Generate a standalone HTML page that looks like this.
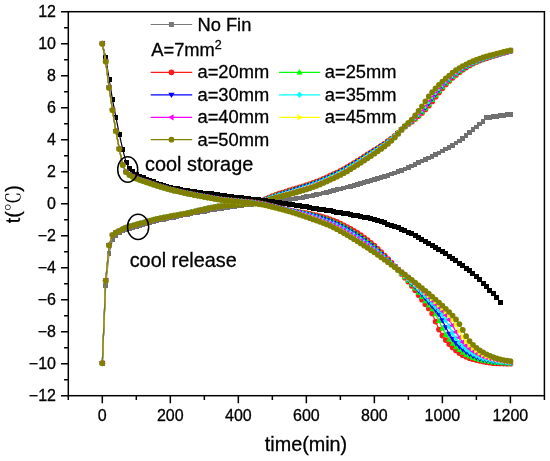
<!DOCTYPE html>
<html><head><meta charset="utf-8"><title>chart</title><style>html,body{margin:0;padding:0;background:#fff}svg{display:block}</style></head><body>
<svg width="550" height="461" viewBox="0 0 550 461">
<rect width="550" height="461" fill="#fff"/>
<polyline fill="none" stroke="#707070" stroke-width="1.2" points="102.31,363.22 105.71,285.30 109.11,253.30 112.51,239.70 115.91,235.38 119.31,232.87 122.71,231.03 126.11,229.58 129.51,228.42 132.91,227.41 136.31,226.39 139.72,225.42 143.12,224.49 146.52,223.55 149.92,222.62 153.32,221.72 156.72,220.90 160.12,220.13 163.52,219.40 166.92,218.70 170.32,217.99 173.72,217.28 177.12,216.57 180.52,215.87 183.92,215.17 187.32,214.48 190.73,213.79 194.13,213.12 197.53,212.47 200.93,211.83 204.33,211.20 207.73,210.57 211.13,209.96 214.53,209.37 217.93,208.82 221.33,208.30 224.73,207.80 228.13,207.33 231.53,206.88 234.94,206.44 238.34,206.01 241.74,205.59 245.14,205.17 248.54,204.76 251.94,204.35 255.34,203.93 258.74,203.51 262.14,203.08 265.54,202.63 268.94,202.19 272.34,201.75 275.74,201.30 279.14,200.86 282.55,200.40 285.95,199.94 289.35,199.48 292.75,199.00 296.15,198.53 299.55,198.00 302.95,197.40 306.35,196.76 309.75,196.08 313.15,195.36 316.55,194.61 319.95,193.84 323.35,193.04 326.75,192.23 330.16,191.40 333.56,190.57 336.96,189.73 340.36,188.90 343.76,188.05 347.16,187.19 350.56,186.31 353.96,185.41 357.36,184.49 360.76,183.55 364.16,182.58 367.56,181.59 370.96,180.59 374.36,179.58 377.76,178.56 381.17,177.51 384.57,176.43 387.97,175.33 391.37,174.19 394.77,173.01 398.17,171.78 401.57,170.50 404.97,169.13 408.37,167.64 411.77,166.05 415.17,164.41 418.57,162.76 421.97,161.14 425.37,159.53 428.78,157.91 432.18,156.27 435.58,154.58 438.98,152.82 442.38,151.02 445.78,149.19 449.18,147.29 452.58,145.29 455.98,143.16 459.38,140.83 462.78,138.22 466.18,135.41 469.58,132.52 472.99,129.65 476.39,126.89 479.79,124.18 483.19,121.30 486.59,117.78 489.99,117.28 493.39,116.77 496.79,116.27 500.19,115.77 503.59,115.27 506.99,114.76 510.39,114.26"/>
<g shape-rendering="crispEdges"><rect x="100.01" y="360.92" width="4.60" height="4.60" fill="#707070"/><rect x="103.41" y="283.00" width="4.60" height="4.60" fill="#707070"/><rect x="106.81" y="251.00" width="4.60" height="4.60" fill="#707070"/><rect x="110.21" y="237.40" width="4.60" height="4.60" fill="#707070"/><rect x="113.61" y="233.08" width="4.60" height="4.60" fill="#707070"/><rect x="117.01" y="230.57" width="4.60" height="4.60" fill="#707070"/><rect x="120.41" y="228.73" width="4.60" height="4.60" fill="#707070"/><rect x="123.81" y="227.28" width="4.60" height="4.60" fill="#707070"/><rect x="127.21" y="226.12" width="4.60" height="4.60" fill="#707070"/><rect x="130.61" y="225.11" width="4.60" height="4.60" fill="#707070"/><rect x="134.01" y="224.09" width="4.60" height="4.60" fill="#707070"/><rect x="137.41" y="223.12" width="4.60" height="4.60" fill="#707070"/><rect x="140.82" y="222.19" width="4.60" height="4.60" fill="#707070"/><rect x="144.22" y="221.25" width="4.60" height="4.60" fill="#707070"/><rect x="147.62" y="220.32" width="4.60" height="4.60" fill="#707070"/><rect x="151.02" y="219.42" width="4.60" height="4.60" fill="#707070"/><rect x="154.42" y="218.60" width="4.60" height="4.60" fill="#707070"/><rect x="157.82" y="217.83" width="4.60" height="4.60" fill="#707070"/><rect x="161.22" y="217.10" width="4.60" height="4.60" fill="#707070"/><rect x="164.62" y="216.40" width="4.60" height="4.60" fill="#707070"/><rect x="168.02" y="215.69" width="4.60" height="4.60" fill="#707070"/><rect x="171.42" y="214.98" width="4.60" height="4.60" fill="#707070"/><rect x="174.82" y="214.27" width="4.60" height="4.60" fill="#707070"/><rect x="178.22" y="213.57" width="4.60" height="4.60" fill="#707070"/><rect x="181.62" y="212.87" width="4.60" height="4.60" fill="#707070"/><rect x="185.02" y="212.18" width="4.60" height="4.60" fill="#707070"/><rect x="188.43" y="211.49" width="4.60" height="4.60" fill="#707070"/><rect x="191.83" y="210.82" width="4.60" height="4.60" fill="#707070"/><rect x="195.23" y="210.17" width="4.60" height="4.60" fill="#707070"/><rect x="198.63" y="209.53" width="4.60" height="4.60" fill="#707070"/><rect x="202.03" y="208.90" width="4.60" height="4.60" fill="#707070"/><rect x="205.43" y="208.27" width="4.60" height="4.60" fill="#707070"/><rect x="208.83" y="207.66" width="4.60" height="4.60" fill="#707070"/><rect x="212.23" y="207.07" width="4.60" height="4.60" fill="#707070"/><rect x="215.63" y="206.52" width="4.60" height="4.60" fill="#707070"/><rect x="219.03" y="206.00" width="4.60" height="4.60" fill="#707070"/><rect x="222.43" y="205.50" width="4.60" height="4.60" fill="#707070"/><rect x="225.83" y="205.03" width="4.60" height="4.60" fill="#707070"/><rect x="229.23" y="204.58" width="4.60" height="4.60" fill="#707070"/><rect x="232.63" y="204.14" width="4.60" height="4.60" fill="#707070"/><rect x="236.04" y="203.71" width="4.60" height="4.60" fill="#707070"/><rect x="239.44" y="203.29" width="4.60" height="4.60" fill="#707070"/><rect x="242.84" y="202.87" width="4.60" height="4.60" fill="#707070"/><rect x="246.24" y="202.46" width="4.60" height="4.60" fill="#707070"/><rect x="249.64" y="202.05" width="4.60" height="4.60" fill="#707070"/><rect x="253.04" y="201.63" width="4.60" height="4.60" fill="#707070"/><rect x="256.44" y="201.21" width="4.60" height="4.60" fill="#707070"/><rect x="259.84" y="200.78" width="4.60" height="4.60" fill="#707070"/><rect x="263.24" y="200.33" width="4.60" height="4.60" fill="#707070"/><rect x="266.64" y="199.89" width="4.60" height="4.60" fill="#707070"/><rect x="270.04" y="199.45" width="4.60" height="4.60" fill="#707070"/><rect x="273.44" y="199.00" width="4.60" height="4.60" fill="#707070"/><rect x="276.84" y="198.56" width="4.60" height="4.60" fill="#707070"/><rect x="280.25" y="198.10" width="4.60" height="4.60" fill="#707070"/><rect x="283.65" y="197.64" width="4.60" height="4.60" fill="#707070"/><rect x="287.05" y="197.18" width="4.60" height="4.60" fill="#707070"/><rect x="290.45" y="196.70" width="4.60" height="4.60" fill="#707070"/><rect x="293.85" y="196.23" width="4.60" height="4.60" fill="#707070"/><rect x="297.25" y="195.70" width="4.60" height="4.60" fill="#707070"/><rect x="300.65" y="195.10" width="4.60" height="4.60" fill="#707070"/><rect x="304.05" y="194.46" width="4.60" height="4.60" fill="#707070"/><rect x="307.45" y="193.78" width="4.60" height="4.60" fill="#707070"/><rect x="310.85" y="193.06" width="4.60" height="4.60" fill="#707070"/><rect x="314.25" y="192.31" width="4.60" height="4.60" fill="#707070"/><rect x="317.65" y="191.54" width="4.60" height="4.60" fill="#707070"/><rect x="321.05" y="190.74" width="4.60" height="4.60" fill="#707070"/><rect x="324.45" y="189.93" width="4.60" height="4.60" fill="#707070"/><rect x="327.86" y="189.10" width="4.60" height="4.60" fill="#707070"/><rect x="331.26" y="188.27" width="4.60" height="4.60" fill="#707070"/><rect x="334.66" y="187.43" width="4.60" height="4.60" fill="#707070"/><rect x="338.06" y="186.60" width="4.60" height="4.60" fill="#707070"/><rect x="341.46" y="185.75" width="4.60" height="4.60" fill="#707070"/><rect x="344.86" y="184.89" width="4.60" height="4.60" fill="#707070"/><rect x="348.26" y="184.01" width="4.60" height="4.60" fill="#707070"/><rect x="351.66" y="183.11" width="4.60" height="4.60" fill="#707070"/><rect x="355.06" y="182.19" width="4.60" height="4.60" fill="#707070"/><rect x="358.46" y="181.25" width="4.60" height="4.60" fill="#707070"/><rect x="361.86" y="180.28" width="4.60" height="4.60" fill="#707070"/><rect x="365.26" y="179.29" width="4.60" height="4.60" fill="#707070"/><rect x="368.66" y="178.29" width="4.60" height="4.60" fill="#707070"/><rect x="372.06" y="177.28" width="4.60" height="4.60" fill="#707070"/><rect x="375.46" y="176.26" width="4.60" height="4.60" fill="#707070"/><rect x="378.87" y="175.21" width="4.60" height="4.60" fill="#707070"/><rect x="382.27" y="174.13" width="4.60" height="4.60" fill="#707070"/><rect x="385.67" y="173.03" width="4.60" height="4.60" fill="#707070"/><rect x="389.07" y="171.89" width="4.60" height="4.60" fill="#707070"/><rect x="392.47" y="170.71" width="4.60" height="4.60" fill="#707070"/><rect x="395.87" y="169.48" width="4.60" height="4.60" fill="#707070"/><rect x="399.27" y="168.20" width="4.60" height="4.60" fill="#707070"/><rect x="402.67" y="166.83" width="4.60" height="4.60" fill="#707070"/><rect x="406.07" y="165.34" width="4.60" height="4.60" fill="#707070"/><rect x="409.47" y="163.75" width="4.60" height="4.60" fill="#707070"/><rect x="412.87" y="162.11" width="4.60" height="4.60" fill="#707070"/><rect x="416.27" y="160.46" width="4.60" height="4.60" fill="#707070"/><rect x="419.67" y="158.84" width="4.60" height="4.60" fill="#707070"/><rect x="423.07" y="157.23" width="4.60" height="4.60" fill="#707070"/><rect x="426.48" y="155.61" width="4.60" height="4.60" fill="#707070"/><rect x="429.88" y="153.97" width="4.60" height="4.60" fill="#707070"/><rect x="433.28" y="152.28" width="4.60" height="4.60" fill="#707070"/><rect x="436.68" y="150.52" width="4.60" height="4.60" fill="#707070"/><rect x="440.08" y="148.72" width="4.60" height="4.60" fill="#707070"/><rect x="443.48" y="146.89" width="4.60" height="4.60" fill="#707070"/><rect x="446.88" y="144.99" width="4.60" height="4.60" fill="#707070"/><rect x="450.28" y="142.99" width="4.60" height="4.60" fill="#707070"/><rect x="453.68" y="140.86" width="4.60" height="4.60" fill="#707070"/><rect x="457.08" y="138.53" width="4.60" height="4.60" fill="#707070"/><rect x="460.48" y="135.92" width="4.60" height="4.60" fill="#707070"/><rect x="463.88" y="133.11" width="4.60" height="4.60" fill="#707070"/><rect x="467.28" y="130.22" width="4.60" height="4.60" fill="#707070"/><rect x="470.69" y="127.35" width="4.60" height="4.60" fill="#707070"/><rect x="474.09" y="124.59" width="4.60" height="4.60" fill="#707070"/><rect x="477.49" y="121.88" width="4.60" height="4.60" fill="#707070"/><rect x="480.89" y="119.00" width="4.60" height="4.60" fill="#707070"/><rect x="484.29" y="115.48" width="4.60" height="4.60" fill="#707070"/><rect x="487.69" y="114.98" width="4.60" height="4.60" fill="#707070"/><rect x="491.09" y="114.47" width="4.60" height="4.60" fill="#707070"/><rect x="494.49" y="113.97" width="4.60" height="4.60" fill="#707070"/><rect x="497.89" y="113.47" width="4.60" height="4.60" fill="#707070"/><rect x="501.29" y="112.97" width="4.60" height="4.60" fill="#707070"/><rect x="504.69" y="112.46" width="4.60" height="4.60" fill="#707070"/><rect x="508.09" y="111.96" width="4.60" height="4.60" fill="#707070"/></g>
<polyline fill="none" stroke="#ff1a1a" stroke-width="1.2" points="102.31,363.22 105.71,280.50 109.11,245.30 112.51,234.99 115.91,232.70 119.31,230.93 122.71,229.10 126.11,227.70 129.51,226.61 132.91,225.63 136.31,224.64 139.72,223.68 143.12,222.74 146.52,221.77 149.92,220.76 153.32,219.80 156.72,218.99 160.12,218.29 163.52,217.64 166.92,217.01 170.32,216.38 173.72,215.72 177.12,215.07 180.52,214.43 183.92,213.77 187.32,213.08 190.73,212.35 194.13,211.52 197.53,210.67 200.93,209.87 204.33,209.10 207.73,208.33 211.13,207.59 214.53,206.90 217.93,206.28 221.33,205.73 224.73,205.27 228.13,204.87 231.53,204.52 234.94,204.20 238.34,203.90 241.74,203.58 245.14,203.25 248.54,202.87 251.94,202.44 255.34,201.94 258.74,201.34 262.14,200.52 265.54,199.23 268.94,197.68 272.34,196.11 275.74,194.74 279.14,193.60 282.55,192.53 285.95,191.50 289.35,190.47 292.75,189.42 296.15,188.38 299.55,187.33 302.95,186.26 306.35,185.19 309.75,184.09 313.15,182.92 316.55,181.64 319.95,180.25 323.35,178.78 326.75,177.26 330.16,175.71 333.56,174.14 336.96,172.52 340.36,170.83 343.76,169.05 347.16,167.14 350.56,165.12 353.96,163.03 357.36,160.92 360.76,158.81 364.16,156.65 367.56,154.48 370.96,152.30 374.36,150.15 377.76,148.01 381.17,145.80 384.57,143.54 387.97,141.19 391.37,138.66 394.77,135.90 398.17,132.81 401.57,129.42 404.97,126.58 408.37,124.11 411.77,121.67 415.17,118.97 418.57,116.03 421.97,112.90 425.37,109.51 428.78,105.74 432.18,101.38 435.58,96.85 438.98,92.56 442.38,88.33 445.78,84.46 449.18,81.00 452.58,77.83 455.98,74.91 459.38,72.21 462.78,69.78 466.18,67.54 469.58,65.45 472.99,63.57 476.39,61.97 479.79,60.57 483.19,59.31 486.59,58.15 489.99,57.05 493.39,55.97 496.79,54.90 500.19,53.87 503.59,52.89 506.99,51.95 510.39,51.06"/>
<g><circle cx="102.31" cy="363.22" r="2.86" fill="#ff1a1a"/><circle cx="105.71" cy="280.50" r="2.86" fill="#ff1a1a"/><circle cx="109.11" cy="245.30" r="2.86" fill="#ff1a1a"/><circle cx="112.51" cy="234.99" r="2.86" fill="#ff1a1a"/><circle cx="115.91" cy="232.70" r="2.86" fill="#ff1a1a"/><circle cx="119.31" cy="230.93" r="2.86" fill="#ff1a1a"/><circle cx="122.71" cy="229.10" r="2.86" fill="#ff1a1a"/><circle cx="126.11" cy="227.70" r="2.86" fill="#ff1a1a"/><circle cx="129.51" cy="226.61" r="2.86" fill="#ff1a1a"/><circle cx="132.91" cy="225.63" r="2.86" fill="#ff1a1a"/><circle cx="136.31" cy="224.64" r="2.86" fill="#ff1a1a"/><circle cx="139.72" cy="223.68" r="2.86" fill="#ff1a1a"/><circle cx="143.12" cy="222.74" r="2.86" fill="#ff1a1a"/><circle cx="146.52" cy="221.77" r="2.86" fill="#ff1a1a"/><circle cx="149.92" cy="220.76" r="2.86" fill="#ff1a1a"/><circle cx="153.32" cy="219.80" r="2.86" fill="#ff1a1a"/><circle cx="156.72" cy="218.99" r="2.86" fill="#ff1a1a"/><circle cx="160.12" cy="218.29" r="2.86" fill="#ff1a1a"/><circle cx="163.52" cy="217.64" r="2.86" fill="#ff1a1a"/><circle cx="166.92" cy="217.01" r="2.86" fill="#ff1a1a"/><circle cx="170.32" cy="216.38" r="2.86" fill="#ff1a1a"/><circle cx="173.72" cy="215.72" r="2.86" fill="#ff1a1a"/><circle cx="177.12" cy="215.07" r="2.86" fill="#ff1a1a"/><circle cx="180.52" cy="214.43" r="2.86" fill="#ff1a1a"/><circle cx="183.92" cy="213.77" r="2.86" fill="#ff1a1a"/><circle cx="187.32" cy="213.08" r="2.86" fill="#ff1a1a"/><circle cx="190.73" cy="212.35" r="2.86" fill="#ff1a1a"/><circle cx="194.13" cy="211.52" r="2.86" fill="#ff1a1a"/><circle cx="197.53" cy="210.67" r="2.86" fill="#ff1a1a"/><circle cx="200.93" cy="209.87" r="2.86" fill="#ff1a1a"/><circle cx="204.33" cy="209.10" r="2.86" fill="#ff1a1a"/><circle cx="207.73" cy="208.33" r="2.86" fill="#ff1a1a"/><circle cx="211.13" cy="207.59" r="2.86" fill="#ff1a1a"/><circle cx="214.53" cy="206.90" r="2.86" fill="#ff1a1a"/><circle cx="217.93" cy="206.28" r="2.86" fill="#ff1a1a"/><circle cx="221.33" cy="205.73" r="2.86" fill="#ff1a1a"/><circle cx="224.73" cy="205.27" r="2.86" fill="#ff1a1a"/><circle cx="228.13" cy="204.87" r="2.86" fill="#ff1a1a"/><circle cx="231.53" cy="204.52" r="2.86" fill="#ff1a1a"/><circle cx="234.94" cy="204.20" r="2.86" fill="#ff1a1a"/><circle cx="238.34" cy="203.90" r="2.86" fill="#ff1a1a"/><circle cx="241.74" cy="203.58" r="2.86" fill="#ff1a1a"/><circle cx="245.14" cy="203.25" r="2.86" fill="#ff1a1a"/><circle cx="248.54" cy="202.87" r="2.86" fill="#ff1a1a"/><circle cx="251.94" cy="202.44" r="2.86" fill="#ff1a1a"/><circle cx="255.34" cy="201.94" r="2.86" fill="#ff1a1a"/><circle cx="258.74" cy="201.34" r="2.86" fill="#ff1a1a"/><circle cx="262.14" cy="200.52" r="2.86" fill="#ff1a1a"/><circle cx="265.54" cy="199.23" r="2.86" fill="#ff1a1a"/><circle cx="268.94" cy="197.68" r="2.86" fill="#ff1a1a"/><circle cx="272.34" cy="196.11" r="2.86" fill="#ff1a1a"/><circle cx="275.74" cy="194.74" r="2.86" fill="#ff1a1a"/><circle cx="279.14" cy="193.60" r="2.86" fill="#ff1a1a"/><circle cx="282.55" cy="192.53" r="2.86" fill="#ff1a1a"/><circle cx="285.95" cy="191.50" r="2.86" fill="#ff1a1a"/><circle cx="289.35" cy="190.47" r="2.86" fill="#ff1a1a"/><circle cx="292.75" cy="189.42" r="2.86" fill="#ff1a1a"/><circle cx="296.15" cy="188.38" r="2.86" fill="#ff1a1a"/><circle cx="299.55" cy="187.33" r="2.86" fill="#ff1a1a"/><circle cx="302.95" cy="186.26" r="2.86" fill="#ff1a1a"/><circle cx="306.35" cy="185.19" r="2.86" fill="#ff1a1a"/><circle cx="309.75" cy="184.09" r="2.86" fill="#ff1a1a"/><circle cx="313.15" cy="182.92" r="2.86" fill="#ff1a1a"/><circle cx="316.55" cy="181.64" r="2.86" fill="#ff1a1a"/><circle cx="319.95" cy="180.25" r="2.86" fill="#ff1a1a"/><circle cx="323.35" cy="178.78" r="2.86" fill="#ff1a1a"/><circle cx="326.75" cy="177.26" r="2.86" fill="#ff1a1a"/><circle cx="330.16" cy="175.71" r="2.86" fill="#ff1a1a"/><circle cx="333.56" cy="174.14" r="2.86" fill="#ff1a1a"/><circle cx="336.96" cy="172.52" r="2.86" fill="#ff1a1a"/><circle cx="340.36" cy="170.83" r="2.86" fill="#ff1a1a"/><circle cx="343.76" cy="169.05" r="2.86" fill="#ff1a1a"/><circle cx="347.16" cy="167.14" r="2.86" fill="#ff1a1a"/><circle cx="350.56" cy="165.12" r="2.86" fill="#ff1a1a"/><circle cx="353.96" cy="163.03" r="2.86" fill="#ff1a1a"/><circle cx="357.36" cy="160.92" r="2.86" fill="#ff1a1a"/><circle cx="360.76" cy="158.81" r="2.86" fill="#ff1a1a"/><circle cx="364.16" cy="156.65" r="2.86" fill="#ff1a1a"/><circle cx="367.56" cy="154.48" r="2.86" fill="#ff1a1a"/><circle cx="370.96" cy="152.30" r="2.86" fill="#ff1a1a"/><circle cx="374.36" cy="150.15" r="2.86" fill="#ff1a1a"/><circle cx="377.76" cy="148.01" r="2.86" fill="#ff1a1a"/><circle cx="381.17" cy="145.80" r="2.86" fill="#ff1a1a"/><circle cx="384.57" cy="143.54" r="2.86" fill="#ff1a1a"/><circle cx="387.97" cy="141.19" r="2.86" fill="#ff1a1a"/><circle cx="391.37" cy="138.66" r="2.86" fill="#ff1a1a"/><circle cx="394.77" cy="135.90" r="2.86" fill="#ff1a1a"/><circle cx="398.17" cy="132.81" r="2.86" fill="#ff1a1a"/><circle cx="401.57" cy="129.42" r="2.86" fill="#ff1a1a"/><circle cx="404.97" cy="126.58" r="2.86" fill="#ff1a1a"/><circle cx="408.37" cy="124.11" r="2.86" fill="#ff1a1a"/><circle cx="411.77" cy="121.67" r="2.86" fill="#ff1a1a"/><circle cx="415.17" cy="118.97" r="2.86" fill="#ff1a1a"/><circle cx="418.57" cy="116.03" r="2.86" fill="#ff1a1a"/><circle cx="421.97" cy="112.90" r="2.86" fill="#ff1a1a"/><circle cx="425.37" cy="109.51" r="2.86" fill="#ff1a1a"/><circle cx="428.78" cy="105.74" r="2.86" fill="#ff1a1a"/><circle cx="432.18" cy="101.38" r="2.86" fill="#ff1a1a"/><circle cx="435.58" cy="96.85" r="2.86" fill="#ff1a1a"/><circle cx="438.98" cy="92.56" r="2.86" fill="#ff1a1a"/><circle cx="442.38" cy="88.33" r="2.86" fill="#ff1a1a"/><circle cx="445.78" cy="84.46" r="2.86" fill="#ff1a1a"/><circle cx="449.18" cy="81.00" r="2.86" fill="#ff1a1a"/><circle cx="452.58" cy="77.83" r="2.86" fill="#ff1a1a"/><circle cx="455.98" cy="74.91" r="2.86" fill="#ff1a1a"/><circle cx="459.38" cy="72.21" r="2.86" fill="#ff1a1a"/><circle cx="462.78" cy="69.78" r="2.86" fill="#ff1a1a"/><circle cx="466.18" cy="67.54" r="2.86" fill="#ff1a1a"/><circle cx="469.58" cy="65.45" r="2.86" fill="#ff1a1a"/><circle cx="472.99" cy="63.57" r="2.86" fill="#ff1a1a"/><circle cx="476.39" cy="61.97" r="2.86" fill="#ff1a1a"/><circle cx="479.79" cy="60.57" r="2.86" fill="#ff1a1a"/><circle cx="483.19" cy="59.31" r="2.86" fill="#ff1a1a"/><circle cx="486.59" cy="58.15" r="2.86" fill="#ff1a1a"/><circle cx="489.99" cy="57.05" r="2.86" fill="#ff1a1a"/><circle cx="493.39" cy="55.97" r="2.86" fill="#ff1a1a"/><circle cx="496.79" cy="54.90" r="2.86" fill="#ff1a1a"/><circle cx="500.19" cy="53.87" r="2.86" fill="#ff1a1a"/><circle cx="503.59" cy="52.89" r="2.86" fill="#ff1a1a"/><circle cx="506.99" cy="51.95" r="2.86" fill="#ff1a1a"/><circle cx="510.39" cy="51.06" r="2.86" fill="#ff1a1a"/></g>
<polyline fill="none" stroke="#00ff00" stroke-width="1.2" points="102.31,363.22 105.71,280.50 109.11,245.30 112.51,234.99 115.91,232.70 119.31,230.93 122.71,229.10 126.11,227.70 129.51,226.61 132.91,225.63 136.31,224.64 139.72,223.68 143.12,222.74 146.52,221.77 149.92,220.76 153.32,219.80 156.72,218.99 160.12,218.29 163.52,217.64 166.92,217.01 170.32,216.38 173.72,215.72 177.12,215.08 180.52,214.44 183.92,213.78 187.32,213.10 190.73,212.38 194.13,211.56 197.53,210.71 200.93,209.92 204.33,209.15 207.73,208.39 211.13,207.66 214.53,206.97 217.93,206.35 221.33,205.82 224.73,205.37 228.13,204.98 231.53,204.64 234.94,204.33 238.34,204.03 241.74,203.72 245.14,203.40 248.54,203.03 251.94,202.62 255.34,202.12 258.74,201.52 262.14,200.76 265.54,199.57 268.94,198.15 272.34,196.73 275.74,195.42 279.14,194.27 282.55,193.21 285.95,192.18 289.35,191.16 292.75,190.12 296.15,189.07 299.55,188.01 302.95,186.92 306.35,185.83 309.75,184.71 313.15,183.54 316.55,182.28 319.95,180.91 323.35,179.46 326.75,177.94 330.16,176.39 333.56,174.81 336.96,173.18 340.36,171.48 343.76,169.69 347.16,167.79 350.56,165.78 353.96,163.69 357.36,161.57 360.76,159.45 364.16,157.29 367.56,155.10 370.96,152.89 374.36,150.69 377.76,148.51 381.17,146.27 384.57,143.97 387.97,141.57 391.37,138.97 394.77,136.12 398.17,132.94 401.57,129.45 404.97,126.51 408.37,123.96 411.77,121.41 415.17,118.54 418.57,115.42 421.97,112.08 425.37,108.46 428.78,104.38 432.18,99.83 435.58,95.33 438.98,91.09 442.38,87.02 445.78,83.34 449.18,80.00 452.58,76.92 455.98,74.08 459.38,71.45 462.78,69.10 466.18,66.93 469.58,64.92 472.99,63.12 476.39,61.59 479.79,60.22 483.19,58.99 486.59,57.85 489.99,56.77 493.39,55.71 496.79,54.68 500.19,53.68 503.59,52.73 506.99,51.82 510.39,50.95"/>
<g><polygon points="102.31,359.92 99.23,365.36 105.39,365.36" fill="#00ff00"/><polygon points="105.71,277.20 102.63,282.64 108.79,282.64" fill="#00ff00"/><polygon points="109.11,242.00 106.03,247.45 112.19,247.45" fill="#00ff00"/><polygon points="112.51,231.69 109.43,237.13 115.59,237.13" fill="#00ff00"/><polygon points="115.91,229.40 112.83,234.84 118.99,234.84" fill="#00ff00"/><polygon points="119.31,227.63 116.23,233.07 122.39,233.07" fill="#00ff00"/><polygon points="122.71,225.80 119.63,231.24 125.79,231.24" fill="#00ff00"/><polygon points="126.11,224.40 123.03,229.85 129.19,229.85" fill="#00ff00"/><polygon points="129.51,223.31 126.43,228.76 132.59,228.76" fill="#00ff00"/><polygon points="132.91,222.33 129.83,227.78 135.99,227.78" fill="#00ff00"/><polygon points="136.31,221.34 133.23,226.79 139.39,226.79" fill="#00ff00"/><polygon points="139.72,220.38 136.63,225.83 142.80,225.83" fill="#00ff00"/><polygon points="143.12,219.44 140.04,224.88 146.20,224.88" fill="#00ff00"/><polygon points="146.52,218.47 143.44,223.91 149.60,223.91" fill="#00ff00"/><polygon points="149.92,217.46 146.84,222.90 153.00,222.90" fill="#00ff00"/><polygon points="153.32,216.50 150.24,221.95 156.40,221.95" fill="#00ff00"/><polygon points="156.72,215.69 153.64,221.14 159.80,221.14" fill="#00ff00"/><polygon points="160.12,214.99 157.04,220.43 163.20,220.43" fill="#00ff00"/><polygon points="163.52,214.34 160.44,219.78 166.60,219.78" fill="#00ff00"/><polygon points="166.92,213.71 163.84,219.16 170.00,219.16" fill="#00ff00"/><polygon points="170.32,213.08 167.24,218.52 173.40,218.52" fill="#00ff00"/><polygon points="173.72,212.42 170.64,217.87 176.80,217.87" fill="#00ff00"/><polygon points="177.12,211.78 174.04,217.22 180.20,217.22" fill="#00ff00"/><polygon points="180.52,211.14 177.44,216.58 183.60,216.58" fill="#00ff00"/><polygon points="183.92,210.48 180.84,215.93 187.00,215.93" fill="#00ff00"/><polygon points="187.32,209.80 184.24,215.25 190.41,215.25" fill="#00ff00"/><polygon points="190.73,209.08 187.65,214.52 193.81,214.52" fill="#00ff00"/><polygon points="194.13,208.26 191.05,213.70 197.21,213.70" fill="#00ff00"/><polygon points="197.53,207.41 194.45,212.86 200.61,212.86" fill="#00ff00"/><polygon points="200.93,206.62 197.85,212.07 204.01,212.07" fill="#00ff00"/><polygon points="204.33,205.85 201.25,211.30 207.41,211.30" fill="#00ff00"/><polygon points="207.73,205.09 204.65,210.54 210.81,210.54" fill="#00ff00"/><polygon points="211.13,204.36 208.05,209.80 214.21,209.80" fill="#00ff00"/><polygon points="214.53,203.67 211.45,209.12 217.61,209.12" fill="#00ff00"/><polygon points="217.93,203.05 214.85,208.50 221.01,208.50" fill="#00ff00"/><polygon points="221.33,202.52 218.25,207.96 224.41,207.96" fill="#00ff00"/><polygon points="224.73,202.07 221.65,207.51 227.81,207.51" fill="#00ff00"/><polygon points="228.13,201.68 225.05,207.13 231.21,207.13" fill="#00ff00"/><polygon points="231.53,201.34 228.45,206.79 234.61,206.79" fill="#00ff00"/><polygon points="234.94,201.03 231.85,206.47 238.02,206.47" fill="#00ff00"/><polygon points="238.34,200.73 235.26,206.17 241.42,206.17" fill="#00ff00"/><polygon points="241.74,200.42 238.66,205.87 244.82,205.87" fill="#00ff00"/><polygon points="245.14,200.10 242.06,205.54 248.22,205.54" fill="#00ff00"/><polygon points="248.54,199.73 245.46,205.18 251.62,205.18" fill="#00ff00"/><polygon points="251.94,199.32 248.86,204.76 255.02,204.76" fill="#00ff00"/><polygon points="255.34,198.82 252.26,204.27 258.42,204.27" fill="#00ff00"/><polygon points="258.74,198.22 255.66,203.67 261.82,203.67" fill="#00ff00"/><polygon points="262.14,197.46 259.06,202.90 265.22,202.90" fill="#00ff00"/><polygon points="265.54,196.27 262.46,201.72 268.62,201.72" fill="#00ff00"/><polygon points="268.94,194.85 265.86,200.29 272.02,200.29" fill="#00ff00"/><polygon points="272.34,193.43 269.26,198.88 275.42,198.88" fill="#00ff00"/><polygon points="275.74,192.12 272.66,197.57 278.82,197.57" fill="#00ff00"/><polygon points="279.14,190.97 276.06,196.42 282.22,196.42" fill="#00ff00"/><polygon points="282.55,189.91 279.47,195.35 285.62,195.35" fill="#00ff00"/><polygon points="285.95,188.88 282.87,194.32 289.03,194.32" fill="#00ff00"/><polygon points="289.35,187.86 286.27,193.30 292.43,193.30" fill="#00ff00"/><polygon points="292.75,186.82 289.67,192.26 295.83,192.26" fill="#00ff00"/><polygon points="296.15,185.77 293.07,191.21 299.23,191.21" fill="#00ff00"/><polygon points="299.55,184.71 296.47,190.16 302.63,190.16" fill="#00ff00"/><polygon points="302.95,183.62 299.87,189.07 306.03,189.07" fill="#00ff00"/><polygon points="306.35,182.53 303.27,187.97 309.43,187.97" fill="#00ff00"/><polygon points="309.75,181.41 306.67,186.85 312.83,186.85" fill="#00ff00"/><polygon points="313.15,180.24 310.07,185.68 316.23,185.68" fill="#00ff00"/><polygon points="316.55,178.98 313.47,184.42 319.63,184.42" fill="#00ff00"/><polygon points="319.95,177.61 316.87,183.06 323.03,183.06" fill="#00ff00"/><polygon points="323.35,176.16 320.27,181.60 326.43,181.60" fill="#00ff00"/><polygon points="326.75,174.64 323.67,180.09 329.83,180.09" fill="#00ff00"/><polygon points="330.16,173.09 327.08,178.54 333.24,178.54" fill="#00ff00"/><polygon points="333.56,171.51 330.48,176.95 336.64,176.95" fill="#00ff00"/><polygon points="336.96,169.88 333.88,175.33 340.04,175.33" fill="#00ff00"/><polygon points="340.36,168.18 337.28,173.63 343.44,173.63" fill="#00ff00"/><polygon points="343.76,166.39 340.68,171.84 346.84,171.84" fill="#00ff00"/><polygon points="347.16,164.49 344.08,169.94 350.24,169.94" fill="#00ff00"/><polygon points="350.56,162.48 347.48,167.92 353.64,167.92" fill="#00ff00"/><polygon points="353.96,160.39 350.88,165.84 357.04,165.84" fill="#00ff00"/><polygon points="357.36,158.27 354.28,163.72 360.44,163.72" fill="#00ff00"/><polygon points="360.76,156.15 357.68,161.59 363.84,161.59" fill="#00ff00"/><polygon points="364.16,153.99 361.08,159.43 367.24,159.43" fill="#00ff00"/><polygon points="367.56,151.80 364.48,157.24 370.64,157.24" fill="#00ff00"/><polygon points="370.96,149.59 367.88,155.04 374.04,155.04" fill="#00ff00"/><polygon points="374.36,147.39 371.28,152.84 377.44,152.84" fill="#00ff00"/><polygon points="377.76,145.21 374.69,150.65 380.84,150.65" fill="#00ff00"/><polygon points="381.17,142.97 378.09,148.42 384.25,148.42" fill="#00ff00"/><polygon points="384.57,140.67 381.49,146.12 387.65,146.12" fill="#00ff00"/><polygon points="387.97,138.27 384.89,143.71 391.05,143.71" fill="#00ff00"/><polygon points="391.37,135.67 388.29,141.11 394.45,141.11" fill="#00ff00"/><polygon points="394.77,132.82 391.69,138.26 397.85,138.26" fill="#00ff00"/><polygon points="398.17,129.64 395.09,135.09 401.25,135.09" fill="#00ff00"/><polygon points="401.57,126.15 398.49,131.60 404.65,131.60" fill="#00ff00"/><polygon points="404.97,123.21 401.89,128.66 408.05,128.66" fill="#00ff00"/><polygon points="408.37,120.66 405.29,126.10 411.45,126.10" fill="#00ff00"/><polygon points="411.77,118.11 408.69,123.55 414.85,123.55" fill="#00ff00"/><polygon points="415.17,115.24 412.09,120.69 418.25,120.69" fill="#00ff00"/><polygon points="418.57,112.12 415.49,117.57 421.65,117.57" fill="#00ff00"/><polygon points="421.97,108.78 418.89,114.22 425.05,114.22" fill="#00ff00"/><polygon points="425.37,105.16 422.29,110.60 428.45,110.60" fill="#00ff00"/><polygon points="428.78,101.08 425.70,106.53 431.86,106.53" fill="#00ff00"/><polygon points="432.18,96.53 429.10,101.97 435.26,101.97" fill="#00ff00"/><polygon points="435.58,92.03 432.50,97.47 438.66,97.47" fill="#00ff00"/><polygon points="438.98,87.79 435.90,93.24 442.06,93.24" fill="#00ff00"/><polygon points="442.38,83.72 439.30,89.16 445.46,89.16" fill="#00ff00"/><polygon points="445.78,80.04 442.70,85.49 448.86,85.49" fill="#00ff00"/><polygon points="449.18,76.70 446.10,82.14 452.26,82.14" fill="#00ff00"/><polygon points="452.58,73.62 449.50,79.07 455.66,79.07" fill="#00ff00"/><polygon points="455.98,70.78 452.90,76.22 459.06,76.22" fill="#00ff00"/><polygon points="459.38,68.15 456.30,73.59 462.46,73.59" fill="#00ff00"/><polygon points="462.78,65.80 459.70,71.24 465.86,71.24" fill="#00ff00"/><polygon points="466.18,63.63 463.10,69.07 469.26,69.07" fill="#00ff00"/><polygon points="469.58,61.62 466.50,67.06 472.66,67.06" fill="#00ff00"/><polygon points="472.99,59.82 469.91,65.27 476.06,65.27" fill="#00ff00"/><polygon points="476.39,58.29 473.31,63.73 479.47,63.73" fill="#00ff00"/><polygon points="479.79,56.92 476.71,62.37 482.87,62.37" fill="#00ff00"/><polygon points="483.19,55.69 480.11,61.13 486.27,61.13" fill="#00ff00"/><polygon points="486.59,54.55 483.51,59.99 489.67,59.99" fill="#00ff00"/><polygon points="489.99,53.47 486.91,58.91 493.07,58.91" fill="#00ff00"/><polygon points="493.39,52.41 490.31,57.86 496.47,57.86" fill="#00ff00"/><polygon points="496.79,51.38 493.71,56.82 499.87,56.82" fill="#00ff00"/><polygon points="500.19,50.38 497.11,55.83 503.27,55.83" fill="#00ff00"/><polygon points="503.59,49.43 500.51,54.87 506.67,54.87" fill="#00ff00"/><polygon points="506.99,48.52 503.91,53.96 510.07,53.96" fill="#00ff00"/><polygon points="510.39,47.65 507.31,53.10 513.47,53.10" fill="#00ff00"/></g>
<polyline fill="none" stroke="#0000ff" stroke-width="1.2" points="102.31,363.22 105.71,280.50 109.11,245.30 112.51,234.99 115.91,232.70 119.31,230.93 122.71,229.10 126.11,227.70 129.51,226.61 132.91,225.63 136.31,224.64 139.72,223.68 143.12,222.74 146.52,221.77 149.92,220.76 153.32,219.80 156.72,218.99 160.12,218.29 163.52,217.64 166.92,217.01 170.32,216.38 173.72,215.72 177.12,215.08 180.52,214.45 183.92,213.80 187.32,213.12 190.73,212.40 194.13,211.60 197.53,210.76 200.93,209.98 204.33,209.21 207.73,208.46 211.13,207.72 214.53,207.04 217.93,206.43 221.33,205.90 224.73,205.46 228.13,205.08 231.53,204.75 234.94,204.45 238.34,204.16 241.74,203.86 245.14,203.55 248.54,203.19 251.94,202.79 255.34,202.32 258.74,201.72 262.14,200.98 265.54,199.89 268.94,198.55 272.34,197.23 275.74,196.02 279.14,194.90 282.55,193.86 285.95,192.84 289.35,191.83 292.75,190.81 296.15,189.76 299.55,188.70 302.95,187.62 306.35,186.50 309.75,185.36 313.15,184.18 316.55,182.92 319.95,181.57 323.35,180.13 326.75,178.63 330.16,177.08 333.56,175.49 336.96,173.86 340.36,172.15 343.76,170.35 347.16,168.46 350.56,166.44 353.96,164.36 357.36,162.23 360.76,160.09 364.16,157.93 367.56,155.72 370.96,153.50 374.36,151.27 377.76,149.03 381.17,146.77 384.57,144.42 387.97,141.97 391.37,139.29 394.77,136.35 398.17,133.08 401.57,129.48 404.97,126.45 408.37,123.79 411.77,121.11 415.17,118.07 418.57,114.74 421.97,111.16 425.37,107.30 428.78,102.91 432.18,98.24 435.58,93.84 438.98,89.68 442.38,85.79 445.78,82.27 449.18,79.04 452.58,76.05 455.98,73.26 459.38,70.70 462.78,68.44 466.18,66.34 469.58,64.41 472.99,62.70 476.39,61.21 479.79,59.88 483.19,58.67 486.59,57.55 489.99,56.49 493.39,55.46 496.79,54.46 500.19,53.49 503.59,52.57 506.99,51.68 510.39,50.85"/>
<g><polygon points="102.31,366.52 99.23,361.07 105.39,361.07" fill="#0000ff"/><polygon points="105.71,283.80 102.63,278.36 108.79,278.36" fill="#0000ff"/><polygon points="109.11,248.60 106.03,243.16 112.19,243.16" fill="#0000ff"/><polygon points="112.51,238.29 109.43,232.84 115.59,232.84" fill="#0000ff"/><polygon points="115.91,236.00 112.83,230.55 118.99,230.55" fill="#0000ff"/><polygon points="119.31,234.23 116.23,228.78 122.39,228.78" fill="#0000ff"/><polygon points="122.71,232.40 119.63,226.95 125.79,226.95" fill="#0000ff"/><polygon points="126.11,231.00 123.03,225.56 129.19,225.56" fill="#0000ff"/><polygon points="129.51,229.91 126.43,224.47 132.59,224.47" fill="#0000ff"/><polygon points="132.91,228.93 129.83,223.49 135.99,223.49" fill="#0000ff"/><polygon points="136.31,227.94 133.23,222.50 139.39,222.50" fill="#0000ff"/><polygon points="139.72,226.98 136.63,221.54 142.80,221.54" fill="#0000ff"/><polygon points="143.12,226.04 140.04,220.59 146.20,220.59" fill="#0000ff"/><polygon points="146.52,225.07 143.44,219.62 149.60,219.62" fill="#0000ff"/><polygon points="149.92,224.06 146.84,218.61 153.00,218.61" fill="#0000ff"/><polygon points="153.32,223.10 150.24,217.66 156.40,217.66" fill="#0000ff"/><polygon points="156.72,222.29 153.64,216.85 159.80,216.85" fill="#0000ff"/><polygon points="160.12,221.59 157.04,216.14 163.20,216.14" fill="#0000ff"/><polygon points="163.52,220.94 160.44,215.49 166.60,215.49" fill="#0000ff"/><polygon points="166.92,220.31 163.84,214.87 170.00,214.87" fill="#0000ff"/><polygon points="170.32,219.68 167.24,214.23 173.40,214.23" fill="#0000ff"/><polygon points="173.72,219.02 170.64,213.58 176.80,213.58" fill="#0000ff"/><polygon points="177.12,218.38 174.04,212.94 180.20,212.94" fill="#0000ff"/><polygon points="180.52,217.75 177.44,212.30 183.60,212.30" fill="#0000ff"/><polygon points="183.92,217.10 180.84,211.65 187.00,211.65" fill="#0000ff"/><polygon points="187.32,216.42 184.24,210.98 190.41,210.98" fill="#0000ff"/><polygon points="190.73,215.70 187.65,210.26 193.81,210.26" fill="#0000ff"/><polygon points="194.13,214.90 191.05,209.45 197.21,209.45" fill="#0000ff"/><polygon points="197.53,214.06 194.45,208.62 200.61,208.62" fill="#0000ff"/><polygon points="200.93,213.28 197.85,207.83 204.01,207.83" fill="#0000ff"/><polygon points="204.33,212.51 201.25,207.07 207.41,207.07" fill="#0000ff"/><polygon points="207.73,211.76 204.65,206.31 210.81,206.31" fill="#0000ff"/><polygon points="211.13,211.02 208.05,205.58 214.21,205.58" fill="#0000ff"/><polygon points="214.53,210.34 211.45,204.89 217.61,204.89" fill="#0000ff"/><polygon points="217.93,209.73 214.85,204.28 221.01,204.28" fill="#0000ff"/><polygon points="221.33,209.20 218.25,203.76 224.41,203.76" fill="#0000ff"/><polygon points="224.73,208.76 221.65,203.32 227.81,203.32" fill="#0000ff"/><polygon points="228.13,208.38 225.05,202.94 231.21,202.94" fill="#0000ff"/><polygon points="231.53,208.05 228.45,202.61 234.61,202.61" fill="#0000ff"/><polygon points="234.94,207.75 231.85,202.31 238.02,202.31" fill="#0000ff"/><polygon points="238.34,207.46 235.26,202.02 241.42,202.02" fill="#0000ff"/><polygon points="241.74,207.16 238.66,201.72 244.82,201.72" fill="#0000ff"/><polygon points="245.14,206.85 242.06,201.40 248.22,201.40" fill="#0000ff"/><polygon points="248.54,206.49 245.46,201.05 251.62,201.05" fill="#0000ff"/><polygon points="251.94,206.09 248.86,200.64 255.02,200.64" fill="#0000ff"/><polygon points="255.34,205.62 252.26,200.17 258.42,200.17" fill="#0000ff"/><polygon points="258.74,205.02 255.66,199.58 261.82,199.58" fill="#0000ff"/><polygon points="262.14,204.28 259.06,198.84 265.22,198.84" fill="#0000ff"/><polygon points="265.54,203.19 262.46,197.74 268.62,197.74" fill="#0000ff"/><polygon points="268.94,201.85 265.86,196.40 272.02,196.40" fill="#0000ff"/><polygon points="272.34,200.53 269.26,195.09 275.42,195.09" fill="#0000ff"/><polygon points="275.74,199.32 272.66,193.88 278.82,193.88" fill="#0000ff"/><polygon points="279.14,198.20 276.06,192.76 282.22,192.76" fill="#0000ff"/><polygon points="282.55,197.16 279.47,191.71 285.62,191.71" fill="#0000ff"/><polygon points="285.95,196.14 282.87,190.70 289.03,190.70" fill="#0000ff"/><polygon points="289.35,195.13 286.27,189.69 292.43,189.69" fill="#0000ff"/><polygon points="292.75,194.11 289.67,188.67 295.83,188.67" fill="#0000ff"/><polygon points="296.15,193.06 293.07,187.62 299.23,187.62" fill="#0000ff"/><polygon points="299.55,192.00 296.47,186.56 302.63,186.56" fill="#0000ff"/><polygon points="302.95,190.92 299.87,185.48 306.03,185.48" fill="#0000ff"/><polygon points="306.35,189.80 303.27,184.36 309.43,184.36" fill="#0000ff"/><polygon points="309.75,188.66 306.67,183.22 312.83,183.22" fill="#0000ff"/><polygon points="313.15,187.48 310.07,182.03 316.23,182.03" fill="#0000ff"/><polygon points="316.55,186.22 313.47,180.78 319.63,180.78" fill="#0000ff"/><polygon points="319.95,184.87 316.87,179.43 323.03,179.43" fill="#0000ff"/><polygon points="323.35,183.43 320.27,177.99 326.43,177.99" fill="#0000ff"/><polygon points="326.75,181.93 323.67,176.48 329.83,176.48" fill="#0000ff"/><polygon points="330.16,180.38 327.08,174.93 333.24,174.93" fill="#0000ff"/><polygon points="333.56,178.79 330.48,173.35 336.64,173.35" fill="#0000ff"/><polygon points="336.96,177.16 333.88,171.71 340.04,171.71" fill="#0000ff"/><polygon points="340.36,175.45 337.28,170.01 343.44,170.01" fill="#0000ff"/><polygon points="343.76,173.65 340.68,168.21 346.84,168.21" fill="#0000ff"/><polygon points="347.16,171.76 344.08,166.31 350.24,166.31" fill="#0000ff"/><polygon points="350.56,169.74 347.48,164.30 353.64,164.30" fill="#0000ff"/><polygon points="353.96,167.66 350.88,162.21 357.04,162.21" fill="#0000ff"/><polygon points="357.36,165.53 354.28,160.09 360.44,160.09" fill="#0000ff"/><polygon points="360.76,163.39 357.68,157.95 363.84,157.95" fill="#0000ff"/><polygon points="364.16,161.23 361.08,155.78 367.24,155.78" fill="#0000ff"/><polygon points="367.56,159.02 364.48,153.58 370.64,153.58" fill="#0000ff"/><polygon points="370.96,156.80 367.88,151.36 374.04,151.36" fill="#0000ff"/><polygon points="374.36,154.57 371.28,149.12 377.44,149.12" fill="#0000ff"/><polygon points="377.76,152.33 374.69,146.89 380.84,146.89" fill="#0000ff"/><polygon points="381.17,150.07 378.09,144.62 384.25,144.62" fill="#0000ff"/><polygon points="384.57,147.72 381.49,142.28 387.65,142.28" fill="#0000ff"/><polygon points="387.97,145.27 384.89,139.82 391.05,139.82" fill="#0000ff"/><polygon points="391.37,142.59 388.29,137.15 394.45,137.15" fill="#0000ff"/><polygon points="394.77,139.65 391.69,134.21 397.85,134.21" fill="#0000ff"/><polygon points="398.17,136.38 395.09,130.94 401.25,130.94" fill="#0000ff"/><polygon points="401.57,132.78 398.49,127.34 404.65,127.34" fill="#0000ff"/><polygon points="404.97,129.75 401.89,124.30 408.05,124.30" fill="#0000ff"/><polygon points="408.37,127.09 405.29,121.65 411.45,121.65" fill="#0000ff"/><polygon points="411.77,124.41 408.69,118.97 414.85,118.97" fill="#0000ff"/><polygon points="415.17,121.37 412.09,115.92 418.25,115.92" fill="#0000ff"/><polygon points="418.57,118.04 415.49,112.60 421.65,112.60" fill="#0000ff"/><polygon points="421.97,114.46 418.89,109.01 425.05,109.01" fill="#0000ff"/><polygon points="425.37,110.60 422.29,105.15 428.45,105.15" fill="#0000ff"/><polygon points="428.78,106.21 425.70,100.77 431.86,100.77" fill="#0000ff"/><polygon points="432.18,101.54 429.10,96.10 435.26,96.10" fill="#0000ff"/><polygon points="435.58,97.14 432.50,91.70 438.66,91.70" fill="#0000ff"/><polygon points="438.98,92.98 435.90,87.54 442.06,87.54" fill="#0000ff"/><polygon points="442.38,89.09 439.30,83.65 445.46,83.65" fill="#0000ff"/><polygon points="445.78,85.57 442.70,80.13 448.86,80.13" fill="#0000ff"/><polygon points="449.18,82.34 446.10,76.89 452.26,76.89" fill="#0000ff"/><polygon points="452.58,79.35 449.50,73.91 455.66,73.91" fill="#0000ff"/><polygon points="455.98,76.56 452.90,71.11 459.06,71.11" fill="#0000ff"/><polygon points="459.38,74.00 456.30,68.55 462.46,68.55" fill="#0000ff"/><polygon points="462.78,71.74 459.70,66.29 465.86,66.29" fill="#0000ff"/><polygon points="466.18,69.64 463.10,64.20 469.26,64.20" fill="#0000ff"/><polygon points="469.58,67.71 466.50,62.27 472.66,62.27" fill="#0000ff"/><polygon points="472.99,66.00 469.91,60.56 476.06,60.56" fill="#0000ff"/><polygon points="476.39,64.51 473.31,59.07 479.47,59.07" fill="#0000ff"/><polygon points="479.79,63.18 476.71,57.74 482.87,57.74" fill="#0000ff"/><polygon points="483.19,61.97 480.11,56.53 486.27,56.53" fill="#0000ff"/><polygon points="486.59,60.85 483.51,55.41 489.67,55.41" fill="#0000ff"/><polygon points="489.99,59.79 486.91,54.34 493.07,54.34" fill="#0000ff"/><polygon points="493.39,58.76 490.31,53.31 496.47,53.31" fill="#0000ff"/><polygon points="496.79,57.76 493.71,52.31 499.87,52.31" fill="#0000ff"/><polygon points="500.19,56.79 497.11,51.35 503.27,51.35" fill="#0000ff"/><polygon points="503.59,55.87 500.51,50.42 506.67,50.42" fill="#0000ff"/><polygon points="506.99,54.98 503.91,49.54 510.07,49.54" fill="#0000ff"/><polygon points="510.39,54.15 507.31,48.70 513.47,48.70" fill="#0000ff"/></g>
<polyline fill="none" stroke="#00ffff" stroke-width="1.2" points="102.31,363.22 105.71,280.50 109.11,245.30 112.51,234.99 115.91,232.70 119.31,230.93 122.71,229.10 126.11,227.70 129.51,226.61 132.91,225.63 136.31,224.64 139.72,223.68 143.12,222.74 146.52,221.77 149.92,220.76 153.32,219.80 156.72,218.99 160.12,218.28 163.52,217.63 166.92,217.01 170.32,216.38 173.72,215.72 177.12,215.09 180.52,214.46 183.92,213.82 187.32,213.15 190.73,212.43 194.13,211.63 197.53,210.81 200.93,210.03 204.33,209.27 207.73,208.52 211.13,207.79 214.53,207.11 217.93,206.50 221.33,205.99 224.73,205.55 228.13,205.19 231.53,204.87 234.94,204.57 238.34,204.29 241.74,204.00 245.14,203.69 248.54,203.35 251.94,202.96 255.34,202.51 258.74,201.94 262.14,201.20 265.54,200.17 268.94,198.91 272.34,197.64 275.74,196.52 279.14,195.47 282.55,194.47 285.95,193.48 289.35,192.49 292.75,191.49 296.15,190.46 299.55,189.41 302.95,188.33 306.35,187.21 309.75,186.05 313.15,184.85 316.55,183.59 319.95,182.24 323.35,180.81 326.75,179.32 330.16,177.77 333.56,176.18 336.96,174.55 340.36,172.84 343.76,171.04 347.16,169.13 350.56,167.12 353.96,165.03 357.36,162.90 360.76,160.75 364.16,158.57 367.56,156.36 370.96,154.12 374.36,151.86 377.76,149.58 381.17,147.28 384.57,144.90 387.97,142.39 391.37,139.64 394.77,136.61 398.17,133.23 401.57,129.52 404.97,126.37 408.37,123.61 411.77,120.79 415.17,117.54 418.57,113.97 421.97,110.12 425.37,105.99 428.78,101.35 432.18,96.65 435.58,92.38 438.98,88.36 442.38,84.64 445.78,81.25 449.18,78.11 452.58,75.20 455.98,72.46 459.38,69.98 462.78,67.81 466.18,65.79 469.58,63.94 472.99,62.30 476.39,60.85 479.79,59.55 483.19,58.36 486.59,57.26 489.99,56.22 493.39,55.21 496.79,54.24 500.19,53.30 503.59,52.40 506.99,51.55 510.39,50.74"/>
<g><polygon points="102.31,359.92 105.06,363.22 102.31,366.52 99.56,363.22" fill="#00ffff"/><polygon points="105.71,277.20 108.46,280.50 105.71,283.80 102.96,280.50" fill="#00ffff"/><polygon points="109.11,242.00 111.86,245.30 109.11,248.60 106.36,245.30" fill="#00ffff"/><polygon points="112.51,231.69 115.26,234.99 112.51,238.29 109.76,234.99" fill="#00ffff"/><polygon points="115.91,229.40 118.66,232.70 115.91,236.00 113.16,232.70" fill="#00ffff"/><polygon points="119.31,227.63 122.06,230.93 119.31,234.23 116.56,230.93" fill="#00ffff"/><polygon points="122.71,225.80 125.46,229.10 122.71,232.40 119.96,229.10" fill="#00ffff"/><polygon points="126.11,224.40 128.86,227.70 126.11,231.00 123.36,227.70" fill="#00ffff"/><polygon points="129.51,223.31 132.26,226.61 129.51,229.91 126.76,226.61" fill="#00ffff"/><polygon points="132.91,222.33 135.66,225.63 132.91,228.93 130.16,225.63" fill="#00ffff"/><polygon points="136.31,221.34 139.06,224.64 136.31,227.94 133.56,224.64" fill="#00ffff"/><polygon points="139.72,220.38 142.47,223.68 139.72,226.98 136.97,223.68" fill="#00ffff"/><polygon points="143.12,219.44 145.87,222.74 143.12,226.04 140.37,222.74" fill="#00ffff"/><polygon points="146.52,218.47 149.27,221.77 146.52,225.07 143.77,221.77" fill="#00ffff"/><polygon points="149.92,217.46 152.67,220.76 149.92,224.06 147.17,220.76" fill="#00ffff"/><polygon points="153.32,216.50 156.07,219.80 153.32,223.10 150.57,219.80" fill="#00ffff"/><polygon points="156.72,215.69 159.47,218.99 156.72,222.29 153.97,218.99" fill="#00ffff"/><polygon points="160.12,214.98 162.87,218.28 160.12,221.58 157.37,218.28" fill="#00ffff"/><polygon points="163.52,214.33 166.27,217.63 163.52,220.93 160.77,217.63" fill="#00ffff"/><polygon points="166.92,213.71 169.67,217.01 166.92,220.31 164.17,217.01" fill="#00ffff"/><polygon points="170.32,213.08 173.07,216.38 170.32,219.68 167.57,216.38" fill="#00ffff"/><polygon points="173.72,212.42 176.47,215.72 173.72,219.02 170.97,215.72" fill="#00ffff"/><polygon points="177.12,211.79 179.87,215.09 177.12,218.39 174.37,215.09" fill="#00ffff"/><polygon points="180.52,211.16 183.27,214.46 180.52,217.76 177.77,214.46" fill="#00ffff"/><polygon points="183.92,210.52 186.67,213.82 183.92,217.12 181.17,213.82" fill="#00ffff"/><polygon points="187.32,209.85 190.07,213.15 187.32,216.45 184.57,213.15" fill="#00ffff"/><polygon points="190.73,209.13 193.48,212.43 190.73,215.73 187.98,212.43" fill="#00ffff"/><polygon points="194.13,208.33 196.88,211.63 194.13,214.93 191.38,211.63" fill="#00ffff"/><polygon points="197.53,207.51 200.28,210.81 197.53,214.11 194.78,210.81" fill="#00ffff"/><polygon points="200.93,206.73 203.68,210.03 200.93,213.33 198.18,210.03" fill="#00ffff"/><polygon points="204.33,205.97 207.08,209.27 204.33,212.57 201.58,209.27" fill="#00ffff"/><polygon points="207.73,205.22 210.48,208.52 207.73,211.82 204.98,208.52" fill="#00ffff"/><polygon points="211.13,204.49 213.88,207.79 211.13,211.09 208.38,207.79" fill="#00ffff"/><polygon points="214.53,203.81 217.28,207.11 214.53,210.41 211.78,207.11" fill="#00ffff"/><polygon points="217.93,203.20 220.68,206.50 217.93,209.80 215.18,206.50" fill="#00ffff"/><polygon points="221.33,202.69 224.08,205.99 221.33,209.29 218.58,205.99" fill="#00ffff"/><polygon points="224.73,202.25 227.48,205.55 224.73,208.85 221.98,205.55" fill="#00ffff"/><polygon points="228.13,201.89 230.88,205.19 228.13,208.49 225.38,205.19" fill="#00ffff"/><polygon points="231.53,201.57 234.28,204.87 231.53,208.17 228.78,204.87" fill="#00ffff"/><polygon points="234.94,201.27 237.69,204.57 234.94,207.87 232.19,204.57" fill="#00ffff"/><polygon points="238.34,200.99 241.09,204.29 238.34,207.59 235.59,204.29" fill="#00ffff"/><polygon points="241.74,200.70 244.49,204.00 241.74,207.30 238.99,204.00" fill="#00ffff"/><polygon points="245.14,200.39 247.89,203.69 245.14,206.99 242.39,203.69" fill="#00ffff"/><polygon points="248.54,200.05 251.29,203.35 248.54,206.65 245.79,203.35" fill="#00ffff"/><polygon points="251.94,199.66 254.69,202.96 251.94,206.26 249.19,202.96" fill="#00ffff"/><polygon points="255.34,199.21 258.09,202.51 255.34,205.81 252.59,202.51" fill="#00ffff"/><polygon points="258.74,198.64 261.49,201.94 258.74,205.24 255.99,201.94" fill="#00ffff"/><polygon points="262.14,197.90 264.89,201.20 262.14,204.50 259.39,201.20" fill="#00ffff"/><polygon points="265.54,196.87 268.29,200.17 265.54,203.47 262.79,200.17" fill="#00ffff"/><polygon points="268.94,195.61 271.69,198.91 268.94,202.21 266.19,198.91" fill="#00ffff"/><polygon points="272.34,194.34 275.09,197.64 272.34,200.94 269.59,197.64" fill="#00ffff"/><polygon points="275.74,193.22 278.49,196.52 275.74,199.82 272.99,196.52" fill="#00ffff"/><polygon points="279.14,192.17 281.89,195.47 279.14,198.77 276.39,195.47" fill="#00ffff"/><polygon points="282.55,191.17 285.30,194.47 282.55,197.77 279.80,194.47" fill="#00ffff"/><polygon points="285.95,190.18 288.70,193.48 285.95,196.78 283.20,193.48" fill="#00ffff"/><polygon points="289.35,189.19 292.10,192.49 289.35,195.79 286.60,192.49" fill="#00ffff"/><polygon points="292.75,188.19 295.50,191.49 292.75,194.79 290.00,191.49" fill="#00ffff"/><polygon points="296.15,187.16 298.90,190.46 296.15,193.76 293.40,190.46" fill="#00ffff"/><polygon points="299.55,186.11 302.30,189.41 299.55,192.71 296.80,189.41" fill="#00ffff"/><polygon points="302.95,185.03 305.70,188.33 302.95,191.63 300.20,188.33" fill="#00ffff"/><polygon points="306.35,183.91 309.10,187.21 306.35,190.51 303.60,187.21" fill="#00ffff"/><polygon points="309.75,182.75 312.50,186.05 309.75,189.35 307.00,186.05" fill="#00ffff"/><polygon points="313.15,181.55 315.90,184.85 313.15,188.15 310.40,184.85" fill="#00ffff"/><polygon points="316.55,180.29 319.30,183.59 316.55,186.89 313.80,183.59" fill="#00ffff"/><polygon points="319.95,178.94 322.70,182.24 319.95,185.54 317.20,182.24" fill="#00ffff"/><polygon points="323.35,177.51 326.10,180.81 323.35,184.11 320.60,180.81" fill="#00ffff"/><polygon points="326.75,176.02 329.50,179.32 326.75,182.62 324.00,179.32" fill="#00ffff"/><polygon points="330.16,174.47 332.91,177.77 330.16,181.07 327.41,177.77" fill="#00ffff"/><polygon points="333.56,172.88 336.31,176.18 333.56,179.48 330.81,176.18" fill="#00ffff"/><polygon points="336.96,171.25 339.71,174.55 336.96,177.85 334.21,174.55" fill="#00ffff"/><polygon points="340.36,169.54 343.11,172.84 340.36,176.14 337.61,172.84" fill="#00ffff"/><polygon points="343.76,167.74 346.51,171.04 343.76,174.34 341.01,171.04" fill="#00ffff"/><polygon points="347.16,165.83 349.91,169.13 347.16,172.43 344.41,169.13" fill="#00ffff"/><polygon points="350.56,163.82 353.31,167.12 350.56,170.42 347.81,167.12" fill="#00ffff"/><polygon points="353.96,161.73 356.71,165.03 353.96,168.33 351.21,165.03" fill="#00ffff"/><polygon points="357.36,159.60 360.11,162.90 357.36,166.20 354.61,162.90" fill="#00ffff"/><polygon points="360.76,157.45 363.51,160.75 360.76,164.05 358.01,160.75" fill="#00ffff"/><polygon points="364.16,155.27 366.91,158.57 364.16,161.87 361.41,158.57" fill="#00ffff"/><polygon points="367.56,153.06 370.31,156.36 367.56,159.66 364.81,156.36" fill="#00ffff"/><polygon points="370.96,150.82 373.71,154.12 370.96,157.42 368.21,154.12" fill="#00ffff"/><polygon points="374.36,148.56 377.11,151.86 374.36,155.16 371.61,151.86" fill="#00ffff"/><polygon points="377.76,146.28 380.51,149.58 377.76,152.88 375.01,149.58" fill="#00ffff"/><polygon points="381.17,143.98 383.92,147.28 381.17,150.58 378.42,147.28" fill="#00ffff"/><polygon points="384.57,141.60 387.32,144.90 384.57,148.20 381.82,144.90" fill="#00ffff"/><polygon points="387.97,139.09 390.72,142.39 387.97,145.69 385.22,142.39" fill="#00ffff"/><polygon points="391.37,136.34 394.12,139.64 391.37,142.94 388.62,139.64" fill="#00ffff"/><polygon points="394.77,133.31 397.52,136.61 394.77,139.91 392.02,136.61" fill="#00ffff"/><polygon points="398.17,129.93 400.92,133.23 398.17,136.53 395.42,133.23" fill="#00ffff"/><polygon points="401.57,126.22 404.32,129.52 401.57,132.82 398.82,129.52" fill="#00ffff"/><polygon points="404.97,123.07 407.72,126.37 404.97,129.67 402.22,126.37" fill="#00ffff"/><polygon points="408.37,120.31 411.12,123.61 408.37,126.91 405.62,123.61" fill="#00ffff"/><polygon points="411.77,117.49 414.52,120.79 411.77,124.09 409.02,120.79" fill="#00ffff"/><polygon points="415.17,114.24 417.92,117.54 415.17,120.84 412.42,117.54" fill="#00ffff"/><polygon points="418.57,110.67 421.32,113.97 418.57,117.27 415.82,113.97" fill="#00ffff"/><polygon points="421.97,106.82 424.72,110.12 421.97,113.42 419.22,110.12" fill="#00ffff"/><polygon points="425.37,102.69 428.12,105.99 425.37,109.29 422.62,105.99" fill="#00ffff"/><polygon points="428.78,98.05 431.53,101.35 428.78,104.65 426.03,101.35" fill="#00ffff"/><polygon points="432.18,93.35 434.93,96.65 432.18,99.95 429.43,96.65" fill="#00ffff"/><polygon points="435.58,89.08 438.33,92.38 435.58,95.68 432.83,92.38" fill="#00ffff"/><polygon points="438.98,85.06 441.73,88.36 438.98,91.66 436.23,88.36" fill="#00ffff"/><polygon points="442.38,81.34 445.13,84.64 442.38,87.94 439.63,84.64" fill="#00ffff"/><polygon points="445.78,77.95 448.53,81.25 445.78,84.55 443.03,81.25" fill="#00ffff"/><polygon points="449.18,74.81 451.93,78.11 449.18,81.41 446.43,78.11" fill="#00ffff"/><polygon points="452.58,71.90 455.33,75.20 452.58,78.50 449.83,75.20" fill="#00ffff"/><polygon points="455.98,69.16 458.73,72.46 455.98,75.76 453.23,72.46" fill="#00ffff"/><polygon points="459.38,66.68 462.13,69.98 459.38,73.28 456.63,69.98" fill="#00ffff"/><polygon points="462.78,64.51 465.53,67.81 462.78,71.11 460.03,67.81" fill="#00ffff"/><polygon points="466.18,62.49 468.93,65.79 466.18,69.09 463.43,65.79" fill="#00ffff"/><polygon points="469.58,60.64 472.33,63.94 469.58,67.24 466.83,63.94" fill="#00ffff"/><polygon points="472.99,59.00 475.74,62.30 472.99,65.60 470.24,62.30" fill="#00ffff"/><polygon points="476.39,57.55 479.14,60.85 476.39,64.15 473.64,60.85" fill="#00ffff"/><polygon points="479.79,56.25 482.54,59.55 479.79,62.85 477.04,59.55" fill="#00ffff"/><polygon points="483.19,55.06 485.94,58.36 483.19,61.66 480.44,58.36" fill="#00ffff"/><polygon points="486.59,53.96 489.34,57.26 486.59,60.56 483.84,57.26" fill="#00ffff"/><polygon points="489.99,52.92 492.74,56.22 489.99,59.52 487.24,56.22" fill="#00ffff"/><polygon points="493.39,51.91 496.14,55.21 493.39,58.51 490.64,55.21" fill="#00ffff"/><polygon points="496.79,50.94 499.54,54.24 496.79,57.54 494.04,54.24" fill="#00ffff"/><polygon points="500.19,50.00 502.94,53.30 500.19,56.60 497.44,53.30" fill="#00ffff"/><polygon points="503.59,49.10 506.34,52.40 503.59,55.70 500.84,52.40" fill="#00ffff"/><polygon points="506.99,48.25 509.74,51.55 506.99,54.85 504.24,51.55" fill="#00ffff"/><polygon points="510.39,47.44 513.14,50.74 510.39,54.04 507.64,50.74" fill="#00ffff"/></g>
<polyline fill="none" stroke="#ff00ff" stroke-width="1.2" points="102.31,363.22 105.71,280.50 109.11,245.30 112.51,234.99 115.91,232.70 119.31,230.93 122.71,229.10 126.11,227.70 129.51,226.61 132.91,225.63 136.31,224.64 139.72,223.68 143.12,222.74 146.52,221.77 149.92,220.76 153.32,219.80 156.72,218.99 160.12,218.28 163.52,217.63 166.92,217.01 170.32,216.38 173.72,215.73 177.12,215.09 180.52,214.47 183.92,213.83 187.32,213.17 190.73,212.46 194.13,211.67 197.53,210.86 200.93,210.09 204.33,209.33 207.73,208.58 211.13,207.85 214.53,207.18 217.93,206.58 221.33,206.07 224.73,205.65 228.13,205.29 231.53,204.97 234.94,204.69 238.34,204.42 241.74,204.14 245.14,203.84 248.54,203.51 251.94,203.13 255.34,202.69 258.74,202.16 262.14,201.42 265.54,200.45 268.94,199.23 272.34,198.01 275.74,196.94 279.14,195.96 282.55,195.02 285.95,194.08 289.35,193.13 292.75,192.15 296.15,191.15 299.55,190.11 302.95,189.04 306.35,187.93 309.75,186.78 313.15,185.57 316.55,184.29 319.95,182.93 323.35,181.50 326.75,180.01 330.16,178.47 333.56,176.89 336.96,175.25 340.36,173.55 343.76,171.74 347.16,169.82 350.56,167.80 353.96,165.70 357.36,163.57 360.76,161.41 364.16,159.23 367.56,157.01 370.96,154.75 374.36,152.47 377.76,150.15 381.17,147.80 384.57,145.39 387.97,142.84 391.37,140.02 394.77,136.88 398.17,133.39 401.57,129.56 404.97,126.29 408.37,123.42 411.77,120.42 415.17,116.94 418.57,113.09 421.97,108.97 425.37,104.54 428.78,99.72 432.18,95.11 435.58,90.97 438.98,87.11 442.38,83.55 445.78,80.26 449.18,77.21 452.58,74.36 455.98,71.67 459.38,69.31 462.78,67.21 466.18,65.26 469.58,63.49 472.99,61.90 476.39,60.49 479.79,59.22 483.19,58.05 486.59,56.97 489.99,55.95 493.39,54.98 496.79,54.02 500.19,53.11 503.59,52.24 506.99,51.41 510.39,50.63"/>
<g><polygon points="99.01,363.22 104.45,360.14 104.45,366.30" fill="#ff00ff"/><polygon points="102.41,280.50 107.85,277.42 107.85,283.58" fill="#ff00ff"/><polygon points="105.81,245.30 111.25,242.22 111.25,248.38" fill="#ff00ff"/><polygon points="109.21,234.99 114.65,231.91 114.65,238.07" fill="#ff00ff"/><polygon points="112.61,232.70 118.05,229.62 118.05,235.78" fill="#ff00ff"/><polygon points="116.01,230.93 121.46,227.85 121.46,234.01" fill="#ff00ff"/><polygon points="119.41,229.10 124.86,226.02 124.86,232.18" fill="#ff00ff"/><polygon points="122.81,227.70 128.26,224.62 128.26,230.78" fill="#ff00ff"/><polygon points="126.21,226.61 131.66,223.53 131.66,229.69" fill="#ff00ff"/><polygon points="129.61,225.63 135.06,222.55 135.06,228.71" fill="#ff00ff"/><polygon points="133.01,224.64 138.46,221.56 138.46,227.72" fill="#ff00ff"/><polygon points="136.41,223.68 141.86,220.60 141.86,226.76" fill="#ff00ff"/><polygon points="139.82,222.74 145.26,219.66 145.26,225.82" fill="#ff00ff"/><polygon points="143.22,221.77 148.66,218.69 148.66,224.85" fill="#ff00ff"/><polygon points="146.62,220.76 152.06,217.68 152.06,223.84" fill="#ff00ff"/><polygon points="150.02,219.80 155.46,216.72 155.46,222.88" fill="#ff00ff"/><polygon points="153.42,218.99 158.86,215.91 158.86,222.07" fill="#ff00ff"/><polygon points="156.82,218.28 162.26,215.20 162.26,221.36" fill="#ff00ff"/><polygon points="160.22,217.63 165.66,214.55 165.66,220.71" fill="#ff00ff"/><polygon points="163.62,217.01 169.07,213.93 169.07,220.09" fill="#ff00ff"/><polygon points="167.02,216.38 172.47,213.30 172.47,219.46" fill="#ff00ff"/><polygon points="170.42,215.73 175.87,212.65 175.87,218.81" fill="#ff00ff"/><polygon points="173.82,215.09 179.27,212.01 179.27,218.17" fill="#ff00ff"/><polygon points="177.22,214.47 182.67,211.39 182.67,217.55" fill="#ff00ff"/><polygon points="180.62,213.83 186.07,210.75 186.07,216.91" fill="#ff00ff"/><polygon points="184.02,213.17 189.47,210.09 189.47,216.25" fill="#ff00ff"/><polygon points="187.43,212.46 192.87,209.38 192.87,215.54" fill="#ff00ff"/><polygon points="190.83,211.67 196.27,208.59 196.27,214.75" fill="#ff00ff"/><polygon points="194.23,210.86 199.67,207.78 199.67,213.94" fill="#ff00ff"/><polygon points="197.63,210.09 203.07,207.01 203.07,213.17" fill="#ff00ff"/><polygon points="201.03,209.33 206.47,206.25 206.47,212.41" fill="#ff00ff"/><polygon points="204.43,208.58 209.87,205.50 209.87,211.66" fill="#ff00ff"/><polygon points="207.83,207.85 213.28,204.77 213.28,210.93" fill="#ff00ff"/><polygon points="211.23,207.18 216.68,204.10 216.68,210.26" fill="#ff00ff"/><polygon points="214.63,206.58 220.08,203.50 220.08,209.66" fill="#ff00ff"/><polygon points="218.03,206.07 223.48,202.99 223.48,209.15" fill="#ff00ff"/><polygon points="221.43,205.65 226.88,202.57 226.88,208.73" fill="#ff00ff"/><polygon points="224.83,205.29 230.28,202.21 230.28,208.37" fill="#ff00ff"/><polygon points="228.23,204.97 233.68,201.89 233.68,208.05" fill="#ff00ff"/><polygon points="231.63,204.69 237.08,201.61 237.08,207.77" fill="#ff00ff"/><polygon points="235.04,204.42 240.48,201.34 240.48,207.50" fill="#ff00ff"/><polygon points="238.44,204.14 243.88,201.06 243.88,207.22" fill="#ff00ff"/><polygon points="241.84,203.84 247.28,200.76 247.28,206.92" fill="#ff00ff"/><polygon points="245.24,203.51 250.68,200.43 250.68,206.59" fill="#ff00ff"/><polygon points="248.64,203.13 254.08,200.05 254.08,206.21" fill="#ff00ff"/><polygon points="252.04,202.69 257.48,199.61 257.48,205.77" fill="#ff00ff"/><polygon points="255.44,202.16 260.88,199.08 260.88,205.24" fill="#ff00ff"/><polygon points="258.84,201.42 264.29,198.34 264.29,204.50" fill="#ff00ff"/><polygon points="262.24,200.45 267.69,197.37 267.69,203.53" fill="#ff00ff"/><polygon points="265.64,199.23 271.09,196.15 271.09,202.31" fill="#ff00ff"/><polygon points="269.04,198.01 274.49,194.93 274.49,201.09" fill="#ff00ff"/><polygon points="272.44,196.94 277.89,193.86 277.89,200.02" fill="#ff00ff"/><polygon points="275.84,195.96 281.29,192.88 281.29,199.04" fill="#ff00ff"/><polygon points="279.25,195.02 284.69,191.94 284.69,198.10" fill="#ff00ff"/><polygon points="282.65,194.08 288.09,191.00 288.09,197.16" fill="#ff00ff"/><polygon points="286.05,193.13 291.49,190.05 291.49,196.21" fill="#ff00ff"/><polygon points="289.45,192.15 294.89,189.07 294.89,195.23" fill="#ff00ff"/><polygon points="292.85,191.15 298.29,188.07 298.29,194.23" fill="#ff00ff"/><polygon points="296.25,190.11 301.69,187.03 301.69,193.19" fill="#ff00ff"/><polygon points="299.65,189.04 305.09,185.96 305.09,192.12" fill="#ff00ff"/><polygon points="303.05,187.93 308.50,184.85 308.50,191.01" fill="#ff00ff"/><polygon points="306.45,186.78 311.90,183.70 311.90,189.86" fill="#ff00ff"/><polygon points="309.85,185.57 315.30,182.49 315.30,188.65" fill="#ff00ff"/><polygon points="313.25,184.29 318.70,181.21 318.70,187.37" fill="#ff00ff"/><polygon points="316.65,182.93 322.10,179.85 322.10,186.01" fill="#ff00ff"/><polygon points="320.05,181.50 325.50,178.42 325.50,184.58" fill="#ff00ff"/><polygon points="323.45,180.01 328.90,176.93 328.90,183.09" fill="#ff00ff"/><polygon points="326.86,178.47 332.30,175.39 332.30,181.55" fill="#ff00ff"/><polygon points="330.26,176.89 335.70,173.81 335.70,179.97" fill="#ff00ff"/><polygon points="333.66,175.25 339.10,172.17 339.10,178.33" fill="#ff00ff"/><polygon points="337.06,173.55 342.50,170.47 342.50,176.63" fill="#ff00ff"/><polygon points="340.46,171.74 345.90,168.66 345.90,174.82" fill="#ff00ff"/><polygon points="343.86,169.82 349.30,166.74 349.30,172.90" fill="#ff00ff"/><polygon points="347.26,167.80 352.70,164.72 352.70,170.88" fill="#ff00ff"/><polygon points="350.66,165.70 356.11,162.62 356.11,168.78" fill="#ff00ff"/><polygon points="354.06,163.57 359.51,160.49 359.51,166.65" fill="#ff00ff"/><polygon points="357.46,161.41 362.91,158.33 362.91,164.49" fill="#ff00ff"/><polygon points="360.86,159.23 366.31,156.15 366.31,162.31" fill="#ff00ff"/><polygon points="364.26,157.01 369.71,153.93 369.71,160.09" fill="#ff00ff"/><polygon points="367.66,154.75 373.11,151.67 373.11,157.83" fill="#ff00ff"/><polygon points="371.06,152.47 376.51,149.39 376.51,155.55" fill="#ff00ff"/><polygon points="374.46,150.15 379.91,147.07 379.91,153.23" fill="#ff00ff"/><polygon points="377.87,147.80 383.31,144.72 383.31,150.88" fill="#ff00ff"/><polygon points="381.27,145.39 386.71,142.31 386.71,148.47" fill="#ff00ff"/><polygon points="384.67,142.84 390.11,139.76 390.11,145.92" fill="#ff00ff"/><polygon points="388.07,140.02 393.51,136.94 393.51,143.10" fill="#ff00ff"/><polygon points="391.47,136.88 396.91,133.80 396.91,139.96" fill="#ff00ff"/><polygon points="394.87,133.39 400.31,130.31 400.31,136.47" fill="#ff00ff"/><polygon points="398.27,129.56 403.71,126.48 403.71,132.64" fill="#ff00ff"/><polygon points="401.67,126.29 407.12,123.21 407.12,129.37" fill="#ff00ff"/><polygon points="405.07,123.42 410.52,120.34 410.52,126.50" fill="#ff00ff"/><polygon points="408.47,120.42 413.92,117.34 413.92,123.50" fill="#ff00ff"/><polygon points="411.87,116.94 417.32,113.86 417.32,120.02" fill="#ff00ff"/><polygon points="415.27,113.09 420.72,110.01 420.72,116.17" fill="#ff00ff"/><polygon points="418.67,108.97 424.12,105.89 424.12,112.05" fill="#ff00ff"/><polygon points="422.07,104.54 427.52,101.46 427.52,107.62" fill="#ff00ff"/><polygon points="425.48,99.72 430.92,96.64 430.92,102.80" fill="#ff00ff"/><polygon points="428.88,95.11 434.32,92.03 434.32,98.19" fill="#ff00ff"/><polygon points="432.28,90.97 437.72,87.89 437.72,94.05" fill="#ff00ff"/><polygon points="435.68,87.11 441.12,84.03 441.12,90.19" fill="#ff00ff"/><polygon points="439.08,83.55 444.52,80.47 444.52,86.63" fill="#ff00ff"/><polygon points="442.48,80.26 447.92,77.18 447.92,83.34" fill="#ff00ff"/><polygon points="445.88,77.21 451.32,74.13 451.32,80.29" fill="#ff00ff"/><polygon points="449.28,74.36 454.73,71.28 454.73,77.44" fill="#ff00ff"/><polygon points="452.68,71.67 458.13,68.59 458.13,74.75" fill="#ff00ff"/><polygon points="456.08,69.31 461.53,66.23 461.53,72.39" fill="#ff00ff"/><polygon points="459.48,67.21 464.93,64.13 464.93,70.29" fill="#ff00ff"/><polygon points="462.88,65.26 468.33,62.18 468.33,68.34" fill="#ff00ff"/><polygon points="466.28,63.49 471.73,60.41 471.73,66.57" fill="#ff00ff"/><polygon points="469.69,61.90 475.13,58.82 475.13,64.98" fill="#ff00ff"/><polygon points="473.09,60.49 478.53,57.41 478.53,63.57" fill="#ff00ff"/><polygon points="476.49,59.22 481.93,56.14 481.93,62.30" fill="#ff00ff"/><polygon points="479.89,58.05 485.33,54.97 485.33,61.13" fill="#ff00ff"/><polygon points="483.29,56.97 488.73,53.89 488.73,60.05" fill="#ff00ff"/><polygon points="486.69,55.95 492.13,52.87 492.13,59.03" fill="#ff00ff"/><polygon points="490.09,54.98 495.53,51.90 495.53,58.06" fill="#ff00ff"/><polygon points="493.49,54.02 498.94,50.94 498.94,57.10" fill="#ff00ff"/><polygon points="496.89,53.11 502.34,50.03 502.34,56.19" fill="#ff00ff"/><polygon points="500.29,52.24 505.74,49.16 505.74,55.32" fill="#ff00ff"/><polygon points="503.69,51.41 509.14,48.33 509.14,54.49" fill="#ff00ff"/><polygon points="507.09,50.63 512.54,47.55 512.54,53.71" fill="#ff00ff"/></g>
<polyline fill="none" stroke="#ffff00" stroke-width="1.2" points="102.31,363.22 105.71,280.50 109.11,245.30 112.51,234.99 115.91,232.70 119.31,230.93 122.71,229.10 126.11,227.70 129.51,226.61 132.91,225.63 136.31,224.64 139.72,223.68 143.12,222.74 146.52,221.77 149.92,220.76 153.32,219.80 156.72,218.99 160.12,218.28 163.52,217.63 166.92,217.01 170.32,216.37 173.72,215.73 177.12,215.10 180.52,214.48 183.92,213.85 187.32,213.19 190.73,212.49 194.13,211.71 197.53,210.90 200.93,210.15 204.33,209.39 207.73,208.64 211.13,207.92 214.53,207.25 217.93,206.65 221.33,206.15 224.73,205.74 228.13,205.39 231.53,205.08 234.94,204.80 238.34,204.54 241.74,204.27 245.14,203.98 248.54,203.67 251.94,203.30 255.34,202.88 258.74,202.38 262.14,201.67 265.54,200.71 268.94,199.54 272.34,198.34 275.74,197.30 279.14,196.38 282.55,195.51 285.95,194.63 289.35,193.72 292.75,192.79 296.15,191.82 299.55,190.80 302.95,189.75 306.35,188.66 309.75,187.52 313.15,186.31 316.55,185.02 319.95,183.65 323.35,182.21 326.75,180.71 330.16,179.17 333.56,177.60 336.96,175.97 340.36,174.27 343.76,172.47 347.16,170.54 350.56,168.50 353.96,166.39 357.36,164.25 360.76,162.09 364.16,159.89 367.56,157.66 370.96,155.40 374.36,153.10 377.76,150.75 381.17,148.35 384.57,145.90 387.97,143.31 391.37,140.43 394.77,137.18 398.17,133.57 401.57,129.60 404.97,126.21 408.37,123.20 411.77,120.01 415.17,116.25 418.57,112.08 421.97,107.70 425.37,102.97 428.78,98.07 432.18,93.64 435.58,89.64 438.98,85.93 442.38,82.50 445.78,79.31 449.18,76.34 452.58,73.52 455.98,70.91 459.38,68.67 462.78,66.64 466.18,64.77 469.58,63.06 472.99,61.52 476.39,60.14 479.79,58.89 483.19,57.75 486.59,56.69 489.99,55.70 493.39,54.74 496.79,53.81 500.19,52.92 503.59,52.08 506.99,51.28 510.39,50.53"/>
<g><polygon points="105.61,363.22 100.16,360.14 100.16,366.30" fill="#ffff00"/><polygon points="109.01,280.50 103.56,277.42 103.56,283.58" fill="#ffff00"/><polygon points="112.41,245.30 106.96,242.22 106.96,248.38" fill="#ffff00"/><polygon points="115.81,234.99 110.36,231.91 110.36,238.07" fill="#ffff00"/><polygon points="119.21,232.70 113.77,229.62 113.77,235.78" fill="#ffff00"/><polygon points="122.61,230.93 117.17,227.85 117.17,234.01" fill="#ffff00"/><polygon points="126.01,229.10 120.57,226.02 120.57,232.18" fill="#ffff00"/><polygon points="129.41,227.70 123.97,224.62 123.97,230.78" fill="#ffff00"/><polygon points="132.81,226.61 127.37,223.53 127.37,229.69" fill="#ffff00"/><polygon points="136.21,225.63 130.77,222.55 130.77,228.71" fill="#ffff00"/><polygon points="139.61,224.64 134.17,221.56 134.17,227.72" fill="#ffff00"/><polygon points="143.02,223.68 137.57,220.60 137.57,226.76" fill="#ffff00"/><polygon points="146.42,222.74 140.97,219.66 140.97,225.82" fill="#ffff00"/><polygon points="149.82,221.77 144.37,218.69 144.37,224.85" fill="#ffff00"/><polygon points="153.22,220.76 147.77,217.68 147.77,223.84" fill="#ffff00"/><polygon points="156.62,219.80 151.17,216.72 151.17,222.88" fill="#ffff00"/><polygon points="160.02,218.99 154.57,215.91 154.57,222.07" fill="#ffff00"/><polygon points="163.42,218.28 157.97,215.20 157.97,221.36" fill="#ffff00"/><polygon points="166.82,217.63 161.37,214.55 161.37,220.71" fill="#ffff00"/><polygon points="170.22,217.01 164.78,213.93 164.78,220.09" fill="#ffff00"/><polygon points="173.62,216.37 168.18,213.29 168.18,219.45" fill="#ffff00"/><polygon points="177.02,215.73 171.58,212.65 171.58,218.81" fill="#ffff00"/><polygon points="180.42,215.10 174.98,212.02 174.98,218.18" fill="#ffff00"/><polygon points="183.82,214.48 178.38,211.40 178.38,217.56" fill="#ffff00"/><polygon points="187.22,213.85 181.78,210.77 181.78,216.93" fill="#ffff00"/><polygon points="190.62,213.19 185.18,210.11 185.18,216.27" fill="#ffff00"/><polygon points="194.03,212.49 188.58,209.41 188.58,215.57" fill="#ffff00"/><polygon points="197.43,211.71 191.98,208.63 191.98,214.79" fill="#ffff00"/><polygon points="200.83,210.90 195.38,207.82 195.38,213.98" fill="#ffff00"/><polygon points="204.23,210.15 198.78,207.07 198.78,213.23" fill="#ffff00"/><polygon points="207.63,209.39 202.18,206.31 202.18,212.47" fill="#ffff00"/><polygon points="211.03,208.64 205.58,205.56 205.58,211.72" fill="#ffff00"/><polygon points="214.43,207.92 208.98,204.84 208.98,211.00" fill="#ffff00"/><polygon points="217.83,207.25 212.39,204.17 212.39,210.33" fill="#ffff00"/><polygon points="221.23,206.65 215.79,203.57 215.79,209.73" fill="#ffff00"/><polygon points="224.63,206.15 219.19,203.07 219.19,209.23" fill="#ffff00"/><polygon points="228.03,205.74 222.59,202.66 222.59,208.82" fill="#ffff00"/><polygon points="231.43,205.39 225.99,202.31 225.99,208.47" fill="#ffff00"/><polygon points="234.83,205.08 229.39,202.00 229.39,208.16" fill="#ffff00"/><polygon points="238.24,204.80 232.79,201.72 232.79,207.88" fill="#ffff00"/><polygon points="241.64,204.54 236.19,201.46 236.19,207.62" fill="#ffff00"/><polygon points="245.04,204.27 239.59,201.19 239.59,207.35" fill="#ffff00"/><polygon points="248.44,203.98 242.99,200.90 242.99,207.06" fill="#ffff00"/><polygon points="251.84,203.67 246.39,200.59 246.39,206.75" fill="#ffff00"/><polygon points="255.24,203.30 249.79,200.22 249.79,206.38" fill="#ffff00"/><polygon points="258.64,202.88 253.19,199.80 253.19,205.96" fill="#ffff00"/><polygon points="262.04,202.38 256.60,199.30 256.60,205.46" fill="#ffff00"/><polygon points="265.44,201.67 260.00,198.59 260.00,204.75" fill="#ffff00"/><polygon points="268.84,200.71 263.40,197.63 263.40,203.79" fill="#ffff00"/><polygon points="272.24,199.54 266.80,196.46 266.80,202.62" fill="#ffff00"/><polygon points="275.64,198.34 270.20,195.26 270.20,201.42" fill="#ffff00"/><polygon points="279.04,197.30 273.60,194.22 273.60,200.38" fill="#ffff00"/><polygon points="282.44,196.38 277.00,193.30 277.00,199.46" fill="#ffff00"/><polygon points="285.85,195.51 280.40,192.43 280.40,198.59" fill="#ffff00"/><polygon points="289.25,194.63 283.80,191.55 283.80,197.71" fill="#ffff00"/><polygon points="292.65,193.72 287.20,190.64 287.20,196.80" fill="#ffff00"/><polygon points="296.05,192.79 290.60,189.71 290.60,195.87" fill="#ffff00"/><polygon points="299.45,191.82 294.00,188.74 294.00,194.90" fill="#ffff00"/><polygon points="302.85,190.80 297.40,187.72 297.40,193.88" fill="#ffff00"/><polygon points="306.25,189.75 300.80,186.67 300.80,192.83" fill="#ffff00"/><polygon points="309.65,188.66 304.21,185.58 304.21,191.74" fill="#ffff00"/><polygon points="313.05,187.52 307.61,184.44 307.61,190.60" fill="#ffff00"/><polygon points="316.45,186.31 311.01,183.23 311.01,189.39" fill="#ffff00"/><polygon points="319.85,185.02 314.41,181.94 314.41,188.10" fill="#ffff00"/><polygon points="323.25,183.65 317.81,180.57 317.81,186.73" fill="#ffff00"/><polygon points="326.65,182.21 321.21,179.13 321.21,185.29" fill="#ffff00"/><polygon points="330.05,180.71 324.61,177.63 324.61,183.79" fill="#ffff00"/><polygon points="333.46,179.17 328.01,176.09 328.01,182.25" fill="#ffff00"/><polygon points="336.86,177.60 331.41,174.52 331.41,180.68" fill="#ffff00"/><polygon points="340.26,175.97 334.81,172.89 334.81,179.05" fill="#ffff00"/><polygon points="343.66,174.27 338.21,171.19 338.21,177.35" fill="#ffff00"/><polygon points="347.06,172.47 341.61,169.39 341.61,175.55" fill="#ffff00"/><polygon points="350.46,170.54 345.01,167.46 345.01,173.62" fill="#ffff00"/><polygon points="353.86,168.50 348.41,165.42 348.41,171.58" fill="#ffff00"/><polygon points="357.26,166.39 351.82,163.31 351.82,169.47" fill="#ffff00"/><polygon points="360.66,164.25 355.22,161.17 355.22,167.33" fill="#ffff00"/><polygon points="364.06,162.09 358.62,159.01 358.62,165.17" fill="#ffff00"/><polygon points="367.46,159.89 362.02,156.81 362.02,162.97" fill="#ffff00"/><polygon points="370.86,157.66 365.42,154.58 365.42,160.74" fill="#ffff00"/><polygon points="374.26,155.40 368.82,152.32 368.82,158.48" fill="#ffff00"/><polygon points="377.66,153.10 372.22,150.02 372.22,156.18" fill="#ffff00"/><polygon points="381.06,150.75 375.62,147.67 375.62,153.83" fill="#ffff00"/><polygon points="384.47,148.35 379.02,145.27 379.02,151.43" fill="#ffff00"/><polygon points="387.87,145.90 382.42,142.82 382.42,148.98" fill="#ffff00"/><polygon points="391.27,143.31 385.82,140.23 385.82,146.39" fill="#ffff00"/><polygon points="394.67,140.43 389.22,137.35 389.22,143.51" fill="#ffff00"/><polygon points="398.07,137.18 392.62,134.10 392.62,140.26" fill="#ffff00"/><polygon points="401.47,133.57 396.02,130.49 396.02,136.65" fill="#ffff00"/><polygon points="404.87,129.60 399.43,126.52 399.43,132.68" fill="#ffff00"/><polygon points="408.27,126.21 402.83,123.13 402.83,129.29" fill="#ffff00"/><polygon points="411.67,123.20 406.23,120.12 406.23,126.28" fill="#ffff00"/><polygon points="415.07,120.01 409.63,116.93 409.63,123.09" fill="#ffff00"/><polygon points="418.47,116.25 413.03,113.17 413.03,119.33" fill="#ffff00"/><polygon points="421.87,112.08 416.43,109.00 416.43,115.16" fill="#ffff00"/><polygon points="425.27,107.70 419.83,104.62 419.83,110.78" fill="#ffff00"/><polygon points="428.67,102.97 423.23,99.89 423.23,106.05" fill="#ffff00"/><polygon points="432.08,98.07 426.63,94.99 426.63,101.15" fill="#ffff00"/><polygon points="435.48,93.64 430.03,90.56 430.03,96.72" fill="#ffff00"/><polygon points="438.88,89.64 433.43,86.56 433.43,92.72" fill="#ffff00"/><polygon points="442.28,85.93 436.83,82.85 436.83,89.01" fill="#ffff00"/><polygon points="445.68,82.50 440.23,79.42 440.23,85.58" fill="#ffff00"/><polygon points="449.08,79.31 443.63,76.23 443.63,82.39" fill="#ffff00"/><polygon points="452.48,76.34 447.04,73.26 447.04,79.42" fill="#ffff00"/><polygon points="455.88,73.52 450.44,70.44 450.44,76.60" fill="#ffff00"/><polygon points="459.28,70.91 453.84,67.83 453.84,73.99" fill="#ffff00"/><polygon points="462.68,68.67 457.24,65.59 457.24,71.75" fill="#ffff00"/><polygon points="466.08,66.64 460.64,63.56 460.64,69.72" fill="#ffff00"/><polygon points="469.48,64.77 464.04,61.69 464.04,67.85" fill="#ffff00"/><polygon points="472.88,63.06 467.44,59.98 467.44,66.14" fill="#ffff00"/><polygon points="476.29,61.52 470.84,58.44 470.84,64.60" fill="#ffff00"/><polygon points="479.69,60.14 474.24,57.06 474.24,63.22" fill="#ffff00"/><polygon points="483.09,58.89 477.64,55.81 477.64,61.97" fill="#ffff00"/><polygon points="486.49,57.75 481.04,54.67 481.04,60.83" fill="#ffff00"/><polygon points="489.89,56.69 484.44,53.61 484.44,59.77" fill="#ffff00"/><polygon points="493.29,55.70 487.84,52.62 487.84,58.78" fill="#ffff00"/><polygon points="496.69,54.74 491.24,51.66 491.24,57.82" fill="#ffff00"/><polygon points="500.09,53.81 494.65,50.73 494.65,56.89" fill="#ffff00"/><polygon points="503.49,52.92 498.05,49.84 498.05,56.00" fill="#ffff00"/><polygon points="506.89,52.08 501.45,49.00 501.45,55.16" fill="#ffff00"/><polygon points="510.29,51.28 504.85,48.20 504.85,54.36" fill="#ffff00"/><polygon points="513.69,50.53 508.25,47.45 508.25,53.61" fill="#ffff00"/></g>
<polyline fill="none" stroke="#808000" stroke-width="1.2" points="102.31,363.22 105.71,280.50 109.11,245.30 112.51,234.99 115.91,232.70 119.31,230.93 122.71,229.10 126.11,227.70 129.51,226.61 132.91,225.63 136.31,224.64 139.72,223.68 143.12,222.74 146.52,221.77 149.92,220.76 153.32,219.80 156.72,218.99 160.12,218.28 163.52,217.63 166.92,217.00 170.32,216.37 173.72,215.73 177.12,215.11 180.52,214.49 183.92,213.86 187.32,213.21 190.73,212.52 194.13,211.75 197.53,210.95 200.93,210.20 204.33,209.45 207.73,208.71 211.13,207.98 214.53,207.31 217.93,206.72 221.33,206.24 224.73,205.83 228.13,205.48 231.53,205.18 234.94,204.91 238.34,204.65 241.74,204.39 245.14,204.12 248.54,203.82 251.94,203.47 255.34,203.06 258.74,202.58 262.14,201.93 265.54,200.97 268.94,199.82 272.34,198.66 275.74,197.62 279.14,196.74 282.55,195.92 285.95,195.12 289.35,194.28 292.75,193.38 296.15,192.46 299.55,191.48 302.95,190.45 306.35,189.39 309.75,188.27 313.15,187.08 316.55,185.80 319.95,184.41 323.35,182.94 326.75,181.42 330.16,179.87 333.56,178.31 336.96,176.69 340.36,175.00 343.76,173.21 347.16,171.28 350.56,169.22 353.96,167.09 357.36,164.93 360.76,162.77 364.16,160.57 367.56,158.33 370.96,156.05 374.36,153.74 377.76,151.37 381.17,148.92 384.57,146.43 387.97,143.81 391.37,140.87 394.77,137.50 398.17,133.75 401.57,129.64 404.97,126.11 408.37,122.96 411.77,119.54 415.17,115.45 418.57,110.93 421.97,106.29 425.37,101.31 428.78,96.45 432.18,92.22 435.58,88.38 438.98,84.82 442.38,81.49 445.78,78.39 449.18,75.49 452.58,72.71 455.98,70.19 459.38,68.05 462.78,66.10 466.18,64.29 469.58,62.64 472.99,61.14 476.39,59.79 479.79,58.57 483.19,57.46 486.59,56.42 489.99,55.45 493.39,54.51 496.79,53.61 500.19,52.74 503.59,51.92 506.99,51.14 510.39,50.42"/>
<g><circle cx="102.31" cy="363.22" r="2.86" fill="#808000"/><circle cx="105.71" cy="280.50" r="2.86" fill="#808000"/><circle cx="109.11" cy="245.30" r="2.86" fill="#808000"/><circle cx="112.51" cy="234.99" r="2.86" fill="#808000"/><circle cx="115.91" cy="232.70" r="2.86" fill="#808000"/><circle cx="119.31" cy="230.93" r="2.86" fill="#808000"/><circle cx="122.71" cy="229.10" r="2.86" fill="#808000"/><circle cx="126.11" cy="227.70" r="2.86" fill="#808000"/><circle cx="129.51" cy="226.61" r="2.86" fill="#808000"/><circle cx="132.91" cy="225.63" r="2.86" fill="#808000"/><circle cx="136.31" cy="224.64" r="2.86" fill="#808000"/><circle cx="139.72" cy="223.68" r="2.86" fill="#808000"/><circle cx="143.12" cy="222.74" r="2.86" fill="#808000"/><circle cx="146.52" cy="221.77" r="2.86" fill="#808000"/><circle cx="149.92" cy="220.76" r="2.86" fill="#808000"/><circle cx="153.32" cy="219.80" r="2.86" fill="#808000"/><circle cx="156.72" cy="218.99" r="2.86" fill="#808000"/><circle cx="160.12" cy="218.28" r="2.86" fill="#808000"/><circle cx="163.52" cy="217.63" r="2.86" fill="#808000"/><circle cx="166.92" cy="217.00" r="2.86" fill="#808000"/><circle cx="170.32" cy="216.37" r="2.86" fill="#808000"/><circle cx="173.72" cy="215.73" r="2.86" fill="#808000"/><circle cx="177.12" cy="215.11" r="2.86" fill="#808000"/><circle cx="180.52" cy="214.49" r="2.86" fill="#808000"/><circle cx="183.92" cy="213.86" r="2.86" fill="#808000"/><circle cx="187.32" cy="213.21" r="2.86" fill="#808000"/><circle cx="190.73" cy="212.52" r="2.86" fill="#808000"/><circle cx="194.13" cy="211.75" r="2.86" fill="#808000"/><circle cx="197.53" cy="210.95" r="2.86" fill="#808000"/><circle cx="200.93" cy="210.20" r="2.86" fill="#808000"/><circle cx="204.33" cy="209.45" r="2.86" fill="#808000"/><circle cx="207.73" cy="208.71" r="2.86" fill="#808000"/><circle cx="211.13" cy="207.98" r="2.86" fill="#808000"/><circle cx="214.53" cy="207.31" r="2.86" fill="#808000"/><circle cx="217.93" cy="206.72" r="2.86" fill="#808000"/><circle cx="221.33" cy="206.24" r="2.86" fill="#808000"/><circle cx="224.73" cy="205.83" r="2.86" fill="#808000"/><circle cx="228.13" cy="205.48" r="2.86" fill="#808000"/><circle cx="231.53" cy="205.18" r="2.86" fill="#808000"/><circle cx="234.94" cy="204.91" r="2.86" fill="#808000"/><circle cx="238.34" cy="204.65" r="2.86" fill="#808000"/><circle cx="241.74" cy="204.39" r="2.86" fill="#808000"/><circle cx="245.14" cy="204.12" r="2.86" fill="#808000"/><circle cx="248.54" cy="203.82" r="2.86" fill="#808000"/><circle cx="251.94" cy="203.47" r="2.86" fill="#808000"/><circle cx="255.34" cy="203.06" r="2.86" fill="#808000"/><circle cx="258.74" cy="202.58" r="2.86" fill="#808000"/><circle cx="262.14" cy="201.93" r="2.86" fill="#808000"/><circle cx="265.54" cy="200.97" r="2.86" fill="#808000"/><circle cx="268.94" cy="199.82" r="2.86" fill="#808000"/><circle cx="272.34" cy="198.66" r="2.86" fill="#808000"/><circle cx="275.74" cy="197.62" r="2.86" fill="#808000"/><circle cx="279.14" cy="196.74" r="2.86" fill="#808000"/><circle cx="282.55" cy="195.92" r="2.86" fill="#808000"/><circle cx="285.95" cy="195.12" r="2.86" fill="#808000"/><circle cx="289.35" cy="194.28" r="2.86" fill="#808000"/><circle cx="292.75" cy="193.38" r="2.86" fill="#808000"/><circle cx="296.15" cy="192.46" r="2.86" fill="#808000"/><circle cx="299.55" cy="191.48" r="2.86" fill="#808000"/><circle cx="302.95" cy="190.45" r="2.86" fill="#808000"/><circle cx="306.35" cy="189.39" r="2.86" fill="#808000"/><circle cx="309.75" cy="188.27" r="2.86" fill="#808000"/><circle cx="313.15" cy="187.08" r="2.86" fill="#808000"/><circle cx="316.55" cy="185.80" r="2.86" fill="#808000"/><circle cx="319.95" cy="184.41" r="2.86" fill="#808000"/><circle cx="323.35" cy="182.94" r="2.86" fill="#808000"/><circle cx="326.75" cy="181.42" r="2.86" fill="#808000"/><circle cx="330.16" cy="179.87" r="2.86" fill="#808000"/><circle cx="333.56" cy="178.31" r="2.86" fill="#808000"/><circle cx="336.96" cy="176.69" r="2.86" fill="#808000"/><circle cx="340.36" cy="175.00" r="2.86" fill="#808000"/><circle cx="343.76" cy="173.21" r="2.86" fill="#808000"/><circle cx="347.16" cy="171.28" r="2.86" fill="#808000"/><circle cx="350.56" cy="169.22" r="2.86" fill="#808000"/><circle cx="353.96" cy="167.09" r="2.86" fill="#808000"/><circle cx="357.36" cy="164.93" r="2.86" fill="#808000"/><circle cx="360.76" cy="162.77" r="2.86" fill="#808000"/><circle cx="364.16" cy="160.57" r="2.86" fill="#808000"/><circle cx="367.56" cy="158.33" r="2.86" fill="#808000"/><circle cx="370.96" cy="156.05" r="2.86" fill="#808000"/><circle cx="374.36" cy="153.74" r="2.86" fill="#808000"/><circle cx="377.76" cy="151.37" r="2.86" fill="#808000"/><circle cx="381.17" cy="148.92" r="2.86" fill="#808000"/><circle cx="384.57" cy="146.43" r="2.86" fill="#808000"/><circle cx="387.97" cy="143.81" r="2.86" fill="#808000"/><circle cx="391.37" cy="140.87" r="2.86" fill="#808000"/><circle cx="394.77" cy="137.50" r="2.86" fill="#808000"/><circle cx="398.17" cy="133.75" r="2.86" fill="#808000"/><circle cx="401.57" cy="129.64" r="2.86" fill="#808000"/><circle cx="404.97" cy="126.11" r="2.86" fill="#808000"/><circle cx="408.37" cy="122.96" r="2.86" fill="#808000"/><circle cx="411.77" cy="119.54" r="2.86" fill="#808000"/><circle cx="415.17" cy="115.45" r="2.86" fill="#808000"/><circle cx="418.57" cy="110.93" r="2.86" fill="#808000"/><circle cx="421.97" cy="106.29" r="2.86" fill="#808000"/><circle cx="425.37" cy="101.31" r="2.86" fill="#808000"/><circle cx="428.78" cy="96.45" r="2.86" fill="#808000"/><circle cx="432.18" cy="92.22" r="2.86" fill="#808000"/><circle cx="435.58" cy="88.38" r="2.86" fill="#808000"/><circle cx="438.98" cy="84.82" r="2.86" fill="#808000"/><circle cx="442.38" cy="81.49" r="2.86" fill="#808000"/><circle cx="445.78" cy="78.39" r="2.86" fill="#808000"/><circle cx="449.18" cy="75.49" r="2.86" fill="#808000"/><circle cx="452.58" cy="72.71" r="2.86" fill="#808000"/><circle cx="455.98" cy="70.19" r="2.86" fill="#808000"/><circle cx="459.38" cy="68.05" r="2.86" fill="#808000"/><circle cx="462.78" cy="66.10" r="2.86" fill="#808000"/><circle cx="466.18" cy="64.29" r="2.86" fill="#808000"/><circle cx="469.58" cy="62.64" r="2.86" fill="#808000"/><circle cx="472.99" cy="61.14" r="2.86" fill="#808000"/><circle cx="476.39" cy="59.79" r="2.86" fill="#808000"/><circle cx="479.79" cy="58.57" r="2.86" fill="#808000"/><circle cx="483.19" cy="57.46" r="2.86" fill="#808000"/><circle cx="486.59" cy="56.42" r="2.86" fill="#808000"/><circle cx="489.99" cy="55.45" r="2.86" fill="#808000"/><circle cx="493.39" cy="54.51" r="2.86" fill="#808000"/><circle cx="496.79" cy="53.61" r="2.86" fill="#808000"/><circle cx="500.19" cy="52.74" r="2.86" fill="#808000"/><circle cx="503.59" cy="51.92" r="2.86" fill="#808000"/><circle cx="506.99" cy="51.14" r="2.86" fill="#808000"/><circle cx="510.39" cy="50.42" r="2.86" fill="#808000"/></g>
<polyline fill="none" stroke="#000" stroke-width="1.2" points="102.31,43.70 105.71,57.30 109.11,79.22 112.51,99.70 115.91,117.30 119.31,134.10 122.71,149.30 126.11,162.42 129.51,168.50 132.91,171.70 136.31,174.16 139.72,176.18 143.12,177.86 146.52,179.33 149.92,180.68 153.32,181.94 156.72,183.18 160.12,184.39 163.52,185.53 166.92,186.56 170.32,187.46 173.72,188.22 177.12,188.91 180.52,189.53 183.92,190.12 187.32,190.66 190.73,191.17 194.13,191.67 197.53,192.16 200.93,192.65 204.33,193.11 207.73,193.54 211.13,193.97 214.53,194.38 217.93,194.80 221.33,195.23 224.73,195.67 228.13,196.12 231.53,196.56 234.94,197.00 238.34,197.44 241.74,197.88 245.14,198.31 248.54,198.73 251.94,199.14 255.34,199.53 258.74,199.92 262.14,200.33 265.54,200.77 268.94,201.25 272.34,201.76 275.74,202.28 279.14,202.82 282.55,203.35 285.95,203.88 289.35,204.40 292.75,204.90 296.15,205.39 299.55,205.89 302.95,206.41 306.35,206.95 309.75,207.49 313.15,208.05 316.55,208.61 319.95,209.18 323.35,209.76 326.75,210.34 330.16,210.93 333.56,211.51 336.96,212.08 340.36,212.65 343.76,213.22 347.16,213.79 350.56,214.39 353.96,215.01 357.36,215.67 360.76,216.36 364.16,217.11 367.56,217.91 370.96,218.78 374.36,219.71 377.76,220.71 381.17,221.78 384.57,222.90 387.97,224.07 391.37,225.29 394.77,226.56 398.17,227.87 401.57,229.21 404.97,230.61 408.37,232.15 411.77,233.79 415.17,235.51 418.57,237.30 421.97,239.14 425.37,241.07 428.78,243.09 432.18,245.18 435.58,247.31 438.98,249.46 442.38,251.61 445.78,253.79 449.18,256.02 452.58,258.30 455.98,260.65 459.38,263.09 462.78,265.59 466.18,268.16 469.58,270.84 472.99,273.64 476.39,276.61 479.79,279.75 483.19,283.06 486.59,286.53 489.99,290.14 493.39,293.88 496.79,297.85 500.19,302.10"/>
<g shape-rendering="crispEdges"><rect x="99.81" y="41.20" width="5.00" height="5.00" fill="#000"/><rect x="103.21" y="54.80" width="5.00" height="5.00" fill="#000"/><rect x="106.61" y="76.72" width="5.00" height="5.00" fill="#000"/><rect x="110.01" y="97.20" width="5.00" height="5.00" fill="#000"/><rect x="113.41" y="114.80" width="5.00" height="5.00" fill="#000"/><rect x="116.81" y="131.60" width="5.00" height="5.00" fill="#000"/><rect x="120.21" y="146.80" width="5.00" height="5.00" fill="#000"/><rect x="123.61" y="159.92" width="5.00" height="5.00" fill="#000"/><rect x="127.01" y="166.00" width="5.00" height="5.00" fill="#000"/><rect x="130.41" y="169.20" width="5.00" height="5.00" fill="#000"/><rect x="133.81" y="171.66" width="5.00" height="5.00" fill="#000"/><rect x="137.22" y="173.68" width="5.00" height="5.00" fill="#000"/><rect x="140.62" y="175.36" width="5.00" height="5.00" fill="#000"/><rect x="144.02" y="176.83" width="5.00" height="5.00" fill="#000"/><rect x="147.42" y="178.18" width="5.00" height="5.00" fill="#000"/><rect x="150.82" y="179.44" width="5.00" height="5.00" fill="#000"/><rect x="154.22" y="180.68" width="5.00" height="5.00" fill="#000"/><rect x="157.62" y="181.89" width="5.00" height="5.00" fill="#000"/><rect x="161.02" y="183.03" width="5.00" height="5.00" fill="#000"/><rect x="164.42" y="184.06" width="5.00" height="5.00" fill="#000"/><rect x="167.82" y="184.96" width="5.00" height="5.00" fill="#000"/><rect x="171.22" y="185.72" width="5.00" height="5.00" fill="#000"/><rect x="174.62" y="186.41" width="5.00" height="5.00" fill="#000"/><rect x="178.02" y="187.03" width="5.00" height="5.00" fill="#000"/><rect x="181.42" y="187.62" width="5.00" height="5.00" fill="#000"/><rect x="184.82" y="188.16" width="5.00" height="5.00" fill="#000"/><rect x="188.23" y="188.67" width="5.00" height="5.00" fill="#000"/><rect x="191.63" y="189.17" width="5.00" height="5.00" fill="#000"/><rect x="195.03" y="189.66" width="5.00" height="5.00" fill="#000"/><rect x="198.43" y="190.15" width="5.00" height="5.00" fill="#000"/><rect x="201.83" y="190.61" width="5.00" height="5.00" fill="#000"/><rect x="205.23" y="191.04" width="5.00" height="5.00" fill="#000"/><rect x="208.63" y="191.47" width="5.00" height="5.00" fill="#000"/><rect x="212.03" y="191.88" width="5.00" height="5.00" fill="#000"/><rect x="215.43" y="192.30" width="5.00" height="5.00" fill="#000"/><rect x="218.83" y="192.73" width="5.00" height="5.00" fill="#000"/><rect x="222.23" y="193.17" width="5.00" height="5.00" fill="#000"/><rect x="225.63" y="193.62" width="5.00" height="5.00" fill="#000"/><rect x="229.03" y="194.06" width="5.00" height="5.00" fill="#000"/><rect x="232.44" y="194.50" width="5.00" height="5.00" fill="#000"/><rect x="235.84" y="194.94" width="5.00" height="5.00" fill="#000"/><rect x="239.24" y="195.38" width="5.00" height="5.00" fill="#000"/><rect x="242.64" y="195.81" width="5.00" height="5.00" fill="#000"/><rect x="246.04" y="196.23" width="5.00" height="5.00" fill="#000"/><rect x="249.44" y="196.64" width="5.00" height="5.00" fill="#000"/><rect x="252.84" y="197.03" width="5.00" height="5.00" fill="#000"/><rect x="256.24" y="197.42" width="5.00" height="5.00" fill="#000"/><rect x="259.64" y="197.83" width="5.00" height="5.00" fill="#000"/><rect x="263.04" y="198.27" width="5.00" height="5.00" fill="#000"/><rect x="266.44" y="198.75" width="5.00" height="5.00" fill="#000"/><rect x="269.84" y="199.26" width="5.00" height="5.00" fill="#000"/><rect x="273.24" y="199.78" width="5.00" height="5.00" fill="#000"/><rect x="276.64" y="200.32" width="5.00" height="5.00" fill="#000"/><rect x="280.05" y="200.85" width="5.00" height="5.00" fill="#000"/><rect x="283.45" y="201.38" width="5.00" height="5.00" fill="#000"/><rect x="286.85" y="201.90" width="5.00" height="5.00" fill="#000"/><rect x="290.25" y="202.40" width="5.00" height="5.00" fill="#000"/><rect x="293.65" y="202.89" width="5.00" height="5.00" fill="#000"/><rect x="297.05" y="203.39" width="5.00" height="5.00" fill="#000"/><rect x="300.45" y="203.91" width="5.00" height="5.00" fill="#000"/><rect x="303.85" y="204.45" width="5.00" height="5.00" fill="#000"/><rect x="307.25" y="204.99" width="5.00" height="5.00" fill="#000"/><rect x="310.65" y="205.55" width="5.00" height="5.00" fill="#000"/><rect x="314.05" y="206.11" width="5.00" height="5.00" fill="#000"/><rect x="317.45" y="206.68" width="5.00" height="5.00" fill="#000"/><rect x="320.85" y="207.26" width="5.00" height="5.00" fill="#000"/><rect x="324.25" y="207.84" width="5.00" height="5.00" fill="#000"/><rect x="327.66" y="208.43" width="5.00" height="5.00" fill="#000"/><rect x="331.06" y="209.01" width="5.00" height="5.00" fill="#000"/><rect x="334.46" y="209.58" width="5.00" height="5.00" fill="#000"/><rect x="337.86" y="210.15" width="5.00" height="5.00" fill="#000"/><rect x="341.26" y="210.72" width="5.00" height="5.00" fill="#000"/><rect x="344.66" y="211.29" width="5.00" height="5.00" fill="#000"/><rect x="348.06" y="211.89" width="5.00" height="5.00" fill="#000"/><rect x="351.46" y="212.51" width="5.00" height="5.00" fill="#000"/><rect x="354.86" y="213.17" width="5.00" height="5.00" fill="#000"/><rect x="358.26" y="213.86" width="5.00" height="5.00" fill="#000"/><rect x="361.66" y="214.61" width="5.00" height="5.00" fill="#000"/><rect x="365.06" y="215.41" width="5.00" height="5.00" fill="#000"/><rect x="368.46" y="216.28" width="5.00" height="5.00" fill="#000"/><rect x="371.86" y="217.21" width="5.00" height="5.00" fill="#000"/><rect x="375.26" y="218.21" width="5.00" height="5.00" fill="#000"/><rect x="378.67" y="219.28" width="5.00" height="5.00" fill="#000"/><rect x="382.07" y="220.40" width="5.00" height="5.00" fill="#000"/><rect x="385.47" y="221.57" width="5.00" height="5.00" fill="#000"/><rect x="388.87" y="222.79" width="5.00" height="5.00" fill="#000"/><rect x="392.27" y="224.06" width="5.00" height="5.00" fill="#000"/><rect x="395.67" y="225.37" width="5.00" height="5.00" fill="#000"/><rect x="399.07" y="226.71" width="5.00" height="5.00" fill="#000"/><rect x="402.47" y="228.11" width="5.00" height="5.00" fill="#000"/><rect x="405.87" y="229.65" width="5.00" height="5.00" fill="#000"/><rect x="409.27" y="231.29" width="5.00" height="5.00" fill="#000"/><rect x="412.67" y="233.01" width="5.00" height="5.00" fill="#000"/><rect x="416.07" y="234.80" width="5.00" height="5.00" fill="#000"/><rect x="419.47" y="236.64" width="5.00" height="5.00" fill="#000"/><rect x="422.87" y="238.57" width="5.00" height="5.00" fill="#000"/><rect x="426.28" y="240.59" width="5.00" height="5.00" fill="#000"/><rect x="429.68" y="242.68" width="5.00" height="5.00" fill="#000"/><rect x="433.08" y="244.81" width="5.00" height="5.00" fill="#000"/><rect x="436.48" y="246.96" width="5.00" height="5.00" fill="#000"/><rect x="439.88" y="249.11" width="5.00" height="5.00" fill="#000"/><rect x="443.28" y="251.29" width="5.00" height="5.00" fill="#000"/><rect x="446.68" y="253.52" width="5.00" height="5.00" fill="#000"/><rect x="450.08" y="255.80" width="5.00" height="5.00" fill="#000"/><rect x="453.48" y="258.15" width="5.00" height="5.00" fill="#000"/><rect x="456.88" y="260.59" width="5.00" height="5.00" fill="#000"/><rect x="460.28" y="263.09" width="5.00" height="5.00" fill="#000"/><rect x="463.68" y="265.66" width="5.00" height="5.00" fill="#000"/><rect x="467.08" y="268.34" width="5.00" height="5.00" fill="#000"/><rect x="470.49" y="271.14" width="5.00" height="5.00" fill="#000"/><rect x="473.89" y="274.11" width="5.00" height="5.00" fill="#000"/><rect x="477.29" y="277.25" width="5.00" height="5.00" fill="#000"/><rect x="480.69" y="280.56" width="5.00" height="5.00" fill="#000"/><rect x="484.09" y="284.03" width="5.00" height="5.00" fill="#000"/><rect x="487.49" y="287.64" width="5.00" height="5.00" fill="#000"/><rect x="490.89" y="291.38" width="5.00" height="5.00" fill="#000"/><rect x="494.29" y="295.35" width="5.00" height="5.00" fill="#000"/><rect x="497.69" y="299.60" width="5.00" height="5.00" fill="#000"/></g>
<polyline fill="none" stroke="#ff1a1a" stroke-width="1.2" points="102.31,43.70 105.71,61.62 109.11,87.70 112.51,110.10 115.91,131.06 119.31,148.98 122.71,164.98 126.11,172.02 129.51,174.90 132.91,176.85 136.31,178.42 139.72,179.79 143.12,181.01 146.52,182.17 149.92,183.32 153.32,184.44 156.72,185.54 160.12,186.60 163.52,187.62 166.92,188.60 170.32,189.52 173.72,190.38 177.12,191.19 180.52,191.96 183.92,192.70 187.32,193.40 190.73,194.07 194.13,194.69 197.53,195.28 200.93,195.88 204.33,196.51 207.73,197.16 211.13,197.79 214.53,198.39 217.93,198.93 221.33,199.39 224.73,199.79 228.13,200.13 231.53,200.44 234.94,200.73 238.34,201.00 241.74,201.27 245.14,201.56 248.54,201.87 251.94,202.22 255.34,202.61 258.74,203.07 262.14,203.66 265.54,204.46 268.94,205.30 272.34,206.12 275.74,206.98 279.14,207.85 282.55,208.71 285.95,209.52 289.35,210.28 292.75,210.95 296.15,211.54 299.55,212.09 302.95,212.64 306.35,213.21 309.75,213.84 313.15,214.56 316.55,215.35 319.95,216.20 323.35,217.14 326.75,218.16 330.16,219.28 333.56,220.54 336.96,221.98 340.36,223.55 343.76,225.24 347.16,227.02 350.56,228.88 353.96,230.84 357.36,232.95 360.76,235.19 364.16,237.57 367.56,240.09 370.96,242.76 374.36,245.69 377.76,248.86 381.17,252.21 384.57,255.67 387.97,259.19 391.37,262.72 394.77,266.41 398.17,270.16 401.57,273.90 404.97,277.69 408.37,281.64 411.77,285.84 415.17,290.34 418.57,295.02 421.97,299.73 425.37,304.28 428.78,308.46 432.18,313.59 435.58,321.52 438.98,329.53 442.38,335.58 445.78,340.04 449.18,344.04 452.58,347.46 455.98,350.40 459.38,353.10 462.78,355.23 466.18,356.81 469.58,358.15 472.99,359.24 476.39,360.10 479.79,360.86 483.19,361.57 486.59,362.21 489.99,362.73 493.39,363.13 496.79,363.36 500.19,363.49 503.59,363.60 506.99,363.67 510.39,363.70"/>
<g><circle cx="102.31" cy="43.70" r="2.86" fill="#ff1a1a"/><circle cx="105.71" cy="61.62" r="2.86" fill="#ff1a1a"/><circle cx="109.11" cy="87.70" r="2.86" fill="#ff1a1a"/><circle cx="112.51" cy="110.10" r="2.86" fill="#ff1a1a"/><circle cx="115.91" cy="131.06" r="2.86" fill="#ff1a1a"/><circle cx="119.31" cy="148.98" r="2.86" fill="#ff1a1a"/><circle cx="122.71" cy="164.98" r="2.86" fill="#ff1a1a"/><circle cx="126.11" cy="172.02" r="2.86" fill="#ff1a1a"/><circle cx="129.51" cy="174.90" r="2.86" fill="#ff1a1a"/><circle cx="132.91" cy="176.85" r="2.86" fill="#ff1a1a"/><circle cx="136.31" cy="178.42" r="2.86" fill="#ff1a1a"/><circle cx="139.72" cy="179.79" r="2.86" fill="#ff1a1a"/><circle cx="143.12" cy="181.01" r="2.86" fill="#ff1a1a"/><circle cx="146.52" cy="182.17" r="2.86" fill="#ff1a1a"/><circle cx="149.92" cy="183.32" r="2.86" fill="#ff1a1a"/><circle cx="153.32" cy="184.44" r="2.86" fill="#ff1a1a"/><circle cx="156.72" cy="185.54" r="2.86" fill="#ff1a1a"/><circle cx="160.12" cy="186.60" r="2.86" fill="#ff1a1a"/><circle cx="163.52" cy="187.62" r="2.86" fill="#ff1a1a"/><circle cx="166.92" cy="188.60" r="2.86" fill="#ff1a1a"/><circle cx="170.32" cy="189.52" r="2.86" fill="#ff1a1a"/><circle cx="173.72" cy="190.38" r="2.86" fill="#ff1a1a"/><circle cx="177.12" cy="191.19" r="2.86" fill="#ff1a1a"/><circle cx="180.52" cy="191.96" r="2.86" fill="#ff1a1a"/><circle cx="183.92" cy="192.70" r="2.86" fill="#ff1a1a"/><circle cx="187.32" cy="193.40" r="2.86" fill="#ff1a1a"/><circle cx="190.73" cy="194.07" r="2.86" fill="#ff1a1a"/><circle cx="194.13" cy="194.69" r="2.86" fill="#ff1a1a"/><circle cx="197.53" cy="195.28" r="2.86" fill="#ff1a1a"/><circle cx="200.93" cy="195.88" r="2.86" fill="#ff1a1a"/><circle cx="204.33" cy="196.51" r="2.86" fill="#ff1a1a"/><circle cx="207.73" cy="197.16" r="2.86" fill="#ff1a1a"/><circle cx="211.13" cy="197.79" r="2.86" fill="#ff1a1a"/><circle cx="214.53" cy="198.39" r="2.86" fill="#ff1a1a"/><circle cx="217.93" cy="198.93" r="2.86" fill="#ff1a1a"/><circle cx="221.33" cy="199.39" r="2.86" fill="#ff1a1a"/><circle cx="224.73" cy="199.79" r="2.86" fill="#ff1a1a"/><circle cx="228.13" cy="200.13" r="2.86" fill="#ff1a1a"/><circle cx="231.53" cy="200.44" r="2.86" fill="#ff1a1a"/><circle cx="234.94" cy="200.73" r="2.86" fill="#ff1a1a"/><circle cx="238.34" cy="201.00" r="2.86" fill="#ff1a1a"/><circle cx="241.74" cy="201.27" r="2.86" fill="#ff1a1a"/><circle cx="245.14" cy="201.56" r="2.86" fill="#ff1a1a"/><circle cx="248.54" cy="201.87" r="2.86" fill="#ff1a1a"/><circle cx="251.94" cy="202.22" r="2.86" fill="#ff1a1a"/><circle cx="255.34" cy="202.61" r="2.86" fill="#ff1a1a"/><circle cx="258.74" cy="203.07" r="2.86" fill="#ff1a1a"/><circle cx="262.14" cy="203.66" r="2.86" fill="#ff1a1a"/><circle cx="265.54" cy="204.46" r="2.86" fill="#ff1a1a"/><circle cx="268.94" cy="205.30" r="2.86" fill="#ff1a1a"/><circle cx="272.34" cy="206.12" r="2.86" fill="#ff1a1a"/><circle cx="275.74" cy="206.98" r="2.86" fill="#ff1a1a"/><circle cx="279.14" cy="207.85" r="2.86" fill="#ff1a1a"/><circle cx="282.55" cy="208.71" r="2.86" fill="#ff1a1a"/><circle cx="285.95" cy="209.52" r="2.86" fill="#ff1a1a"/><circle cx="289.35" cy="210.28" r="2.86" fill="#ff1a1a"/><circle cx="292.75" cy="210.95" r="2.86" fill="#ff1a1a"/><circle cx="296.15" cy="211.54" r="2.86" fill="#ff1a1a"/><circle cx="299.55" cy="212.09" r="2.86" fill="#ff1a1a"/><circle cx="302.95" cy="212.64" r="2.86" fill="#ff1a1a"/><circle cx="306.35" cy="213.21" r="2.86" fill="#ff1a1a"/><circle cx="309.75" cy="213.84" r="2.86" fill="#ff1a1a"/><circle cx="313.15" cy="214.56" r="2.86" fill="#ff1a1a"/><circle cx="316.55" cy="215.35" r="2.86" fill="#ff1a1a"/><circle cx="319.95" cy="216.20" r="2.86" fill="#ff1a1a"/><circle cx="323.35" cy="217.14" r="2.86" fill="#ff1a1a"/><circle cx="326.75" cy="218.16" r="2.86" fill="#ff1a1a"/><circle cx="330.16" cy="219.28" r="2.86" fill="#ff1a1a"/><circle cx="333.56" cy="220.54" r="2.86" fill="#ff1a1a"/><circle cx="336.96" cy="221.98" r="2.86" fill="#ff1a1a"/><circle cx="340.36" cy="223.55" r="2.86" fill="#ff1a1a"/><circle cx="343.76" cy="225.24" r="2.86" fill="#ff1a1a"/><circle cx="347.16" cy="227.02" r="2.86" fill="#ff1a1a"/><circle cx="350.56" cy="228.88" r="2.86" fill="#ff1a1a"/><circle cx="353.96" cy="230.84" r="2.86" fill="#ff1a1a"/><circle cx="357.36" cy="232.95" r="2.86" fill="#ff1a1a"/><circle cx="360.76" cy="235.19" r="2.86" fill="#ff1a1a"/><circle cx="364.16" cy="237.57" r="2.86" fill="#ff1a1a"/><circle cx="367.56" cy="240.09" r="2.86" fill="#ff1a1a"/><circle cx="370.96" cy="242.76" r="2.86" fill="#ff1a1a"/><circle cx="374.36" cy="245.69" r="2.86" fill="#ff1a1a"/><circle cx="377.76" cy="248.86" r="2.86" fill="#ff1a1a"/><circle cx="381.17" cy="252.21" r="2.86" fill="#ff1a1a"/><circle cx="384.57" cy="255.67" r="2.86" fill="#ff1a1a"/><circle cx="387.97" cy="259.19" r="2.86" fill="#ff1a1a"/><circle cx="391.37" cy="262.72" r="2.86" fill="#ff1a1a"/><circle cx="394.77" cy="266.41" r="2.86" fill="#ff1a1a"/><circle cx="398.17" cy="270.16" r="2.86" fill="#ff1a1a"/><circle cx="401.57" cy="273.90" r="2.86" fill="#ff1a1a"/><circle cx="404.97" cy="277.69" r="2.86" fill="#ff1a1a"/><circle cx="408.37" cy="281.64" r="2.86" fill="#ff1a1a"/><circle cx="411.77" cy="285.84" r="2.86" fill="#ff1a1a"/><circle cx="415.17" cy="290.34" r="2.86" fill="#ff1a1a"/><circle cx="418.57" cy="295.02" r="2.86" fill="#ff1a1a"/><circle cx="421.97" cy="299.73" r="2.86" fill="#ff1a1a"/><circle cx="425.37" cy="304.28" r="2.86" fill="#ff1a1a"/><circle cx="428.78" cy="308.46" r="2.86" fill="#ff1a1a"/><circle cx="432.18" cy="313.59" r="2.86" fill="#ff1a1a"/><circle cx="435.58" cy="321.52" r="2.86" fill="#ff1a1a"/><circle cx="438.98" cy="329.53" r="2.86" fill="#ff1a1a"/><circle cx="442.38" cy="335.58" r="2.86" fill="#ff1a1a"/><circle cx="445.78" cy="340.04" r="2.86" fill="#ff1a1a"/><circle cx="449.18" cy="344.04" r="2.86" fill="#ff1a1a"/><circle cx="452.58" cy="347.46" r="2.86" fill="#ff1a1a"/><circle cx="455.98" cy="350.40" r="2.86" fill="#ff1a1a"/><circle cx="459.38" cy="353.10" r="2.86" fill="#ff1a1a"/><circle cx="462.78" cy="355.23" r="2.86" fill="#ff1a1a"/><circle cx="466.18" cy="356.81" r="2.86" fill="#ff1a1a"/><circle cx="469.58" cy="358.15" r="2.86" fill="#ff1a1a"/><circle cx="472.99" cy="359.24" r="2.86" fill="#ff1a1a"/><circle cx="476.39" cy="360.10" r="2.86" fill="#ff1a1a"/><circle cx="479.79" cy="360.86" r="2.86" fill="#ff1a1a"/><circle cx="483.19" cy="361.57" r="2.86" fill="#ff1a1a"/><circle cx="486.59" cy="362.21" r="2.86" fill="#ff1a1a"/><circle cx="489.99" cy="362.73" r="2.86" fill="#ff1a1a"/><circle cx="493.39" cy="363.13" r="2.86" fill="#ff1a1a"/><circle cx="496.79" cy="363.36" r="2.86" fill="#ff1a1a"/><circle cx="500.19" cy="363.49" r="2.86" fill="#ff1a1a"/><circle cx="503.59" cy="363.60" r="2.86" fill="#ff1a1a"/><circle cx="506.99" cy="363.67" r="2.86" fill="#ff1a1a"/><circle cx="510.39" cy="363.70" r="2.86" fill="#ff1a1a"/></g>
<polyline fill="none" stroke="#00ff00" stroke-width="1.2" points="102.31,43.70 105.71,61.62 109.11,87.70 112.51,110.10 115.91,131.06 119.31,148.98 122.71,164.98 126.11,172.02 129.51,174.90 132.91,176.85 136.31,178.42 139.72,179.79 143.12,181.01 146.52,182.17 149.92,183.32 153.32,184.44 156.72,185.54 160.12,186.60 163.52,187.62 166.92,188.59 170.32,189.52 173.72,190.38 177.12,191.20 180.52,191.97 183.92,192.71 187.32,193.42 190.73,194.10 194.13,194.73 197.53,195.33 200.93,195.94 204.33,196.57 207.73,197.22 211.13,197.86 214.53,198.46 217.93,199.00 221.33,199.47 224.73,199.86 228.13,200.22 231.53,200.53 234.94,200.82 238.34,201.10 241.74,201.39 245.14,201.69 248.54,202.01 251.94,202.37 255.34,202.78 258.74,203.24 262.14,203.86 265.54,204.63 268.94,205.44 272.34,206.26 275.74,207.11 279.14,207.98 282.55,208.84 285.95,209.66 289.35,210.43 292.75,211.12 296.15,211.74 299.55,212.33 302.95,212.93 306.35,213.58 309.75,214.31 313.15,215.12 316.55,216.00 319.95,216.95 323.35,217.98 326.75,219.10 330.16,220.33 333.56,221.70 336.96,223.19 340.36,224.80 343.76,226.51 347.16,228.32 350.56,230.23 353.96,232.27 357.36,234.43 360.76,236.70 364.16,239.09 367.56,241.59 370.96,244.26 374.36,247.14 377.76,250.17 381.17,253.34 384.57,256.58 387.97,259.87 391.37,263.17 394.77,266.58 398.17,270.04 401.57,273.50 404.97,277.00 408.37,280.62 411.77,284.40 415.17,288.40 418.57,292.55 421.97,296.82 425.37,301.11 428.78,305.23 432.18,309.23 435.58,314.11 438.98,320.93 442.38,328.37 445.78,334.84 449.18,339.48 452.58,343.57 455.98,347.01 459.38,349.95 462.78,352.55 466.18,354.76 469.58,356.40 472.99,357.78 476.39,358.91 479.79,359.83 483.19,360.59 486.59,361.23 489.99,361.92 493.39,362.44 496.79,362.75 500.19,362.89 503.59,363.01 506.99,363.18 510.39,363.27"/>
<g><polygon points="102.31,40.40 99.23,45.85 105.39,45.85" fill="#00ff00"/><polygon points="105.71,58.32 102.63,63.76 108.79,63.76" fill="#00ff00"/><polygon points="109.11,84.40 106.03,89.84 112.19,89.84" fill="#00ff00"/><polygon points="112.51,106.80 109.43,112.25 115.59,112.25" fill="#00ff00"/><polygon points="115.91,127.76 112.83,133.21 118.99,133.21" fill="#00ff00"/><polygon points="119.31,145.68 116.23,151.12 122.39,151.12" fill="#00ff00"/><polygon points="122.71,161.68 119.63,167.12 125.79,167.12" fill="#00ff00"/><polygon points="126.11,168.72 123.03,174.16 129.19,174.16" fill="#00ff00"/><polygon points="129.51,171.60 126.43,177.04 132.59,177.04" fill="#00ff00"/><polygon points="132.91,173.55 129.83,179.00 135.99,179.00" fill="#00ff00"/><polygon points="136.31,175.12 133.23,180.56 139.39,180.56" fill="#00ff00"/><polygon points="139.72,176.49 136.63,181.94 142.80,181.94" fill="#00ff00"/><polygon points="143.12,177.71 140.04,183.16 146.20,183.16" fill="#00ff00"/><polygon points="146.52,178.87 143.44,184.32 149.60,184.32" fill="#00ff00"/><polygon points="149.92,180.02 146.84,185.46 153.00,185.46" fill="#00ff00"/><polygon points="153.32,181.14 150.24,186.59 156.40,186.59" fill="#00ff00"/><polygon points="156.72,182.24 153.64,187.68 159.80,187.68" fill="#00ff00"/><polygon points="160.12,183.30 157.04,188.74 163.20,188.74" fill="#00ff00"/><polygon points="163.52,184.32 160.44,189.77 166.60,189.77" fill="#00ff00"/><polygon points="166.92,185.29 163.84,190.74 170.00,190.74" fill="#00ff00"/><polygon points="170.32,186.22 167.24,191.66 173.40,191.66" fill="#00ff00"/><polygon points="173.72,187.08 170.64,192.52 176.80,192.52" fill="#00ff00"/><polygon points="177.12,187.90 174.04,193.34 180.20,193.34" fill="#00ff00"/><polygon points="180.52,188.67 177.44,194.12 183.60,194.12" fill="#00ff00"/><polygon points="183.92,189.41 180.84,194.86 187.00,194.86" fill="#00ff00"/><polygon points="187.32,190.12 184.24,195.56 190.41,195.56" fill="#00ff00"/><polygon points="190.73,190.80 187.65,196.24 193.81,196.24" fill="#00ff00"/><polygon points="194.13,191.43 191.05,196.87 197.21,196.87" fill="#00ff00"/><polygon points="197.53,192.03 194.45,197.47 200.61,197.47" fill="#00ff00"/><polygon points="200.93,192.64 197.85,198.08 204.01,198.08" fill="#00ff00"/><polygon points="204.33,193.27 201.25,198.72 207.41,198.72" fill="#00ff00"/><polygon points="207.73,193.92 204.65,199.37 210.81,199.37" fill="#00ff00"/><polygon points="211.13,194.56 208.05,200.00 214.21,200.00" fill="#00ff00"/><polygon points="214.53,195.16 211.45,200.61 217.61,200.61" fill="#00ff00"/><polygon points="217.93,195.70 214.85,201.15 221.01,201.15" fill="#00ff00"/><polygon points="221.33,196.17 218.25,201.61 224.41,201.61" fill="#00ff00"/><polygon points="224.73,196.56 221.65,202.01 227.81,202.01" fill="#00ff00"/><polygon points="228.13,196.92 225.05,202.36 231.21,202.36" fill="#00ff00"/><polygon points="231.53,197.23 228.45,202.67 234.61,202.67" fill="#00ff00"/><polygon points="234.94,197.52 231.85,202.97 238.02,202.97" fill="#00ff00"/><polygon points="238.34,197.80 235.26,203.25 241.42,203.25" fill="#00ff00"/><polygon points="241.74,198.09 238.66,203.53 244.82,203.53" fill="#00ff00"/><polygon points="245.14,198.39 242.06,203.83 248.22,203.83" fill="#00ff00"/><polygon points="248.54,198.71 245.46,204.16 251.62,204.16" fill="#00ff00"/><polygon points="251.94,199.07 248.86,204.52 255.02,204.52" fill="#00ff00"/><polygon points="255.34,199.48 252.26,204.92 258.42,204.92" fill="#00ff00"/><polygon points="258.74,199.94 255.66,205.39 261.82,205.39" fill="#00ff00"/><polygon points="262.14,200.56 259.06,206.00 265.22,206.00" fill="#00ff00"/><polygon points="265.54,201.33 262.46,206.77 268.62,206.77" fill="#00ff00"/><polygon points="268.94,202.14 265.86,207.58 272.02,207.58" fill="#00ff00"/><polygon points="272.34,202.96 269.26,208.40 275.42,208.40" fill="#00ff00"/><polygon points="275.74,203.81 272.66,209.26 278.82,209.26" fill="#00ff00"/><polygon points="279.14,204.68 276.06,210.12 282.22,210.12" fill="#00ff00"/><polygon points="282.55,205.54 279.47,210.98 285.62,210.98" fill="#00ff00"/><polygon points="285.95,206.36 282.87,211.81 289.03,211.81" fill="#00ff00"/><polygon points="289.35,207.13 286.27,212.58 292.43,212.58" fill="#00ff00"/><polygon points="292.75,207.82 289.67,213.26 295.83,213.26" fill="#00ff00"/><polygon points="296.15,208.44 293.07,213.88 299.23,213.88" fill="#00ff00"/><polygon points="299.55,209.03 296.47,214.47 302.63,214.47" fill="#00ff00"/><polygon points="302.95,209.63 299.87,215.08 306.03,215.08" fill="#00ff00"/><polygon points="306.35,210.28 303.27,215.72 309.43,215.72" fill="#00ff00"/><polygon points="309.75,211.01 306.67,216.45 312.83,216.45" fill="#00ff00"/><polygon points="313.15,211.82 310.07,217.27 316.23,217.27" fill="#00ff00"/><polygon points="316.55,212.70 313.47,218.14 319.63,218.14" fill="#00ff00"/><polygon points="319.95,213.65 316.87,219.10 323.03,219.10" fill="#00ff00"/><polygon points="323.35,214.68 320.27,220.13 326.43,220.13" fill="#00ff00"/><polygon points="326.75,215.80 323.67,221.25 329.83,221.25" fill="#00ff00"/><polygon points="330.16,217.03 327.08,222.48 333.24,222.48" fill="#00ff00"/><polygon points="333.56,218.40 330.48,223.84 336.64,223.84" fill="#00ff00"/><polygon points="336.96,219.89 333.88,225.33 340.04,225.33" fill="#00ff00"/><polygon points="340.36,221.50 337.28,226.94 343.44,226.94" fill="#00ff00"/><polygon points="343.76,223.21 340.68,228.65 346.84,228.65" fill="#00ff00"/><polygon points="347.16,225.02 344.08,230.46 350.24,230.46" fill="#00ff00"/><polygon points="350.56,226.93 347.48,232.38 353.64,232.38" fill="#00ff00"/><polygon points="353.96,228.97 350.88,234.41 357.04,234.41" fill="#00ff00"/><polygon points="357.36,231.13 354.28,236.57 360.44,236.57" fill="#00ff00"/><polygon points="360.76,233.40 357.68,238.84 363.84,238.84" fill="#00ff00"/><polygon points="364.16,235.79 361.08,241.23 367.24,241.23" fill="#00ff00"/><polygon points="367.56,238.29 364.48,243.74 370.64,243.74" fill="#00ff00"/><polygon points="370.96,240.96 367.88,246.41 374.04,246.41" fill="#00ff00"/><polygon points="374.36,243.84 371.28,249.28 377.44,249.28" fill="#00ff00"/><polygon points="377.76,246.87 374.69,252.32 380.84,252.32" fill="#00ff00"/><polygon points="381.17,250.04 378.09,255.48 384.25,255.48" fill="#00ff00"/><polygon points="384.57,253.28 381.49,258.73 387.65,258.73" fill="#00ff00"/><polygon points="387.97,256.57 384.89,262.01 391.05,262.01" fill="#00ff00"/><polygon points="391.37,259.87 388.29,265.31 394.45,265.31" fill="#00ff00"/><polygon points="394.77,263.28 391.69,268.72 397.85,268.72" fill="#00ff00"/><polygon points="398.17,266.74 395.09,272.19 401.25,272.19" fill="#00ff00"/><polygon points="401.57,270.20 398.49,275.64 404.65,275.64" fill="#00ff00"/><polygon points="404.97,273.70 401.89,279.15 408.05,279.15" fill="#00ff00"/><polygon points="408.37,277.32 405.29,282.76 411.45,282.76" fill="#00ff00"/><polygon points="411.77,281.10 408.69,286.55 414.85,286.55" fill="#00ff00"/><polygon points="415.17,285.10 412.09,290.54 418.25,290.54" fill="#00ff00"/><polygon points="418.57,289.25 415.49,294.70 421.65,294.70" fill="#00ff00"/><polygon points="421.97,293.52 418.89,298.96 425.05,298.96" fill="#00ff00"/><polygon points="425.37,297.81 422.29,303.25 428.45,303.25" fill="#00ff00"/><polygon points="428.78,301.93 425.70,307.38 431.86,307.38" fill="#00ff00"/><polygon points="432.18,305.93 429.10,311.37 435.26,311.37" fill="#00ff00"/><polygon points="435.58,310.81 432.50,316.26 438.66,316.26" fill="#00ff00"/><polygon points="438.98,317.63 435.90,323.07 442.06,323.07" fill="#00ff00"/><polygon points="442.38,325.07 439.30,330.51 445.46,330.51" fill="#00ff00"/><polygon points="445.78,331.54 442.70,336.98 448.86,336.98" fill="#00ff00"/><polygon points="449.18,336.18 446.10,341.62 452.26,341.62" fill="#00ff00"/><polygon points="452.58,340.27 449.50,345.72 455.66,345.72" fill="#00ff00"/><polygon points="455.98,343.71 452.90,349.16 459.06,349.16" fill="#00ff00"/><polygon points="459.38,346.65 456.30,352.09 462.46,352.09" fill="#00ff00"/><polygon points="462.78,349.25 459.70,354.70 465.86,354.70" fill="#00ff00"/><polygon points="466.18,351.46 463.10,356.91 469.26,356.91" fill="#00ff00"/><polygon points="469.58,353.10 466.50,358.55 472.66,358.55" fill="#00ff00"/><polygon points="472.99,354.48 469.91,359.93 476.06,359.93" fill="#00ff00"/><polygon points="476.39,355.61 473.31,361.06 479.47,361.06" fill="#00ff00"/><polygon points="479.79,356.53 476.71,361.97 482.87,361.97" fill="#00ff00"/><polygon points="483.19,357.29 480.11,362.73 486.27,362.73" fill="#00ff00"/><polygon points="486.59,357.93 483.51,363.37 489.67,363.37" fill="#00ff00"/><polygon points="489.99,358.62 486.91,364.06 493.07,364.06" fill="#00ff00"/><polygon points="493.39,359.14 490.31,364.58 496.47,364.58" fill="#00ff00"/><polygon points="496.79,359.45 493.71,364.89 499.87,364.89" fill="#00ff00"/><polygon points="500.19,359.59 497.11,365.04 503.27,365.04" fill="#00ff00"/><polygon points="503.59,359.71 500.51,365.15 506.67,365.15" fill="#00ff00"/><polygon points="506.99,359.88 503.91,365.32 510.07,365.32" fill="#00ff00"/><polygon points="510.39,359.97 507.31,365.42 513.47,365.42" fill="#00ff00"/></g>
<polyline fill="none" stroke="#0000ff" stroke-width="1.2" points="102.31,43.70 105.71,61.62 109.11,87.70 112.51,110.10 115.91,131.06 119.31,148.98 122.71,164.98 126.11,172.02 129.51,174.90 132.91,176.85 136.31,178.42 139.72,179.79 143.12,181.01 146.52,182.17 149.92,183.32 153.32,184.44 156.72,185.53 160.12,186.60 163.52,187.62 166.92,188.59 170.32,189.51 173.72,190.38 177.12,191.20 180.52,191.98 183.92,192.73 187.32,193.44 190.73,194.12 194.13,194.76 197.53,195.37 200.93,195.99 204.33,196.63 207.73,197.28 211.13,197.93 214.53,198.53 217.93,199.07 221.33,199.54 224.73,199.95 228.13,200.30 231.53,200.62 234.94,200.92 238.34,201.22 241.74,201.51 245.14,201.82 248.54,202.16 251.94,202.53 255.34,202.94 258.74,203.42 262.14,204.03 265.54,204.78 268.94,205.57 272.34,206.39 275.74,207.24 279.14,208.11 282.55,208.97 285.95,209.81 289.35,210.60 292.75,211.31 296.15,211.97 299.55,212.61 302.95,213.29 306.35,214.04 309.75,214.88 313.15,215.78 316.55,216.75 319.95,217.80 323.35,218.92 326.75,220.13 330.16,221.44 333.56,222.86 336.96,224.39 340.36,226.02 343.76,227.78 347.16,229.64 350.56,231.62 353.96,233.71 357.36,235.89 360.76,238.17 364.16,240.54 367.56,243.02 370.96,245.67 374.36,248.45 377.76,251.34 381.17,254.33 384.57,257.38 387.97,260.46 391.37,263.55 394.77,266.73 398.17,269.94 401.57,273.16 404.97,276.41 408.37,279.75 411.77,283.21 415.17,286.82 418.57,290.55 421.97,294.39 425.37,298.32 428.78,302.28 432.18,306.08 435.58,309.92 438.98,314.53 442.38,320.48 445.78,327.30 449.18,334.02 452.58,338.89 455.98,343.10 459.38,346.57 462.78,349.51 466.18,352.05 469.58,354.26 472.99,355.98 476.39,357.41 479.79,358.58 483.19,359.54 486.59,360.20 489.99,360.81 493.39,361.53 496.79,362.03 500.19,362.27 503.59,362.42 506.99,362.68 510.39,362.85"/>
<g><polygon points="102.31,47.00 99.23,41.55 105.39,41.55" fill="#0000ff"/><polygon points="105.71,64.92 102.63,59.47 108.79,59.47" fill="#0000ff"/><polygon points="109.11,91.00 106.03,85.56 112.19,85.56" fill="#0000ff"/><polygon points="112.51,113.40 109.43,107.96 115.59,107.96" fill="#0000ff"/><polygon points="115.91,134.36 112.83,128.91 118.99,128.91" fill="#0000ff"/><polygon points="119.31,152.28 116.23,146.83 122.39,146.83" fill="#0000ff"/><polygon points="122.71,168.28 119.63,162.83 125.79,162.83" fill="#0000ff"/><polygon points="126.11,175.32 123.03,169.87 129.19,169.87" fill="#0000ff"/><polygon points="129.51,178.20 126.43,172.75 132.59,172.75" fill="#0000ff"/><polygon points="132.91,180.15 129.83,174.71 135.99,174.71" fill="#0000ff"/><polygon points="136.31,181.72 133.23,176.27 139.39,176.27" fill="#0000ff"/><polygon points="139.72,183.09 136.63,177.65 142.80,177.65" fill="#0000ff"/><polygon points="143.12,184.31 140.04,178.87 146.20,178.87" fill="#0000ff"/><polygon points="146.52,185.47 143.44,180.03 149.60,180.03" fill="#0000ff"/><polygon points="149.92,186.62 146.84,181.17 153.00,181.17" fill="#0000ff"/><polygon points="153.32,187.74 150.24,182.29 156.40,182.29" fill="#0000ff"/><polygon points="156.72,188.83 153.64,183.39 159.80,183.39" fill="#0000ff"/><polygon points="160.12,189.90 157.04,184.45 163.20,184.45" fill="#0000ff"/><polygon points="163.52,190.92 160.44,185.47 166.60,185.47" fill="#0000ff"/><polygon points="166.92,191.89 163.84,186.45 170.00,186.45" fill="#0000ff"/><polygon points="170.32,192.81 167.24,187.37 173.40,187.37" fill="#0000ff"/><polygon points="173.72,193.68 170.64,188.24 176.80,188.24" fill="#0000ff"/><polygon points="177.12,194.50 174.04,189.06 180.20,189.06" fill="#0000ff"/><polygon points="180.52,195.28 177.44,189.84 183.60,189.84" fill="#0000ff"/><polygon points="183.92,196.03 180.84,190.58 187.00,190.58" fill="#0000ff"/><polygon points="187.32,196.74 184.24,191.29 190.41,191.29" fill="#0000ff"/><polygon points="190.73,197.42 187.65,191.98 193.81,191.98" fill="#0000ff"/><polygon points="194.13,198.06 191.05,192.62 197.21,192.62" fill="#0000ff"/><polygon points="197.53,198.67 194.45,193.23 200.61,193.23" fill="#0000ff"/><polygon points="200.93,199.29 197.85,193.84 204.01,193.84" fill="#0000ff"/><polygon points="204.33,199.93 201.25,194.49 207.41,194.49" fill="#0000ff"/><polygon points="207.73,200.58 204.65,195.14 210.81,195.14" fill="#0000ff"/><polygon points="211.13,201.23 208.05,195.78 214.21,195.78" fill="#0000ff"/><polygon points="214.53,201.83 211.45,196.39 217.61,196.39" fill="#0000ff"/><polygon points="217.93,202.37 214.85,196.93 221.01,196.93" fill="#0000ff"/><polygon points="221.33,202.84 218.25,197.40 224.41,197.40" fill="#0000ff"/><polygon points="224.73,203.25 221.65,197.80 227.81,197.80" fill="#0000ff"/><polygon points="228.13,203.60 225.05,198.16 231.21,198.16" fill="#0000ff"/><polygon points="231.53,203.92 228.45,198.48 234.61,198.48" fill="#0000ff"/><polygon points="234.94,204.22 231.85,198.78 238.02,198.78" fill="#0000ff"/><polygon points="238.34,204.52 235.26,199.07 241.42,199.07" fill="#0000ff"/><polygon points="241.74,204.81 238.66,199.37 244.82,199.37" fill="#0000ff"/><polygon points="245.14,205.12 242.06,199.68 248.22,199.68" fill="#0000ff"/><polygon points="248.54,205.46 245.46,200.01 251.62,200.01" fill="#0000ff"/><polygon points="251.94,205.83 248.86,200.38 255.02,200.38" fill="#0000ff"/><polygon points="255.34,206.24 252.26,200.79 258.42,200.79" fill="#0000ff"/><polygon points="258.74,206.72 255.66,201.27 261.82,201.27" fill="#0000ff"/><polygon points="262.14,207.33 259.06,201.89 265.22,201.89" fill="#0000ff"/><polygon points="265.54,208.08 262.46,202.63 268.62,202.63" fill="#0000ff"/><polygon points="268.94,208.87 265.86,203.43 272.02,203.43" fill="#0000ff"/><polygon points="272.34,209.69 269.26,204.24 275.42,204.24" fill="#0000ff"/><polygon points="275.74,210.54 272.66,205.09 278.82,205.09" fill="#0000ff"/><polygon points="279.14,211.41 276.06,205.96 282.22,205.96" fill="#0000ff"/><polygon points="282.55,212.27 279.47,206.83 285.62,206.83" fill="#0000ff"/><polygon points="285.95,213.11 282.87,207.67 289.03,207.67" fill="#0000ff"/><polygon points="289.35,213.90 286.27,208.45 292.43,208.45" fill="#0000ff"/><polygon points="292.75,214.61 289.67,209.16 295.83,209.16" fill="#0000ff"/><polygon points="296.15,215.27 293.07,209.82 299.23,209.82" fill="#0000ff"/><polygon points="299.55,215.91 296.47,210.47 302.63,210.47" fill="#0000ff"/><polygon points="302.95,216.59 299.87,211.14 306.03,211.14" fill="#0000ff"/><polygon points="306.35,217.34 303.27,211.89 309.43,211.89" fill="#0000ff"/><polygon points="309.75,218.18 306.67,212.73 312.83,212.73" fill="#0000ff"/><polygon points="313.15,219.08 310.07,213.64 316.23,213.64" fill="#0000ff"/><polygon points="316.55,220.05 313.47,214.61 319.63,214.61" fill="#0000ff"/><polygon points="319.95,221.10 316.87,215.66 323.03,215.66" fill="#0000ff"/><polygon points="323.35,222.22 320.27,216.78 326.43,216.78" fill="#0000ff"/><polygon points="326.75,223.43 323.67,217.98 329.83,217.98" fill="#0000ff"/><polygon points="330.16,224.74 327.08,219.30 333.24,219.30" fill="#0000ff"/><polygon points="333.56,226.16 330.48,220.72 336.64,220.72" fill="#0000ff"/><polygon points="336.96,227.69 333.88,222.24 340.04,222.24" fill="#0000ff"/><polygon points="340.36,229.32 337.28,223.88 343.44,223.88" fill="#0000ff"/><polygon points="343.76,231.08 340.68,225.63 346.84,225.63" fill="#0000ff"/><polygon points="347.16,232.94 344.08,227.49 350.24,227.49" fill="#0000ff"/><polygon points="350.56,234.92 347.48,229.48 353.64,229.48" fill="#0000ff"/><polygon points="353.96,237.01 350.88,231.57 357.04,231.57" fill="#0000ff"/><polygon points="357.36,239.19 354.28,233.75 360.44,233.75" fill="#0000ff"/><polygon points="360.76,241.47 357.68,236.02 363.84,236.02" fill="#0000ff"/><polygon points="364.16,243.84 361.08,238.40 367.24,238.40" fill="#0000ff"/><polygon points="367.56,246.32 364.48,240.88 370.64,240.88" fill="#0000ff"/><polygon points="370.96,248.97 367.88,243.52 374.04,243.52" fill="#0000ff"/><polygon points="374.36,251.75 371.28,246.30 377.44,246.30" fill="#0000ff"/><polygon points="377.76,254.64 374.69,249.19 380.84,249.19" fill="#0000ff"/><polygon points="381.17,257.63 378.09,252.18 384.25,252.18" fill="#0000ff"/><polygon points="384.57,260.68 381.49,255.23 387.65,255.23" fill="#0000ff"/><polygon points="387.97,263.76 384.89,258.31 391.05,258.31" fill="#0000ff"/><polygon points="391.37,266.85 388.29,261.41 394.45,261.41" fill="#0000ff"/><polygon points="394.77,270.03 391.69,264.58 397.85,264.58" fill="#0000ff"/><polygon points="398.17,273.24 395.09,267.79 401.25,267.79" fill="#0000ff"/><polygon points="401.57,276.46 398.49,271.01 404.65,271.01" fill="#0000ff"/><polygon points="404.97,279.71 401.89,274.27 408.05,274.27" fill="#0000ff"/><polygon points="408.37,283.05 405.29,277.61 411.45,277.61" fill="#0000ff"/><polygon points="411.77,286.51 408.69,281.07 414.85,281.07" fill="#0000ff"/><polygon points="415.17,290.12 412.09,284.68 418.25,284.68" fill="#0000ff"/><polygon points="418.57,293.85 415.49,288.40 421.65,288.40" fill="#0000ff"/><polygon points="421.97,297.69 418.89,292.25 425.05,292.25" fill="#0000ff"/><polygon points="425.37,301.62 422.29,296.17 428.45,296.17" fill="#0000ff"/><polygon points="428.78,305.58 425.70,300.13 431.86,300.13" fill="#0000ff"/><polygon points="432.18,309.38 429.10,303.93 435.26,303.93" fill="#0000ff"/><polygon points="435.58,313.22 432.50,307.78 438.66,307.78" fill="#0000ff"/><polygon points="438.98,317.83 435.90,312.38 442.06,312.38" fill="#0000ff"/><polygon points="442.38,323.78 439.30,318.33 445.46,318.33" fill="#0000ff"/><polygon points="445.78,330.60 442.70,325.15 448.86,325.15" fill="#0000ff"/><polygon points="449.18,337.32 446.10,331.87 452.26,331.87" fill="#0000ff"/><polygon points="452.58,342.19 449.50,336.74 455.66,336.74" fill="#0000ff"/><polygon points="455.98,346.40 452.90,340.95 459.06,340.95" fill="#0000ff"/><polygon points="459.38,349.87 456.30,344.43 462.46,344.43" fill="#0000ff"/><polygon points="462.78,352.81 459.70,347.37 465.86,347.37" fill="#0000ff"/><polygon points="466.18,355.35 463.10,349.91 469.26,349.91" fill="#0000ff"/><polygon points="469.58,357.56 466.50,352.12 472.66,352.12" fill="#0000ff"/><polygon points="472.99,359.28 469.91,353.83 476.06,353.83" fill="#0000ff"/><polygon points="476.39,360.71 473.31,355.26 479.47,355.26" fill="#0000ff"/><polygon points="479.79,361.88 476.71,356.43 482.87,356.43" fill="#0000ff"/><polygon points="483.19,362.84 480.11,357.40 486.27,357.40" fill="#0000ff"/><polygon points="486.59,363.50 483.51,358.05 489.67,358.05" fill="#0000ff"/><polygon points="489.99,364.11 486.91,358.67 493.07,358.67" fill="#0000ff"/><polygon points="493.39,364.83 490.31,359.38 496.47,359.38" fill="#0000ff"/><polygon points="496.79,365.33 493.71,359.89 499.87,359.89" fill="#0000ff"/><polygon points="500.19,365.57 497.11,360.13 503.27,360.13" fill="#0000ff"/><polygon points="503.59,365.72 500.51,360.27 506.67,360.27" fill="#0000ff"/><polygon points="506.99,365.98 503.91,360.54 510.07,360.54" fill="#0000ff"/><polygon points="510.39,366.15 507.31,360.70 513.47,360.70" fill="#0000ff"/></g>
<polyline fill="none" stroke="#00ffff" stroke-width="1.2" points="102.31,43.70 105.71,61.62 109.11,87.70 112.51,110.10 115.91,131.06 119.31,148.98 122.71,164.98 126.11,172.02 129.51,174.90 132.91,176.85 136.31,178.42 139.72,179.79 143.12,181.01 146.52,182.17 149.92,183.32 153.32,184.44 156.72,185.53 160.12,186.59 163.52,187.61 166.92,188.59 170.32,189.51 173.72,190.38 177.12,191.21 180.52,191.99 183.92,192.74 187.32,193.46 190.73,194.15 194.13,194.80 197.53,195.42 200.93,196.04 204.33,196.69 207.73,197.35 211.13,197.99 214.53,198.60 217.93,199.15 221.33,199.62 224.73,200.03 228.13,200.39 231.53,200.72 234.94,201.03 238.34,201.34 241.74,201.64 245.14,201.96 248.54,202.30 251.94,202.68 255.34,203.10 258.74,203.59 262.14,204.19 265.54,204.92 268.94,205.71 272.34,206.52 275.74,207.37 279.14,208.24 282.55,209.11 285.95,209.97 289.35,210.78 292.75,211.53 296.15,212.24 299.55,212.96 302.95,213.74 306.35,214.61 309.75,215.55 313.15,216.55 316.55,217.61 319.95,218.74 323.35,219.93 326.75,221.21 330.16,222.56 333.56,224.01 336.96,225.57 340.36,227.26 343.76,229.07 347.16,231.00 350.56,233.03 353.96,235.14 357.36,237.32 360.76,239.58 364.16,241.93 367.56,244.38 370.96,246.96 374.36,249.62 377.76,252.37 381.17,255.20 384.57,258.08 387.97,260.98 391.37,263.89 394.77,266.85 398.17,269.85 401.57,272.86 404.97,275.90 408.37,279.01 411.77,282.21 415.17,285.51 418.57,288.90 421.97,292.37 425.37,295.95 428.78,299.60 432.18,303.29 435.58,306.84 438.98,310.55 442.38,314.86 445.78,320.13 449.18,326.33 452.58,333.09 455.98,338.27 459.38,342.61 462.78,346.14 466.18,349.09 469.58,351.60 472.99,353.77 476.39,355.55 479.79,357.03 483.19,358.25 486.59,359.07 489.99,359.81 493.39,360.47 496.79,361.09 500.19,361.59 503.59,361.82 506.99,362.18 510.39,362.42"/>
<g><polygon points="102.31,40.40 105.06,43.70 102.31,47.00 99.56,43.70" fill="#00ffff"/><polygon points="105.71,58.32 108.46,61.62 105.71,64.92 102.96,61.62" fill="#00ffff"/><polygon points="109.11,84.40 111.86,87.70 109.11,91.00 106.36,87.70" fill="#00ffff"/><polygon points="112.51,106.80 115.26,110.10 112.51,113.40 109.76,110.10" fill="#00ffff"/><polygon points="115.91,127.76 118.66,131.06 115.91,134.36 113.16,131.06" fill="#00ffff"/><polygon points="119.31,145.68 122.06,148.98 119.31,152.28 116.56,148.98" fill="#00ffff"/><polygon points="122.71,161.68 125.46,164.98 122.71,168.28 119.96,164.98" fill="#00ffff"/><polygon points="126.11,168.72 128.86,172.02 126.11,175.32 123.36,172.02" fill="#00ffff"/><polygon points="129.51,171.60 132.26,174.90 129.51,178.20 126.76,174.90" fill="#00ffff"/><polygon points="132.91,173.55 135.66,176.85 132.91,180.15 130.16,176.85" fill="#00ffff"/><polygon points="136.31,175.12 139.06,178.42 136.31,181.72 133.56,178.42" fill="#00ffff"/><polygon points="139.72,176.49 142.47,179.79 139.72,183.09 136.97,179.79" fill="#00ffff"/><polygon points="143.12,177.71 145.87,181.01 143.12,184.31 140.37,181.01" fill="#00ffff"/><polygon points="146.52,178.87 149.27,182.17 146.52,185.47 143.77,182.17" fill="#00ffff"/><polygon points="149.92,180.02 152.67,183.32 149.92,186.62 147.17,183.32" fill="#00ffff"/><polygon points="153.32,181.14 156.07,184.44 153.32,187.74 150.57,184.44" fill="#00ffff"/><polygon points="156.72,182.23 159.47,185.53 156.72,188.83 153.97,185.53" fill="#00ffff"/><polygon points="160.12,183.29 162.87,186.59 160.12,189.89 157.37,186.59" fill="#00ffff"/><polygon points="163.52,184.31 166.27,187.61 163.52,190.91 160.77,187.61" fill="#00ffff"/><polygon points="166.92,185.29 169.67,188.59 166.92,191.89 164.17,188.59" fill="#00ffff"/><polygon points="170.32,186.21 173.07,189.51 170.32,192.81 167.57,189.51" fill="#00ffff"/><polygon points="173.72,187.08 176.47,190.38 173.72,193.68 170.97,190.38" fill="#00ffff"/><polygon points="177.12,187.91 179.87,191.21 177.12,194.51 174.37,191.21" fill="#00ffff"/><polygon points="180.52,188.69 183.27,191.99 180.52,195.29 177.77,191.99" fill="#00ffff"/><polygon points="183.92,189.44 186.67,192.74 183.92,196.04 181.17,192.74" fill="#00ffff"/><polygon points="187.32,190.16 190.07,193.46 187.32,196.76 184.57,193.46" fill="#00ffff"/><polygon points="190.73,190.85 193.48,194.15 190.73,197.45 187.98,194.15" fill="#00ffff"/><polygon points="194.13,191.50 196.88,194.80 194.13,198.10 191.38,194.80" fill="#00ffff"/><polygon points="197.53,192.12 200.28,195.42 197.53,198.72 194.78,195.42" fill="#00ffff"/><polygon points="200.93,192.74 203.68,196.04 200.93,199.34 198.18,196.04" fill="#00ffff"/><polygon points="204.33,193.39 207.08,196.69 204.33,199.99 201.58,196.69" fill="#00ffff"/><polygon points="207.73,194.05 210.48,197.35 207.73,200.65 204.98,197.35" fill="#00ffff"/><polygon points="211.13,194.69 213.88,197.99 211.13,201.29 208.38,197.99" fill="#00ffff"/><polygon points="214.53,195.30 217.28,198.60 214.53,201.90 211.78,198.60" fill="#00ffff"/><polygon points="217.93,195.85 220.68,199.15 217.93,202.45 215.18,199.15" fill="#00ffff"/><polygon points="221.33,196.32 224.08,199.62 221.33,202.92 218.58,199.62" fill="#00ffff"/><polygon points="224.73,196.73 227.48,200.03 224.73,203.33 221.98,200.03" fill="#00ffff"/><polygon points="228.13,197.09 230.88,200.39 228.13,203.69 225.38,200.39" fill="#00ffff"/><polygon points="231.53,197.42 234.28,200.72 231.53,204.02 228.78,200.72" fill="#00ffff"/><polygon points="234.94,197.73 237.69,201.03 234.94,204.33 232.19,201.03" fill="#00ffff"/><polygon points="238.34,198.04 241.09,201.34 238.34,204.64 235.59,201.34" fill="#00ffff"/><polygon points="241.74,198.34 244.49,201.64 241.74,204.94 238.99,201.64" fill="#00ffff"/><polygon points="245.14,198.66 247.89,201.96 245.14,205.26 242.39,201.96" fill="#00ffff"/><polygon points="248.54,199.00 251.29,202.30 248.54,205.60 245.79,202.30" fill="#00ffff"/><polygon points="251.94,199.38 254.69,202.68 251.94,205.98 249.19,202.68" fill="#00ffff"/><polygon points="255.34,199.80 258.09,203.10 255.34,206.40 252.59,203.10" fill="#00ffff"/><polygon points="258.74,200.29 261.49,203.59 258.74,206.89 255.99,203.59" fill="#00ffff"/><polygon points="262.14,200.89 264.89,204.19 262.14,207.49 259.39,204.19" fill="#00ffff"/><polygon points="265.54,201.62 268.29,204.92 265.54,208.22 262.79,204.92" fill="#00ffff"/><polygon points="268.94,202.41 271.69,205.71 268.94,209.01 266.19,205.71" fill="#00ffff"/><polygon points="272.34,203.22 275.09,206.52 272.34,209.82 269.59,206.52" fill="#00ffff"/><polygon points="275.74,204.07 278.49,207.37 275.74,210.67 272.99,207.37" fill="#00ffff"/><polygon points="279.14,204.94 281.89,208.24 279.14,211.54 276.39,208.24" fill="#00ffff"/><polygon points="282.55,205.81 285.30,209.11 282.55,212.41 279.80,209.11" fill="#00ffff"/><polygon points="285.95,206.67 288.70,209.97 285.95,213.27 283.20,209.97" fill="#00ffff"/><polygon points="289.35,207.48 292.10,210.78 289.35,214.08 286.60,210.78" fill="#00ffff"/><polygon points="292.75,208.23 295.50,211.53 292.75,214.83 290.00,211.53" fill="#00ffff"/><polygon points="296.15,208.94 298.90,212.24 296.15,215.54 293.40,212.24" fill="#00ffff"/><polygon points="299.55,209.66 302.30,212.96 299.55,216.26 296.80,212.96" fill="#00ffff"/><polygon points="302.95,210.44 305.70,213.74 302.95,217.04 300.20,213.74" fill="#00ffff"/><polygon points="306.35,211.31 309.10,214.61 306.35,217.91 303.60,214.61" fill="#00ffff"/><polygon points="309.75,212.25 312.50,215.55 309.75,218.85 307.00,215.55" fill="#00ffff"/><polygon points="313.15,213.25 315.90,216.55 313.15,219.85 310.40,216.55" fill="#00ffff"/><polygon points="316.55,214.31 319.30,217.61 316.55,220.91 313.80,217.61" fill="#00ffff"/><polygon points="319.95,215.44 322.70,218.74 319.95,222.04 317.20,218.74" fill="#00ffff"/><polygon points="323.35,216.63 326.10,219.93 323.35,223.23 320.60,219.93" fill="#00ffff"/><polygon points="326.75,217.91 329.50,221.21 326.75,224.51 324.00,221.21" fill="#00ffff"/><polygon points="330.16,219.26 332.91,222.56 330.16,225.86 327.41,222.56" fill="#00ffff"/><polygon points="333.56,220.71 336.31,224.01 333.56,227.31 330.81,224.01" fill="#00ffff"/><polygon points="336.96,222.27 339.71,225.57 336.96,228.87 334.21,225.57" fill="#00ffff"/><polygon points="340.36,223.96 343.11,227.26 340.36,230.56 337.61,227.26" fill="#00ffff"/><polygon points="343.76,225.77 346.51,229.07 343.76,232.37 341.01,229.07" fill="#00ffff"/><polygon points="347.16,227.70 349.91,231.00 347.16,234.30 344.41,231.00" fill="#00ffff"/><polygon points="350.56,229.73 353.31,233.03 350.56,236.33 347.81,233.03" fill="#00ffff"/><polygon points="353.96,231.84 356.71,235.14 353.96,238.44 351.21,235.14" fill="#00ffff"/><polygon points="357.36,234.02 360.11,237.32 357.36,240.62 354.61,237.32" fill="#00ffff"/><polygon points="360.76,236.28 363.51,239.58 360.76,242.88 358.01,239.58" fill="#00ffff"/><polygon points="364.16,238.63 366.91,241.93 364.16,245.23 361.41,241.93" fill="#00ffff"/><polygon points="367.56,241.08 370.31,244.38 367.56,247.68 364.81,244.38" fill="#00ffff"/><polygon points="370.96,243.66 373.71,246.96 370.96,250.26 368.21,246.96" fill="#00ffff"/><polygon points="374.36,246.32 377.11,249.62 374.36,252.92 371.61,249.62" fill="#00ffff"/><polygon points="377.76,249.07 380.51,252.37 377.76,255.67 375.01,252.37" fill="#00ffff"/><polygon points="381.17,251.90 383.92,255.20 381.17,258.50 378.42,255.20" fill="#00ffff"/><polygon points="384.57,254.78 387.32,258.08 384.57,261.38 381.82,258.08" fill="#00ffff"/><polygon points="387.97,257.68 390.72,260.98 387.97,264.28 385.22,260.98" fill="#00ffff"/><polygon points="391.37,260.59 394.12,263.89 391.37,267.19 388.62,263.89" fill="#00ffff"/><polygon points="394.77,263.55 397.52,266.85 394.77,270.15 392.02,266.85" fill="#00ffff"/><polygon points="398.17,266.55 400.92,269.85 398.17,273.15 395.42,269.85" fill="#00ffff"/><polygon points="401.57,269.56 404.32,272.86 401.57,276.16 398.82,272.86" fill="#00ffff"/><polygon points="404.97,272.60 407.72,275.90 404.97,279.20 402.22,275.90" fill="#00ffff"/><polygon points="408.37,275.71 411.12,279.01 408.37,282.31 405.62,279.01" fill="#00ffff"/><polygon points="411.77,278.91 414.52,282.21 411.77,285.51 409.02,282.21" fill="#00ffff"/><polygon points="415.17,282.21 417.92,285.51 415.17,288.81 412.42,285.51" fill="#00ffff"/><polygon points="418.57,285.60 421.32,288.90 418.57,292.20 415.82,288.90" fill="#00ffff"/><polygon points="421.97,289.07 424.72,292.37 421.97,295.67 419.22,292.37" fill="#00ffff"/><polygon points="425.37,292.65 428.12,295.95 425.37,299.25 422.62,295.95" fill="#00ffff"/><polygon points="428.78,296.30 431.53,299.60 428.78,302.90 426.03,299.60" fill="#00ffff"/><polygon points="432.18,299.99 434.93,303.29 432.18,306.59 429.43,303.29" fill="#00ffff"/><polygon points="435.58,303.54 438.33,306.84 435.58,310.14 432.83,306.84" fill="#00ffff"/><polygon points="438.98,307.25 441.73,310.55 438.98,313.85 436.23,310.55" fill="#00ffff"/><polygon points="442.38,311.56 445.13,314.86 442.38,318.16 439.63,314.86" fill="#00ffff"/><polygon points="445.78,316.83 448.53,320.13 445.78,323.43 443.03,320.13" fill="#00ffff"/><polygon points="449.18,323.03 451.93,326.33 449.18,329.63 446.43,326.33" fill="#00ffff"/><polygon points="452.58,329.79 455.33,333.09 452.58,336.39 449.83,333.09" fill="#00ffff"/><polygon points="455.98,334.97 458.73,338.27 455.98,341.57 453.23,338.27" fill="#00ffff"/><polygon points="459.38,339.31 462.13,342.61 459.38,345.91 456.63,342.61" fill="#00ffff"/><polygon points="462.78,342.84 465.53,346.14 462.78,349.44 460.03,346.14" fill="#00ffff"/><polygon points="466.18,345.79 468.93,349.09 466.18,352.39 463.43,349.09" fill="#00ffff"/><polygon points="469.58,348.30 472.33,351.60 469.58,354.90 466.83,351.60" fill="#00ffff"/><polygon points="472.99,350.47 475.74,353.77 472.99,357.07 470.24,353.77" fill="#00ffff"/><polygon points="476.39,352.25 479.14,355.55 476.39,358.85 473.64,355.55" fill="#00ffff"/><polygon points="479.79,353.73 482.54,357.03 479.79,360.33 477.04,357.03" fill="#00ffff"/><polygon points="483.19,354.95 485.94,358.25 483.19,361.55 480.44,358.25" fill="#00ffff"/><polygon points="486.59,355.77 489.34,359.07 486.59,362.37 483.84,359.07" fill="#00ffff"/><polygon points="489.99,356.51 492.74,359.81 489.99,363.11 487.24,359.81" fill="#00ffff"/><polygon points="493.39,357.17 496.14,360.47 493.39,363.77 490.64,360.47" fill="#00ffff"/><polygon points="496.79,357.79 499.54,361.09 496.79,364.39 494.04,361.09" fill="#00ffff"/><polygon points="500.19,358.29 502.94,361.59 500.19,364.89 497.44,361.59" fill="#00ffff"/><polygon points="503.59,358.52 506.34,361.82 503.59,365.12 500.84,361.82" fill="#00ffff"/><polygon points="506.99,358.88 509.74,362.18 506.99,365.48 504.24,362.18" fill="#00ffff"/><polygon points="510.39,359.12 513.14,362.42 510.39,365.72 507.64,362.42" fill="#00ffff"/></g>
<polyline fill="none" stroke="#ff00ff" stroke-width="1.2" points="102.31,43.70 105.71,61.62 109.11,87.70 112.51,110.10 115.91,131.06 119.31,148.98 122.71,164.98 126.11,172.02 129.51,174.90 132.91,176.85 136.31,178.42 139.72,179.79 143.12,181.01 146.52,182.17 149.92,183.32 153.32,184.44 156.72,185.53 160.12,186.59 163.52,187.61 166.92,188.59 170.32,189.51 173.72,190.39 177.12,191.21 180.52,192.00 183.92,192.76 187.32,193.48 190.73,194.18 194.13,194.84 197.53,195.47 200.93,196.10 204.33,196.75 207.73,197.41 211.13,198.06 214.53,198.67 217.93,199.23 221.33,199.71 224.73,200.12 228.13,200.49 231.53,200.83 234.94,201.15 238.34,201.46 241.74,201.78 245.14,202.10 248.54,202.45 251.94,202.83 255.34,203.25 258.74,203.75 262.14,204.33 265.54,205.06 268.94,205.84 272.34,206.65 275.74,207.50 279.14,208.37 282.55,209.25 285.95,210.13 289.35,210.98 292.75,211.78 296.15,212.58 299.55,213.41 302.95,214.31 306.35,215.29 309.75,216.33 313.15,217.42 316.55,218.56 319.95,219.75 323.35,220.98 326.75,222.28 330.16,223.66 333.56,225.15 336.96,226.76 340.36,228.52 343.76,230.40 347.16,232.38 350.56,234.43 353.96,236.53 357.36,238.69 360.76,240.93 364.16,243.25 367.56,245.65 370.96,248.13 374.36,250.67 377.76,253.29 381.17,255.98 384.57,258.70 387.97,261.44 391.37,264.19 394.77,266.97 398.17,269.77 401.57,272.60 404.97,275.45 408.37,278.36 411.77,281.34 415.17,284.40 418.57,287.52 421.97,290.69 425.37,293.95 428.78,297.30 432.18,300.71 435.58,304.17 438.98,307.54 442.38,311.10 445.78,315.13 449.18,319.85 452.58,325.47 455.98,332.07 459.38,337.62 462.78,342.11 466.18,345.70 469.58,348.68 472.99,351.17 476.39,353.29 479.79,355.12 483.19,356.64 486.59,357.74 489.99,358.67 493.39,359.49 496.79,360.18 500.19,360.73 503.59,361.23 506.99,361.69 510.39,361.99"/>
<g><polygon points="99.01,43.70 104.45,40.62 104.45,46.78" fill="#ff00ff"/><polygon points="102.41,61.62 107.85,58.54 107.85,64.70" fill="#ff00ff"/><polygon points="105.81,87.70 111.25,84.62 111.25,90.78" fill="#ff00ff"/><polygon points="109.21,110.10 114.65,107.02 114.65,113.18" fill="#ff00ff"/><polygon points="112.61,131.06 118.05,127.98 118.05,134.14" fill="#ff00ff"/><polygon points="116.01,148.98 121.46,145.90 121.46,152.06" fill="#ff00ff"/><polygon points="119.41,164.98 124.86,161.90 124.86,168.06" fill="#ff00ff"/><polygon points="122.81,172.02 128.26,168.94 128.26,175.10" fill="#ff00ff"/><polygon points="126.21,174.90 131.66,171.82 131.66,177.98" fill="#ff00ff"/><polygon points="129.61,176.85 135.06,173.77 135.06,179.93" fill="#ff00ff"/><polygon points="133.01,178.42 138.46,175.34 138.46,181.50" fill="#ff00ff"/><polygon points="136.41,179.79 141.86,176.71 141.86,182.87" fill="#ff00ff"/><polygon points="139.82,181.01 145.26,177.93 145.26,184.09" fill="#ff00ff"/><polygon points="143.22,182.17 148.66,179.09 148.66,185.25" fill="#ff00ff"/><polygon points="146.62,183.32 152.06,180.24 152.06,186.40" fill="#ff00ff"/><polygon points="150.02,184.44 155.46,181.36 155.46,187.52" fill="#ff00ff"/><polygon points="153.42,185.53 158.86,182.45 158.86,188.61" fill="#ff00ff"/><polygon points="156.82,186.59 162.26,183.51 162.26,189.67" fill="#ff00ff"/><polygon points="160.22,187.61 165.66,184.53 165.66,190.69" fill="#ff00ff"/><polygon points="163.62,188.59 169.07,185.51 169.07,191.67" fill="#ff00ff"/><polygon points="167.02,189.51 172.47,186.43 172.47,192.59" fill="#ff00ff"/><polygon points="170.42,190.39 175.87,187.31 175.87,193.47" fill="#ff00ff"/><polygon points="173.82,191.21 179.27,188.13 179.27,194.29" fill="#ff00ff"/><polygon points="177.22,192.00 182.67,188.92 182.67,195.08" fill="#ff00ff"/><polygon points="180.62,192.76 186.07,189.68 186.07,195.84" fill="#ff00ff"/><polygon points="184.02,193.48 189.47,190.40 189.47,196.56" fill="#ff00ff"/><polygon points="187.43,194.18 192.87,191.10 192.87,197.26" fill="#ff00ff"/><polygon points="190.83,194.84 196.27,191.76 196.27,197.92" fill="#ff00ff"/><polygon points="194.23,195.47 199.67,192.39 199.67,198.55" fill="#ff00ff"/><polygon points="197.63,196.10 203.07,193.02 203.07,199.18" fill="#ff00ff"/><polygon points="201.03,196.75 206.47,193.67 206.47,199.83" fill="#ff00ff"/><polygon points="204.43,197.41 209.87,194.33 209.87,200.49" fill="#ff00ff"/><polygon points="207.83,198.06 213.28,194.98 213.28,201.14" fill="#ff00ff"/><polygon points="211.23,198.67 216.68,195.59 216.68,201.75" fill="#ff00ff"/><polygon points="214.63,199.23 220.08,196.15 220.08,202.31" fill="#ff00ff"/><polygon points="218.03,199.71 223.48,196.63 223.48,202.79" fill="#ff00ff"/><polygon points="221.43,200.12 226.88,197.04 226.88,203.20" fill="#ff00ff"/><polygon points="224.83,200.49 230.28,197.41 230.28,203.57" fill="#ff00ff"/><polygon points="228.23,200.83 233.68,197.75 233.68,203.91" fill="#ff00ff"/><polygon points="231.63,201.15 237.08,198.07 237.08,204.23" fill="#ff00ff"/><polygon points="235.04,201.46 240.48,198.38 240.48,204.54" fill="#ff00ff"/><polygon points="238.44,201.78 243.88,198.70 243.88,204.86" fill="#ff00ff"/><polygon points="241.84,202.10 247.28,199.02 247.28,205.18" fill="#ff00ff"/><polygon points="245.24,202.45 250.68,199.37 250.68,205.53" fill="#ff00ff"/><polygon points="248.64,202.83 254.08,199.75 254.08,205.91" fill="#ff00ff"/><polygon points="252.04,203.25 257.48,200.17 257.48,206.33" fill="#ff00ff"/><polygon points="255.44,203.75 260.88,200.67 260.88,206.83" fill="#ff00ff"/><polygon points="258.84,204.33 264.29,201.25 264.29,207.41" fill="#ff00ff"/><polygon points="262.24,205.06 267.69,201.98 267.69,208.14" fill="#ff00ff"/><polygon points="265.64,205.84 271.09,202.76 271.09,208.92" fill="#ff00ff"/><polygon points="269.04,206.65 274.49,203.57 274.49,209.73" fill="#ff00ff"/><polygon points="272.44,207.50 277.89,204.42 277.89,210.58" fill="#ff00ff"/><polygon points="275.84,208.37 281.29,205.29 281.29,211.45" fill="#ff00ff"/><polygon points="279.25,209.25 284.69,206.17 284.69,212.33" fill="#ff00ff"/><polygon points="282.65,210.13 288.09,207.05 288.09,213.21" fill="#ff00ff"/><polygon points="286.05,210.98 291.49,207.90 291.49,214.06" fill="#ff00ff"/><polygon points="289.45,211.78 294.89,208.70 294.89,214.86" fill="#ff00ff"/><polygon points="292.85,212.58 298.29,209.50 298.29,215.66" fill="#ff00ff"/><polygon points="296.25,213.41 301.69,210.33 301.69,216.49" fill="#ff00ff"/><polygon points="299.65,214.31 305.09,211.23 305.09,217.39" fill="#ff00ff"/><polygon points="303.05,215.29 308.50,212.21 308.50,218.37" fill="#ff00ff"/><polygon points="306.45,216.33 311.90,213.25 311.90,219.41" fill="#ff00ff"/><polygon points="309.85,217.42 315.30,214.34 315.30,220.50" fill="#ff00ff"/><polygon points="313.25,218.56 318.70,215.48 318.70,221.64" fill="#ff00ff"/><polygon points="316.65,219.75 322.10,216.67 322.10,222.83" fill="#ff00ff"/><polygon points="320.05,220.98 325.50,217.90 325.50,224.06" fill="#ff00ff"/><polygon points="323.45,222.28 328.90,219.20 328.90,225.36" fill="#ff00ff"/><polygon points="326.86,223.66 332.30,220.58 332.30,226.74" fill="#ff00ff"/><polygon points="330.26,225.15 335.70,222.07 335.70,228.23" fill="#ff00ff"/><polygon points="333.66,226.76 339.10,223.68 339.10,229.84" fill="#ff00ff"/><polygon points="337.06,228.52 342.50,225.44 342.50,231.60" fill="#ff00ff"/><polygon points="340.46,230.40 345.90,227.32 345.90,233.48" fill="#ff00ff"/><polygon points="343.86,232.38 349.30,229.30 349.30,235.46" fill="#ff00ff"/><polygon points="347.26,234.43 352.70,231.35 352.70,237.51" fill="#ff00ff"/><polygon points="350.66,236.53 356.11,233.45 356.11,239.61" fill="#ff00ff"/><polygon points="354.06,238.69 359.51,235.61 359.51,241.77" fill="#ff00ff"/><polygon points="357.46,240.93 362.91,237.85 362.91,244.01" fill="#ff00ff"/><polygon points="360.86,243.25 366.31,240.17 366.31,246.33" fill="#ff00ff"/><polygon points="364.26,245.65 369.71,242.57 369.71,248.73" fill="#ff00ff"/><polygon points="367.66,248.13 373.11,245.05 373.11,251.21" fill="#ff00ff"/><polygon points="371.06,250.67 376.51,247.59 376.51,253.75" fill="#ff00ff"/><polygon points="374.46,253.29 379.91,250.21 379.91,256.37" fill="#ff00ff"/><polygon points="377.87,255.98 383.31,252.90 383.31,259.06" fill="#ff00ff"/><polygon points="381.27,258.70 386.71,255.62 386.71,261.78" fill="#ff00ff"/><polygon points="384.67,261.44 390.11,258.36 390.11,264.52" fill="#ff00ff"/><polygon points="388.07,264.19 393.51,261.11 393.51,267.27" fill="#ff00ff"/><polygon points="391.47,266.97 396.91,263.89 396.91,270.05" fill="#ff00ff"/><polygon points="394.87,269.77 400.31,266.69 400.31,272.85" fill="#ff00ff"/><polygon points="398.27,272.60 403.71,269.52 403.71,275.68" fill="#ff00ff"/><polygon points="401.67,275.45 407.12,272.37 407.12,278.53" fill="#ff00ff"/><polygon points="405.07,278.36 410.52,275.28 410.52,281.44" fill="#ff00ff"/><polygon points="408.47,281.34 413.92,278.26 413.92,284.42" fill="#ff00ff"/><polygon points="411.87,284.40 417.32,281.32 417.32,287.48" fill="#ff00ff"/><polygon points="415.27,287.52 420.72,284.44 420.72,290.60" fill="#ff00ff"/><polygon points="418.67,290.69 424.12,287.61 424.12,293.77" fill="#ff00ff"/><polygon points="422.07,293.95 427.52,290.87 427.52,297.03" fill="#ff00ff"/><polygon points="425.48,297.30 430.92,294.22 430.92,300.38" fill="#ff00ff"/><polygon points="428.88,300.71 434.32,297.63 434.32,303.79" fill="#ff00ff"/><polygon points="432.28,304.17 437.72,301.09 437.72,307.25" fill="#ff00ff"/><polygon points="435.68,307.54 441.12,304.46 441.12,310.62" fill="#ff00ff"/><polygon points="439.08,311.10 444.52,308.02 444.52,314.18" fill="#ff00ff"/><polygon points="442.48,315.13 447.92,312.05 447.92,318.21" fill="#ff00ff"/><polygon points="445.88,319.85 451.32,316.77 451.32,322.93" fill="#ff00ff"/><polygon points="449.28,325.47 454.73,322.39 454.73,328.55" fill="#ff00ff"/><polygon points="452.68,332.07 458.13,328.99 458.13,335.15" fill="#ff00ff"/><polygon points="456.08,337.62 461.53,334.54 461.53,340.70" fill="#ff00ff"/><polygon points="459.48,342.11 464.93,339.03 464.93,345.19" fill="#ff00ff"/><polygon points="462.88,345.70 468.33,342.62 468.33,348.78" fill="#ff00ff"/><polygon points="466.28,348.68 471.73,345.60 471.73,351.76" fill="#ff00ff"/><polygon points="469.69,351.17 475.13,348.09 475.13,354.25" fill="#ff00ff"/><polygon points="473.09,353.29 478.53,350.21 478.53,356.37" fill="#ff00ff"/><polygon points="476.49,355.12 481.93,352.04 481.93,358.20" fill="#ff00ff"/><polygon points="479.89,356.64 485.33,353.56 485.33,359.72" fill="#ff00ff"/><polygon points="483.29,357.74 488.73,354.66 488.73,360.82" fill="#ff00ff"/><polygon points="486.69,358.67 492.13,355.59 492.13,361.75" fill="#ff00ff"/><polygon points="490.09,359.49 495.53,356.41 495.53,362.57" fill="#ff00ff"/><polygon points="493.49,360.18 498.94,357.10 498.94,363.26" fill="#ff00ff"/><polygon points="496.89,360.73 502.34,357.65 502.34,363.81" fill="#ff00ff"/><polygon points="500.29,361.23 505.74,358.15 505.74,364.31" fill="#ff00ff"/><polygon points="503.69,361.69 509.14,358.61 509.14,364.77" fill="#ff00ff"/><polygon points="507.09,361.99 512.54,358.91 512.54,365.07" fill="#ff00ff"/></g>
<polyline fill="none" stroke="#ffff00" stroke-width="1.2" points="102.31,43.70 105.71,61.62 109.11,87.70 112.51,110.10 115.91,131.06 119.31,148.98 122.71,164.98 126.11,172.02 129.51,174.90 132.91,176.85 136.31,178.42 139.72,179.79 143.12,181.01 146.52,182.17 149.92,183.32 153.32,184.44 156.72,185.53 160.12,186.59 163.52,187.61 166.92,188.58 170.32,189.51 173.72,190.39 177.12,191.22 180.52,192.01 183.92,192.77 187.32,193.50 190.73,194.21 194.13,194.88 197.53,195.52 200.93,196.16 204.33,196.82 207.73,197.48 211.13,198.13 214.53,198.75 217.93,199.31 221.33,199.79 224.73,200.22 228.13,200.60 231.53,200.95 234.94,201.28 238.34,201.60 241.74,201.92 245.14,202.24 248.54,202.59 251.94,202.97 255.34,203.40 258.74,203.89 262.14,204.47 265.54,205.19 268.94,205.97 272.34,206.78 275.74,207.63 279.14,208.50 282.55,209.40 285.95,210.31 289.35,211.21 292.75,212.10 296.15,213.01 299.55,213.98 302.95,215.01 306.35,216.09 309.75,217.21 313.15,218.37 316.55,219.56 319.95,220.77 323.35,222.03 326.75,223.35 330.16,224.76 333.56,226.29 336.96,227.99 340.36,229.82 343.76,231.75 347.16,233.76 350.56,235.80 353.96,237.87 357.36,240.01 360.76,242.22 364.16,244.49 367.56,246.81 370.96,249.19 374.36,251.62 377.76,254.12 381.17,256.68 384.57,259.26 387.97,261.85 391.37,264.45 394.77,267.06 398.17,269.70 401.57,272.37 404.97,275.05 408.37,277.78 411.77,280.58 415.17,283.43 418.57,286.34 421.97,289.27 425.37,292.25 428.78,295.32 432.18,298.47 435.58,301.70 438.98,304.95 442.38,308.19 445.78,311.59 449.18,315.35 452.58,319.63 455.98,324.71 459.38,330.98 462.78,336.93 466.18,341.59 469.58,345.28 472.99,348.27 476.39,350.77 479.79,352.85 483.19,354.68 486.59,356.13 489.99,357.37 493.39,358.41 496.79,359.29 500.19,360.01 503.59,360.64 506.99,361.19 510.39,361.57"/>
<g><polygon points="105.61,43.70 100.16,40.62 100.16,46.78" fill="#ffff00"/><polygon points="109.01,61.62 103.56,58.54 103.56,64.70" fill="#ffff00"/><polygon points="112.41,87.70 106.96,84.62 106.96,90.78" fill="#ffff00"/><polygon points="115.81,110.10 110.36,107.02 110.36,113.18" fill="#ffff00"/><polygon points="119.21,131.06 113.77,127.98 113.77,134.14" fill="#ffff00"/><polygon points="122.61,148.98 117.17,145.90 117.17,152.06" fill="#ffff00"/><polygon points="126.01,164.98 120.57,161.90 120.57,168.06" fill="#ffff00"/><polygon points="129.41,172.02 123.97,168.94 123.97,175.10" fill="#ffff00"/><polygon points="132.81,174.90 127.37,171.82 127.37,177.98" fill="#ffff00"/><polygon points="136.21,176.85 130.77,173.77 130.77,179.93" fill="#ffff00"/><polygon points="139.61,178.42 134.17,175.34 134.17,181.50" fill="#ffff00"/><polygon points="143.02,179.79 137.57,176.71 137.57,182.87" fill="#ffff00"/><polygon points="146.42,181.01 140.97,177.93 140.97,184.09" fill="#ffff00"/><polygon points="149.82,182.17 144.37,179.09 144.37,185.25" fill="#ffff00"/><polygon points="153.22,183.32 147.77,180.24 147.77,186.40" fill="#ffff00"/><polygon points="156.62,184.44 151.17,181.36 151.17,187.52" fill="#ffff00"/><polygon points="160.02,185.53 154.57,182.45 154.57,188.61" fill="#ffff00"/><polygon points="163.42,186.59 157.97,183.51 157.97,189.67" fill="#ffff00"/><polygon points="166.82,187.61 161.37,184.53 161.37,190.69" fill="#ffff00"/><polygon points="170.22,188.58 164.78,185.50 164.78,191.66" fill="#ffff00"/><polygon points="173.62,189.51 168.18,186.43 168.18,192.59" fill="#ffff00"/><polygon points="177.02,190.39 171.58,187.31 171.58,193.47" fill="#ffff00"/><polygon points="180.42,191.22 174.98,188.14 174.98,194.30" fill="#ffff00"/><polygon points="183.82,192.01 178.38,188.93 178.38,195.09" fill="#ffff00"/><polygon points="187.22,192.77 181.78,189.69 181.78,195.85" fill="#ffff00"/><polygon points="190.62,193.50 185.18,190.42 185.18,196.58" fill="#ffff00"/><polygon points="194.03,194.21 188.58,191.13 188.58,197.29" fill="#ffff00"/><polygon points="197.43,194.88 191.98,191.80 191.98,197.96" fill="#ffff00"/><polygon points="200.83,195.52 195.38,192.44 195.38,198.60" fill="#ffff00"/><polygon points="204.23,196.16 198.78,193.08 198.78,199.24" fill="#ffff00"/><polygon points="207.63,196.82 202.18,193.74 202.18,199.90" fill="#ffff00"/><polygon points="211.03,197.48 205.58,194.40 205.58,200.56" fill="#ffff00"/><polygon points="214.43,198.13 208.98,195.05 208.98,201.21" fill="#ffff00"/><polygon points="217.83,198.75 212.39,195.67 212.39,201.83" fill="#ffff00"/><polygon points="221.23,199.31 215.79,196.23 215.79,202.39" fill="#ffff00"/><polygon points="224.63,199.79 219.19,196.71 219.19,202.87" fill="#ffff00"/><polygon points="228.03,200.22 222.59,197.14 222.59,203.30" fill="#ffff00"/><polygon points="231.43,200.60 225.99,197.52 225.99,203.68" fill="#ffff00"/><polygon points="234.83,200.95 229.39,197.87 229.39,204.03" fill="#ffff00"/><polygon points="238.24,201.28 232.79,198.20 232.79,204.36" fill="#ffff00"/><polygon points="241.64,201.60 236.19,198.52 236.19,204.68" fill="#ffff00"/><polygon points="245.04,201.92 239.59,198.84 239.59,205.00" fill="#ffff00"/><polygon points="248.44,202.24 242.99,199.16 242.99,205.32" fill="#ffff00"/><polygon points="251.84,202.59 246.39,199.51 246.39,205.67" fill="#ffff00"/><polygon points="255.24,202.97 249.79,199.89 249.79,206.05" fill="#ffff00"/><polygon points="258.64,203.40 253.19,200.32 253.19,206.48" fill="#ffff00"/><polygon points="262.04,203.89 256.60,200.81 256.60,206.97" fill="#ffff00"/><polygon points="265.44,204.47 260.00,201.39 260.00,207.55" fill="#ffff00"/><polygon points="268.84,205.19 263.40,202.11 263.40,208.27" fill="#ffff00"/><polygon points="272.24,205.97 266.80,202.89 266.80,209.05" fill="#ffff00"/><polygon points="275.64,206.78 270.20,203.70 270.20,209.86" fill="#ffff00"/><polygon points="279.04,207.63 273.60,204.55 273.60,210.71" fill="#ffff00"/><polygon points="282.44,208.50 277.00,205.42 277.00,211.58" fill="#ffff00"/><polygon points="285.85,209.40 280.40,206.32 280.40,212.48" fill="#ffff00"/><polygon points="289.25,210.31 283.80,207.23 283.80,213.39" fill="#ffff00"/><polygon points="292.65,211.21 287.20,208.13 287.20,214.29" fill="#ffff00"/><polygon points="296.05,212.10 290.60,209.02 290.60,215.18" fill="#ffff00"/><polygon points="299.45,213.01 294.00,209.93 294.00,216.09" fill="#ffff00"/><polygon points="302.85,213.98 297.40,210.90 297.40,217.06" fill="#ffff00"/><polygon points="306.25,215.01 300.80,211.93 300.80,218.09" fill="#ffff00"/><polygon points="309.65,216.09 304.21,213.01 304.21,219.17" fill="#ffff00"/><polygon points="313.05,217.21 307.61,214.13 307.61,220.29" fill="#ffff00"/><polygon points="316.45,218.37 311.01,215.29 311.01,221.45" fill="#ffff00"/><polygon points="319.85,219.56 314.41,216.48 314.41,222.64" fill="#ffff00"/><polygon points="323.25,220.77 317.81,217.69 317.81,223.85" fill="#ffff00"/><polygon points="326.65,222.03 321.21,218.95 321.21,225.11" fill="#ffff00"/><polygon points="330.05,223.35 324.61,220.27 324.61,226.43" fill="#ffff00"/><polygon points="333.46,224.76 328.01,221.68 328.01,227.84" fill="#ffff00"/><polygon points="336.86,226.29 331.41,223.21 331.41,229.37" fill="#ffff00"/><polygon points="340.26,227.99 334.81,224.91 334.81,231.07" fill="#ffff00"/><polygon points="343.66,229.82 338.21,226.74 338.21,232.90" fill="#ffff00"/><polygon points="347.06,231.75 341.61,228.67 341.61,234.83" fill="#ffff00"/><polygon points="350.46,233.76 345.01,230.68 345.01,236.84" fill="#ffff00"/><polygon points="353.86,235.80 348.41,232.72 348.41,238.88" fill="#ffff00"/><polygon points="357.26,237.87 351.82,234.79 351.82,240.95" fill="#ffff00"/><polygon points="360.66,240.01 355.22,236.93 355.22,243.09" fill="#ffff00"/><polygon points="364.06,242.22 358.62,239.14 358.62,245.30" fill="#ffff00"/><polygon points="367.46,244.49 362.02,241.41 362.02,247.57" fill="#ffff00"/><polygon points="370.86,246.81 365.42,243.73 365.42,249.89" fill="#ffff00"/><polygon points="374.26,249.19 368.82,246.11 368.82,252.27" fill="#ffff00"/><polygon points="377.66,251.62 372.22,248.54 372.22,254.70" fill="#ffff00"/><polygon points="381.06,254.12 375.62,251.04 375.62,257.20" fill="#ffff00"/><polygon points="384.47,256.68 379.02,253.60 379.02,259.76" fill="#ffff00"/><polygon points="387.87,259.26 382.42,256.18 382.42,262.34" fill="#ffff00"/><polygon points="391.27,261.85 385.82,258.77 385.82,264.93" fill="#ffff00"/><polygon points="394.67,264.45 389.22,261.37 389.22,267.53" fill="#ffff00"/><polygon points="398.07,267.06 392.62,263.98 392.62,270.14" fill="#ffff00"/><polygon points="401.47,269.70 396.02,266.62 396.02,272.78" fill="#ffff00"/><polygon points="404.87,272.37 399.43,269.29 399.43,275.45" fill="#ffff00"/><polygon points="408.27,275.05 402.83,271.97 402.83,278.13" fill="#ffff00"/><polygon points="411.67,277.78 406.23,274.70 406.23,280.86" fill="#ffff00"/><polygon points="415.07,280.58 409.63,277.50 409.63,283.66" fill="#ffff00"/><polygon points="418.47,283.43 413.03,280.35 413.03,286.51" fill="#ffff00"/><polygon points="421.87,286.34 416.43,283.26 416.43,289.42" fill="#ffff00"/><polygon points="425.27,289.27 419.83,286.19 419.83,292.35" fill="#ffff00"/><polygon points="428.67,292.25 423.23,289.17 423.23,295.33" fill="#ffff00"/><polygon points="432.08,295.32 426.63,292.24 426.63,298.40" fill="#ffff00"/><polygon points="435.48,298.47 430.03,295.39 430.03,301.55" fill="#ffff00"/><polygon points="438.88,301.70 433.43,298.62 433.43,304.78" fill="#ffff00"/><polygon points="442.28,304.95 436.83,301.87 436.83,308.03" fill="#ffff00"/><polygon points="445.68,308.19 440.23,305.11 440.23,311.27" fill="#ffff00"/><polygon points="449.08,311.59 443.63,308.51 443.63,314.67" fill="#ffff00"/><polygon points="452.48,315.35 447.04,312.27 447.04,318.43" fill="#ffff00"/><polygon points="455.88,319.63 450.44,316.55 450.44,322.71" fill="#ffff00"/><polygon points="459.28,324.71 453.84,321.63 453.84,327.79" fill="#ffff00"/><polygon points="462.68,330.98 457.24,327.90 457.24,334.06" fill="#ffff00"/><polygon points="466.08,336.93 460.64,333.85 460.64,340.01" fill="#ffff00"/><polygon points="469.48,341.59 464.04,338.51 464.04,344.67" fill="#ffff00"/><polygon points="472.88,345.28 467.44,342.20 467.44,348.36" fill="#ffff00"/><polygon points="476.29,348.27 470.84,345.19 470.84,351.35" fill="#ffff00"/><polygon points="479.69,350.77 474.24,347.69 474.24,353.85" fill="#ffff00"/><polygon points="483.09,352.85 477.64,349.77 477.64,355.93" fill="#ffff00"/><polygon points="486.49,354.68 481.04,351.60 481.04,357.76" fill="#ffff00"/><polygon points="489.89,356.13 484.44,353.05 484.44,359.21" fill="#ffff00"/><polygon points="493.29,357.37 487.84,354.29 487.84,360.45" fill="#ffff00"/><polygon points="496.69,358.41 491.24,355.33 491.24,361.49" fill="#ffff00"/><polygon points="500.09,359.29 494.65,356.21 494.65,362.37" fill="#ffff00"/><polygon points="503.49,360.01 498.05,356.93 498.05,363.09" fill="#ffff00"/><polygon points="506.89,360.64 501.45,357.56 501.45,363.72" fill="#ffff00"/><polygon points="510.29,361.19 504.85,358.11 504.85,364.27" fill="#ffff00"/><polygon points="513.69,361.57 508.25,358.49 508.25,364.65" fill="#ffff00"/></g>
<polyline fill="none" stroke="#808000" stroke-width="1.2" points="102.31,43.70 105.71,61.62 109.11,87.70 112.51,110.10 115.91,131.06 119.31,148.98 122.71,164.98 126.11,172.02 129.51,174.90 132.91,176.85 136.31,178.42 139.72,179.79 143.12,181.01 146.52,182.17 149.92,183.31 153.32,184.43 156.72,185.52 160.12,186.58 163.52,187.60 166.92,188.58 170.32,189.51 173.72,190.39 177.12,191.23 180.52,192.02 183.92,192.79 187.32,193.52 190.73,194.24 194.13,194.92 197.53,195.57 200.93,196.21 204.33,196.88 207.73,197.55 211.13,198.20 214.53,198.82 217.93,199.39 221.33,199.89 224.73,200.33 228.13,200.72 231.53,201.08 234.94,201.41 238.34,201.73 241.74,202.05 245.14,202.38 248.54,202.73 251.94,203.12 255.34,203.54 258.74,204.02 262.14,204.60 265.54,205.32 268.94,206.10 272.34,206.91 275.74,207.75 279.14,208.64 282.55,209.56 285.95,210.52 289.35,211.50 292.75,212.52 296.15,213.58 299.55,214.69 302.95,215.83 306.35,216.99 309.75,218.18 313.15,219.38 316.55,220.57 319.95,221.79 323.35,223.05 326.75,224.40 330.16,225.86 333.56,227.48 336.96,229.26 340.36,231.15 343.76,233.11 347.16,235.10 350.56,237.11 353.96,239.16 357.36,241.27 360.76,243.43 364.16,245.64 367.56,247.87 370.96,250.15 374.36,252.48 377.76,254.87 381.17,257.31 384.57,259.76 387.97,262.23 391.37,264.68 394.77,267.15 398.17,269.64 401.57,272.16 404.97,274.70 408.37,277.27 411.77,279.90 415.17,282.58 418.57,285.30 421.97,288.04 425.37,290.80 428.78,293.62 432.18,296.53 435.58,299.51 438.98,302.58 442.38,305.67 445.78,308.78 449.18,312.03 452.58,315.54 455.98,319.44 459.38,324.05 462.78,329.92 466.18,336.18 469.58,341.05 472.99,344.85 476.39,347.87 479.79,350.39 483.19,352.44 486.59,354.24 489.99,355.84 493.39,357.21 496.79,358.32 500.19,359.24 503.59,360.05 506.99,360.70 510.39,361.14"/>
<g><circle cx="102.31" cy="43.70" r="2.86" fill="#808000"/><circle cx="105.71" cy="61.62" r="2.86" fill="#808000"/><circle cx="109.11" cy="87.70" r="2.86" fill="#808000"/><circle cx="112.51" cy="110.10" r="2.86" fill="#808000"/><circle cx="115.91" cy="131.06" r="2.86" fill="#808000"/><circle cx="119.31" cy="148.98" r="2.86" fill="#808000"/><circle cx="122.71" cy="164.98" r="2.86" fill="#808000"/><circle cx="126.11" cy="172.02" r="2.86" fill="#808000"/><circle cx="129.51" cy="174.90" r="2.86" fill="#808000"/><circle cx="132.91" cy="176.85" r="2.86" fill="#808000"/><circle cx="136.31" cy="178.42" r="2.86" fill="#808000"/><circle cx="139.72" cy="179.79" r="2.86" fill="#808000"/><circle cx="143.12" cy="181.01" r="2.86" fill="#808000"/><circle cx="146.52" cy="182.17" r="2.86" fill="#808000"/><circle cx="149.92" cy="183.31" r="2.86" fill="#808000"/><circle cx="153.32" cy="184.43" r="2.86" fill="#808000"/><circle cx="156.72" cy="185.52" r="2.86" fill="#808000"/><circle cx="160.12" cy="186.58" r="2.86" fill="#808000"/><circle cx="163.52" cy="187.60" r="2.86" fill="#808000"/><circle cx="166.92" cy="188.58" r="2.86" fill="#808000"/><circle cx="170.32" cy="189.51" r="2.86" fill="#808000"/><circle cx="173.72" cy="190.39" r="2.86" fill="#808000"/><circle cx="177.12" cy="191.23" r="2.86" fill="#808000"/><circle cx="180.52" cy="192.02" r="2.86" fill="#808000"/><circle cx="183.92" cy="192.79" r="2.86" fill="#808000"/><circle cx="187.32" cy="193.52" r="2.86" fill="#808000"/><circle cx="190.73" cy="194.24" r="2.86" fill="#808000"/><circle cx="194.13" cy="194.92" r="2.86" fill="#808000"/><circle cx="197.53" cy="195.57" r="2.86" fill="#808000"/><circle cx="200.93" cy="196.21" r="2.86" fill="#808000"/><circle cx="204.33" cy="196.88" r="2.86" fill="#808000"/><circle cx="207.73" cy="197.55" r="2.86" fill="#808000"/><circle cx="211.13" cy="198.20" r="2.86" fill="#808000"/><circle cx="214.53" cy="198.82" r="2.86" fill="#808000"/><circle cx="217.93" cy="199.39" r="2.86" fill="#808000"/><circle cx="221.33" cy="199.89" r="2.86" fill="#808000"/><circle cx="224.73" cy="200.33" r="2.86" fill="#808000"/><circle cx="228.13" cy="200.72" r="2.86" fill="#808000"/><circle cx="231.53" cy="201.08" r="2.86" fill="#808000"/><circle cx="234.94" cy="201.41" r="2.86" fill="#808000"/><circle cx="238.34" cy="201.73" r="2.86" fill="#808000"/><circle cx="241.74" cy="202.05" r="2.86" fill="#808000"/><circle cx="245.14" cy="202.38" r="2.86" fill="#808000"/><circle cx="248.54" cy="202.73" r="2.86" fill="#808000"/><circle cx="251.94" cy="203.12" r="2.86" fill="#808000"/><circle cx="255.34" cy="203.54" r="2.86" fill="#808000"/><circle cx="258.74" cy="204.02" r="2.86" fill="#808000"/><circle cx="262.14" cy="204.60" r="2.86" fill="#808000"/><circle cx="265.54" cy="205.32" r="2.86" fill="#808000"/><circle cx="268.94" cy="206.10" r="2.86" fill="#808000"/><circle cx="272.34" cy="206.91" r="2.86" fill="#808000"/><circle cx="275.74" cy="207.75" r="2.86" fill="#808000"/><circle cx="279.14" cy="208.64" r="2.86" fill="#808000"/><circle cx="282.55" cy="209.56" r="2.86" fill="#808000"/><circle cx="285.95" cy="210.52" r="2.86" fill="#808000"/><circle cx="289.35" cy="211.50" r="2.86" fill="#808000"/><circle cx="292.75" cy="212.52" r="2.86" fill="#808000"/><circle cx="296.15" cy="213.58" r="2.86" fill="#808000"/><circle cx="299.55" cy="214.69" r="2.86" fill="#808000"/><circle cx="302.95" cy="215.83" r="2.86" fill="#808000"/><circle cx="306.35" cy="216.99" r="2.86" fill="#808000"/><circle cx="309.75" cy="218.18" r="2.86" fill="#808000"/><circle cx="313.15" cy="219.38" r="2.86" fill="#808000"/><circle cx="316.55" cy="220.57" r="2.86" fill="#808000"/><circle cx="319.95" cy="221.79" r="2.86" fill="#808000"/><circle cx="323.35" cy="223.05" r="2.86" fill="#808000"/><circle cx="326.75" cy="224.40" r="2.86" fill="#808000"/><circle cx="330.16" cy="225.86" r="2.86" fill="#808000"/><circle cx="333.56" cy="227.48" r="2.86" fill="#808000"/><circle cx="336.96" cy="229.26" r="2.86" fill="#808000"/><circle cx="340.36" cy="231.15" r="2.86" fill="#808000"/><circle cx="343.76" cy="233.11" r="2.86" fill="#808000"/><circle cx="347.16" cy="235.10" r="2.86" fill="#808000"/><circle cx="350.56" cy="237.11" r="2.86" fill="#808000"/><circle cx="353.96" cy="239.16" r="2.86" fill="#808000"/><circle cx="357.36" cy="241.27" r="2.86" fill="#808000"/><circle cx="360.76" cy="243.43" r="2.86" fill="#808000"/><circle cx="364.16" cy="245.64" r="2.86" fill="#808000"/><circle cx="367.56" cy="247.87" r="2.86" fill="#808000"/><circle cx="370.96" cy="250.15" r="2.86" fill="#808000"/><circle cx="374.36" cy="252.48" r="2.86" fill="#808000"/><circle cx="377.76" cy="254.87" r="2.86" fill="#808000"/><circle cx="381.17" cy="257.31" r="2.86" fill="#808000"/><circle cx="384.57" cy="259.76" r="2.86" fill="#808000"/><circle cx="387.97" cy="262.23" r="2.86" fill="#808000"/><circle cx="391.37" cy="264.68" r="2.86" fill="#808000"/><circle cx="394.77" cy="267.15" r="2.86" fill="#808000"/><circle cx="398.17" cy="269.64" r="2.86" fill="#808000"/><circle cx="401.57" cy="272.16" r="2.86" fill="#808000"/><circle cx="404.97" cy="274.70" r="2.86" fill="#808000"/><circle cx="408.37" cy="277.27" r="2.86" fill="#808000"/><circle cx="411.77" cy="279.90" r="2.86" fill="#808000"/><circle cx="415.17" cy="282.58" r="2.86" fill="#808000"/><circle cx="418.57" cy="285.30" r="2.86" fill="#808000"/><circle cx="421.97" cy="288.04" r="2.86" fill="#808000"/><circle cx="425.37" cy="290.80" r="2.86" fill="#808000"/><circle cx="428.78" cy="293.62" r="2.86" fill="#808000"/><circle cx="432.18" cy="296.53" r="2.86" fill="#808000"/><circle cx="435.58" cy="299.51" r="2.86" fill="#808000"/><circle cx="438.98" cy="302.58" r="2.86" fill="#808000"/><circle cx="442.38" cy="305.67" r="2.86" fill="#808000"/><circle cx="445.78" cy="308.78" r="2.86" fill="#808000"/><circle cx="449.18" cy="312.03" r="2.86" fill="#808000"/><circle cx="452.58" cy="315.54" r="2.86" fill="#808000"/><circle cx="455.98" cy="319.44" r="2.86" fill="#808000"/><circle cx="459.38" cy="324.05" r="2.86" fill="#808000"/><circle cx="462.78" cy="329.92" r="2.86" fill="#808000"/><circle cx="466.18" cy="336.18" r="2.86" fill="#808000"/><circle cx="469.58" cy="341.05" r="2.86" fill="#808000"/><circle cx="472.99" cy="344.85" r="2.86" fill="#808000"/><circle cx="476.39" cy="347.87" r="2.86" fill="#808000"/><circle cx="479.79" cy="350.39" r="2.86" fill="#808000"/><circle cx="483.19" cy="352.44" r="2.86" fill="#808000"/><circle cx="486.59" cy="354.24" r="2.86" fill="#808000"/><circle cx="489.99" cy="355.84" r="2.86" fill="#808000"/><circle cx="493.39" cy="357.21" r="2.86" fill="#808000"/><circle cx="496.79" cy="358.32" r="2.86" fill="#808000"/><circle cx="500.19" cy="359.24" r="2.86" fill="#808000"/><circle cx="503.59" cy="360.05" r="2.86" fill="#808000"/><circle cx="506.99" cy="360.70" r="2.86" fill="#808000"/><circle cx="510.39" cy="361.14" r="2.86" fill="#808000"/></g>
<rect x="68.3" y="11.7" width="476.09999999999997" height="384.0" fill="none" stroke="#000" stroke-width="1.5"/>
<path d="M61.00 395.70H68.30M64.10 379.70H68.30M61.00 363.70H68.30M64.10 347.70H68.30M61.00 331.70H68.30M64.10 315.70H68.30M61.00 299.70H68.30M64.10 283.70H68.30M61.00 267.70H68.30M64.10 251.70H68.30M61.00 235.70H68.30M64.10 219.70H68.30M61.00 203.70H68.30M64.10 187.70H68.30M61.00 171.70H68.30M64.10 155.70H68.30M61.00 139.70H68.30M64.10 123.70H68.30M61.00 107.70H68.30M64.10 91.70H68.30M61.00 75.70H68.30M64.10 59.70H68.30M61.00 43.70H68.30M64.10 27.70H68.30M61.00 11.70H68.30M68.30 395.70V399.90M102.31 395.70V403.20M136.31 395.70V399.90M170.32 395.70V403.20M204.33 395.70V399.90M238.34 395.70V403.20M272.34 395.70V399.90M306.35 395.70V403.20M340.36 395.70V399.90M374.36 395.70V403.20M408.37 395.70V399.90M442.38 395.70V403.20M476.39 395.70V399.90M510.39 395.70V403.20M544.40 395.70V399.90" stroke="#000" stroke-width="1.5" fill="none"/>
<g font-family="Liberation Sans, Arial, sans-serif" stroke="#000" stroke-width="0.3" font-size="16" fill="#000">
<text x="56" y="401.40" text-anchor="end">−12</text>
<text x="56" y="369.40" text-anchor="end">−10</text>
<text x="56" y="337.40" text-anchor="end">−8</text>
<text x="56" y="305.40" text-anchor="end">−6</text>
<text x="56" y="273.40" text-anchor="end">−4</text>
<text x="56" y="241.40" text-anchor="end">−2</text>
<text x="56" y="209.40" text-anchor="end">0</text>
<text x="56" y="177.40" text-anchor="end">2</text>
<text x="56" y="145.40" text-anchor="end">4</text>
<text x="56" y="113.40" text-anchor="end">6</text>
<text x="56" y="81.40" text-anchor="end">8</text>
<text x="56" y="49.40" text-anchor="end">10</text>
<text x="56" y="17.40" text-anchor="end">12</text>
<text x="102.31" y="421.3" text-anchor="middle">0</text>
<text x="170.32" y="421.3" text-anchor="middle">200</text>
<text x="238.34" y="421.3" text-anchor="middle">400</text>
<text x="306.35" y="421.3" text-anchor="middle">600</text>
<text x="374.36" y="421.3" text-anchor="middle">800</text>
<text x="442.38" y="421.3" text-anchor="middle">1000</text>
<text x="510.39" y="421.3" text-anchor="middle">1200</text>
</g>
<text x="306" y="451.2" text-anchor="middle" font-family="Liberation Sans, Arial, sans-serif" stroke="#000" stroke-width="0.3" font-size="19.8">time(min)</text>
<text transform="translate(19.7,204.3) rotate(-90)" text-anchor="middle" font-family="Liberation Sans, Noto Serif CJK SC, serif" stroke="#000" stroke-width="0.3" font-size="19.5">t(<tspan font-family="Noto Serif CJK SC, Noto Sans CJK SC, serif" stroke="none">℃</tspan>)</text>
<line x1="150.7" y1="24.5" x2="192.2" y2="24.5" stroke="#787878" stroke-width="1.2"/>
<rect x="168.95" y="22.00" width="5.00" height="5.00" fill="#787878"/>
<text x="197.5" y="31.00" font-family="Liberation Sans, Arial, sans-serif" stroke="#000" stroke-width="0.3" font-size="18.3">No Fin</text>
<text x="151.3" y="56.4" font-family="Liberation Sans, Arial, sans-serif" stroke="#000" stroke-width="0.3" font-size="18.3">A=7mm<tspan font-size="12.5" dy="-7.3">2</tspan></text>
<line x1="150.7" y1="72.3" x2="192.2" y2="72.3" stroke="#ff1a1a" stroke-width="1.2"/>
<circle cx="171.45" cy="72.30" r="2.86" fill="#ff1a1a"/>
<text x="197.5" y="78.20" font-family="Liberation Sans, Arial, sans-serif" stroke="#000" stroke-width="0.3" font-size="18.3">a=20mm</text>
<line x1="150.7" y1="94.8" x2="192.2" y2="94.8" stroke="#0000ff" stroke-width="1.2"/>
<polygon points="171.45,98.10 168.37,92.66 174.53,92.66" fill="#0000ff"/>
<text x="197.5" y="100.70" font-family="Liberation Sans, Arial, sans-serif" stroke="#000" stroke-width="0.3" font-size="18.3">a=30mm</text>
<line x1="150.7" y1="117.3" x2="192.2" y2="117.3" stroke="#ff00ff" stroke-width="1.2"/>
<polygon points="168.15,117.30 173.59,114.22 173.59,120.38" fill="#ff00ff"/>
<text x="197.5" y="123.20" font-family="Liberation Sans, Arial, sans-serif" stroke="#000" stroke-width="0.3" font-size="18.3">a=40mm</text>
<line x1="150.7" y1="139.7" x2="192.2" y2="139.7" stroke="#808000" stroke-width="1.2"/>
<circle cx="171.45" cy="139.70" r="2.86" fill="#808000"/>
<text x="197.5" y="145.60" font-family="Liberation Sans, Arial, sans-serif" stroke="#000" stroke-width="0.3" font-size="18.3">a=50mm</text>
<line x1="278.9" y1="72.3" x2="320.1" y2="72.3" stroke="#00ff00" stroke-width="1.2"/>
<polygon points="299.50,69.00 296.42,74.44 302.58,74.44" fill="#00ff00"/>
<text x="324.8" y="78.20" font-family="Liberation Sans, Arial, sans-serif" stroke="#000" stroke-width="0.3" font-size="18.3">a=25mm</text>
<line x1="278.9" y1="94.8" x2="320.1" y2="94.8" stroke="#00ffff" stroke-width="1.2"/>
<polygon points="299.50,91.50 302.25,94.80 299.50,98.10 296.75,94.80" fill="#00ffff"/>
<text x="324.8" y="100.70" font-family="Liberation Sans, Arial, sans-serif" stroke="#000" stroke-width="0.3" font-size="18.3">a=35mm</text>
<line x1="278.9" y1="117.3" x2="320.1" y2="117.3" stroke="#ffff00" stroke-width="1.2"/>
<polygon points="302.80,117.30 297.36,114.22 297.36,120.38" fill="#ffff00"/>
<text x="324.8" y="123.20" font-family="Liberation Sans, Arial, sans-serif" stroke="#000" stroke-width="0.3" font-size="18.3">a=45mm</text>
<ellipse cx="127.7" cy="169.5" rx="10" ry="12.7" fill="none" stroke="#000" stroke-width="1.5"/>
<ellipse cx="138.1" cy="226.9" rx="10.6" ry="12.6" fill="none" stroke="#000" stroke-width="1.5"/>
<text x="145.1" y="170.8" font-family="Liberation Sans, Arial, sans-serif" stroke="#000" stroke-width="0.3" font-size="19.85">cool storage</text>
<text x="129.7" y="266.9" font-family="Liberation Sans, Arial, sans-serif" stroke="#000" stroke-width="0.3" font-size="19.85">cool release</text>
</svg>
</body></html>
